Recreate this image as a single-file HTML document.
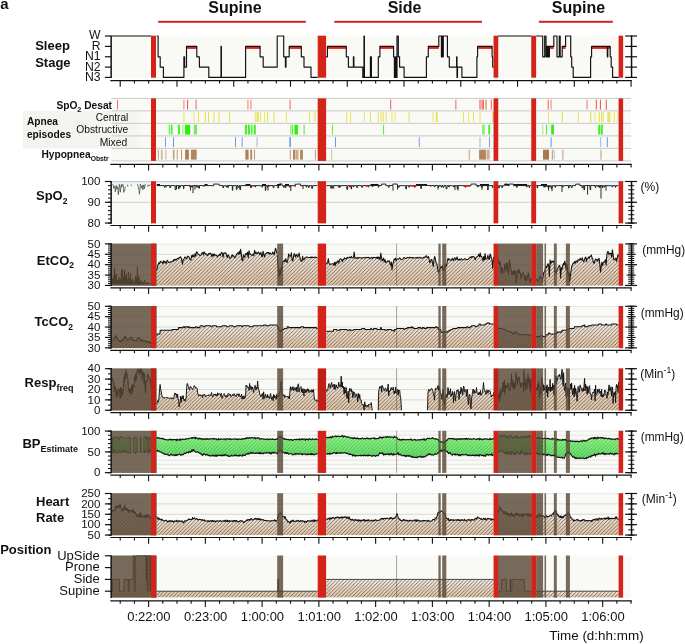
<!DOCTYPE html>
<html lang="en"><head><meta charset="utf-8"><title>Polysomnography overview</title>
<style>
html,body{margin:0;padding:0;background:#fff;}
body{width:685px;height:644px;overflow:hidden;}
svg{display:block;font-family:"Liberation Sans",sans-serif;fill:#111;}
svg rect,svg polygon,svg polyline,svg line,svg path{shape-rendering:auto;}
</style></head><body>
<svg width="685" height="644" viewBox="0 0 685 644">
<defs>
<pattern id="hatch" width="3.65" height="3.65" patternUnits="userSpaceOnUse">
<path d="M-1,1 L1,-1 M-0.5,4.15 L4.15,-0.5 M2.65,4.65 L4.65,2.65" stroke="#3e342b" stroke-width="0.8" stroke-opacity="0.78" fill="none"/>
</pattern>
<pattern id="hatchg" width="3.65" height="3.65" patternUnits="userSpaceOnUse">
<path d="M-1,1 L1,-1 M-0.5,4.15 L4.15,-0.5 M2.65,4.65 L4.65,2.65" stroke="#1d5c22" stroke-width="0.8" stroke-opacity="0.42" fill="none"/>
</pattern>
<linearGradient id="tan" x1="0" y1="0" x2="0" y2="1">
<stop offset="0" stop-color="#f3ebe2"/><stop offset="1" stop-color="#dfc4a7"/>
</linearGradient>
<linearGradient id="grn" x1="0" y1="0" x2="0" y2="1">
<stop offset="0" stop-color="#8ff887"/><stop offset="1" stop-color="#62da66"/>
</linearGradient>
<linearGradient id="blu" x1="0" y1="0" x2="0" y2="1">
<stop offset="0" stop-color="#d3e3f3"/><stop offset="1" stop-color="#e6eef5" stop-opacity="0"/>
</linearGradient>
<linearGradient id="fade" x1="0" y1="0" x2="1" y2="0">
<stop offset="0" stop-color="#f3f3ef"/><stop offset="0.75" stop-color="#f3f3ef" stop-opacity="0.8"/><stop offset="1" stop-color="#f3f3ef" stop-opacity="0"/>
</linearGradient>
</defs>
<rect width="685" height="644" fill="#fff"/>

<text x="0.3" y="8.6" font-size="15" font-weight="bold" text-anchor="start" >a</text>
<text x="234.9" y="12.6" font-size="16" font-weight="bold" text-anchor="middle" >Supine</text>
<rect x="158.2" y="20.8" width="147.6" height="2" fill="#d42318" />
<text x="404.6" y="13.2" font-size="16" font-weight="bold" text-anchor="middle" >Side</text>
<rect x="334.3" y="20.8" width="147.7" height="2" fill="#d42318" />
<text x="578.5" y="12.5" font-size="16" font-weight="bold" text-anchor="middle" >Supine</text>
<rect x="538.9" y="20.8" width="73.9" height="2" fill="#d42318" />
<rect x="111.5" y="35.7" width="512.8" height="42.6" fill="#f9f9f6" />
<text x="35.2" y="49.5" font-size="13" font-weight="bold" text-anchor="start" >Sleep</text>
<text x="35.2" y="66.7" font-size="13" font-weight="bold" text-anchor="start" >Stage</text>
<text x="100.6" y="39.45" font-size="12.2" font-weight="normal" text-anchor="end" >W</text>
<text x="100.6" y="49.85" font-size="12.2" font-weight="normal" text-anchor="end" >R</text>
<text x="100.6" y="60.2" font-size="12.2" font-weight="normal" text-anchor="end" >N1</text>
<text x="100.6" y="70.55" font-size="12.2" font-weight="normal" text-anchor="end" >N2</text>
<text x="100.6" y="80.85" font-size="12.2" font-weight="normal" text-anchor="end" >N3</text>
<line x1="111.15" y1="35.4" x2="111.15" y2="78" stroke="#111" stroke-width="1.5" />
<line x1="104.9" y1="36" x2="111.15" y2="36" stroke="#111" stroke-width="1.2" />
<line x1="104.9" y1="46.4" x2="111.15" y2="46.4" stroke="#111" stroke-width="1.2" />
<line x1="104.9" y1="56.75" x2="111.15" y2="56.75" stroke="#111" stroke-width="1.2" />
<line x1="104.9" y1="67.1" x2="111.15" y2="67.1" stroke="#111" stroke-width="1.2" />
<line x1="104.9" y1="77.4" x2="111.15" y2="77.4" stroke="#111" stroke-width="1.2" />
<line x1="631.55" y1="35.4" x2="631.55" y2="78" stroke="#111" stroke-width="1.5" />
<line x1="625.1" y1="36" x2="637" y2="36" stroke="#111" stroke-width="1.2" />
<line x1="625.1" y1="46.4" x2="637" y2="46.4" stroke="#111" stroke-width="1.2" />
<line x1="625.1" y1="56.75" x2="637" y2="56.75" stroke="#111" stroke-width="1.2" />
<line x1="625.1" y1="67.1" x2="637" y2="67.1" stroke="#111" stroke-width="1.2" />
<line x1="625.1" y1="77.4" x2="637" y2="77.4" stroke="#111" stroke-width="1.2" />
<line x1="110.3" y1="80.6" x2="631.8" y2="80.6" stroke="#111" stroke-width="1.2" />
<line x1="120.22" y1="80.6" x2="120.22" y2="86.8" stroke="#111" stroke-width="1.1" />
<line x1="134.41" y1="80.6" x2="134.41" y2="83.6" stroke="#111" stroke-width="1.1" />
<line x1="148.6" y1="80.6" x2="148.6" y2="83.6" stroke="#111" stroke-width="1.1" />
<line x1="162.79" y1="80.6" x2="162.79" y2="83.6" stroke="#111" stroke-width="1.1" />
<line x1="176.98" y1="80.6" x2="176.98" y2="86.8" stroke="#111" stroke-width="1.1" />
<line x1="191.17" y1="80.6" x2="191.17" y2="83.6" stroke="#111" stroke-width="1.1" />
<line x1="205.36" y1="80.6" x2="205.36" y2="83.6" stroke="#111" stroke-width="1.1" />
<line x1="219.55" y1="80.6" x2="219.55" y2="83.6" stroke="#111" stroke-width="1.1" />
<line x1="233.74" y1="80.6" x2="233.74" y2="86.8" stroke="#111" stroke-width="1.1" />
<line x1="247.93" y1="80.6" x2="247.93" y2="83.6" stroke="#111" stroke-width="1.1" />
<line x1="262.12" y1="80.6" x2="262.12" y2="83.6" stroke="#111" stroke-width="1.1" />
<line x1="276.31" y1="80.6" x2="276.31" y2="83.6" stroke="#111" stroke-width="1.1" />
<line x1="290.5" y1="80.6" x2="290.5" y2="86.8" stroke="#111" stroke-width="1.1" />
<line x1="304.69" y1="80.6" x2="304.69" y2="83.6" stroke="#111" stroke-width="1.1" />
<line x1="318.88" y1="80.6" x2="318.88" y2="83.6" stroke="#111" stroke-width="1.1" />
<line x1="333.07" y1="80.6" x2="333.07" y2="83.6" stroke="#111" stroke-width="1.1" />
<line x1="347.26" y1="80.6" x2="347.26" y2="86.8" stroke="#111" stroke-width="1.1" />
<line x1="361.45" y1="80.6" x2="361.45" y2="83.6" stroke="#111" stroke-width="1.1" />
<line x1="375.64" y1="80.6" x2="375.64" y2="83.6" stroke="#111" stroke-width="1.1" />
<line x1="389.83" y1="80.6" x2="389.83" y2="83.6" stroke="#111" stroke-width="1.1" />
<line x1="404.02" y1="80.6" x2="404.02" y2="86.8" stroke="#111" stroke-width="1.1" />
<line x1="418.21" y1="80.6" x2="418.21" y2="83.6" stroke="#111" stroke-width="1.1" />
<line x1="432.4" y1="80.6" x2="432.4" y2="83.6" stroke="#111" stroke-width="1.1" />
<line x1="446.59" y1="80.6" x2="446.59" y2="83.6" stroke="#111" stroke-width="1.1" />
<line x1="460.78" y1="80.6" x2="460.78" y2="86.8" stroke="#111" stroke-width="1.1" />
<line x1="474.97" y1="80.6" x2="474.97" y2="83.6" stroke="#111" stroke-width="1.1" />
<line x1="489.16" y1="80.6" x2="489.16" y2="83.6" stroke="#111" stroke-width="1.1" />
<line x1="503.35" y1="80.6" x2="503.35" y2="83.6" stroke="#111" stroke-width="1.1" />
<line x1="517.54" y1="80.6" x2="517.54" y2="86.8" stroke="#111" stroke-width="1.1" />
<line x1="531.73" y1="80.6" x2="531.73" y2="83.6" stroke="#111" stroke-width="1.1" />
<line x1="545.92" y1="80.6" x2="545.92" y2="83.6" stroke="#111" stroke-width="1.1" />
<line x1="560.11" y1="80.6" x2="560.11" y2="83.6" stroke="#111" stroke-width="1.1" />
<line x1="574.3" y1="80.6" x2="574.3" y2="86.8" stroke="#111" stroke-width="1.1" />
<line x1="588.49" y1="80.6" x2="588.49" y2="83.6" stroke="#111" stroke-width="1.1" />
<line x1="602.68" y1="80.6" x2="602.68" y2="83.6" stroke="#111" stroke-width="1.1" />
<line x1="616.87" y1="80.6" x2="616.87" y2="83.6" stroke="#111" stroke-width="1.1" />
<line x1="631.06" y1="80.6" x2="631.06" y2="86.8" stroke="#111" stroke-width="1.1" />
<rect x="186.5" y="46.4" width="10.3" height="2.5" fill="#ee1c12" />
<rect x="245.6" y="46.4" width="14.5" height="2.5" fill="#ee1c12" />
<rect x="289.2" y="46.4" width="12.1" height="2.5" fill="#ee1c12" />
<rect x="327.4" y="46.4" width="18.9" height="2.5" fill="#ee1c12" />
<rect x="379.9" y="46.4" width="13.7" height="2.5" fill="#ee1c12" />
<rect x="428.3" y="46.4" width="10.5" height="2.5" fill="#ee1c12" />
<rect x="477.6" y="46.4" width="14.5" height="2.5" fill="#ee1c12" />
<rect x="549" y="46.4" width="4.8" height="2.5" fill="#ee1c12" />
<rect x="562.6" y="46.4" width="3" height="2.5" fill="#ee1c12" />
<rect x="591.6" y="46.4" width="18.6" height="2.5" fill="#ee1c12" />
<polyline points="111.9,36 151,36 151,36" fill="none" stroke="#111" stroke-width="1.15" stroke-linejoin="round" />
<polyline points="156.8,36 158.1,36 158.1,56.8 160.2,56.8 160.2,67.1 163.4,67.1 163.4,77.4 183.9,77.4 183.9,56.8 184.6,56.8 184.6,67.1 185.4,67.1 185.4,67.1 186.5,67.1 186.5,46.4 196.8,46.4 196.8,56.8 199.4,56.8 199.4,67.1 208.8,67.1 208.8,77.4 221,77.4 221,46.4 221.4,46.4 221.4,77.4 245.6,77.4 245.6,46.4 260.1,46.4 260.1,56.8 263.2,56.8 263.2,67.1 277.2,67.1 277.2,36 283.7,36 283.7,56.8 285.4,56.8 285.4,67.1 286,67.1 286,56.8 289.2,56.8 289.2,46.4 301.3,46.4 301.3,56.8 304,56.8 304,67.1 311,67.1 311,77.4 317.6,77.4 317.6,77.4" fill="none" stroke="#111" stroke-width="1.15" stroke-linejoin="round" />
<polyline points="325.8,56.8 327.4,56.8 327.4,46.4 346.3,46.4 346.3,56.8 348.4,56.8 348.4,67.1 353.4,67.1 353.4,56.8 353.9,56.8 353.9,67.1 362.8,67.1 362.8,77.4 364,77.4 364,36 364.4,36 364.4,77.4 370.4,77.4 370.4,56.8 371.4,56.8 371.4,77.4 378.3,77.4 378.3,56.8 379.9,56.8 379.9,46.4 393.6,46.4 393.6,56.8 394.4,56.8 394.4,77.4 395.6,77.4 395.6,56.8 396.4,56.8 396.4,77.4 397,77.4 397,36 398.3,36 398.3,56.8 399.6,56.8 399.6,67.1 404.1,67.1 404.1,77.4 426.4,77.4 426.4,56.8 428.3,56.8 428.3,46.4 438.8,46.4 438.8,36 441.4,36 441.4,56.8 442,56.8 442,36 442.8,36 442.8,56.8 443.3,56.8 443.3,36 447.4,36 447.4,56.8 449.3,56.8 449.3,67.1 456.6,67.1 456.6,56.8 457,56.8 457,77.4 457.5,77.4 457.5,67.1 461.9,67.1 461.9,77.4 476.9,77.4 476.9,56.8 477.6,56.8 477.6,46.4 492.1,46.4 492.1,56.8 492.7,56.8 492.7,67.1 493.7,67.1 493.7,67.1" fill="none" stroke="#111" stroke-width="1.15" stroke-linejoin="round" />
<polyline points="498,36 531.6,36 531.6,36" fill="none" stroke="#111" stroke-width="1.15" stroke-linejoin="round" />
<polyline points="536.1,36 542.7,36 542.7,56.8 544.7,56.8 544.7,36 546,36 546,56.8 546.5,56.8 546.5,46.4 547,46.4 547,56.8 547.5,56.8 547.5,46.4 548,46.4 548,56.8 548.5,56.8 548.5,46.4 549,46.4 549,56.8 549.4,56.8 549.4,46.4 553.8,46.4 553.8,36 557,36 557,56.8 559.3,56.8 559.3,36 560.2,36 560.2,56.8 562.2,56.8 562.2,46.4 565.6,46.4 565.6,36 570.7,36 570.7,56.8 571.7,56.8 571.7,67.1 573.2,67.1 573.2,77.4 590.6,77.4 590.6,56.8 591.6,56.8 591.6,46.4 607.3,46.4 607.3,56.8 607.8,56.8 607.8,46.4 610.2,46.4 610.2,56.8 611.2,56.8 611.2,67.1 612.6,67.1 612.6,77.4 618.7,77.4 618.7,77.4" fill="none" stroke="#111" stroke-width="1.15" stroke-linejoin="round" />
<rect x="151" y="35.7" width="5" height="42" fill="#d42318" />
<rect x="317.7" y="35.7" width="8.4" height="42" fill="#d42318" />
<rect x="493.55" y="35.7" width="4.7" height="42" fill="#d42318" />
<rect x="531.25" y="35.7" width="4.85" height="42" fill="#d42318" />
<rect x="618.6" y="35.7" width="4.5" height="42" fill="#d42318" />
<rect x="23" y="111" width="88.5" height="37.4" fill="#f3f3ef" />
<rect x="111.5" y="98.4" width="519.5" height="62.5" fill="#f9f9f6" />
<rect x="111.5" y="111" width="31.5" height="37.4" fill="url(#fade)" />
<line x1="111.5" y1="98.4" x2="631" y2="98.4" stroke="#c4c4c2" stroke-width="0.9" />
<line x1="111.5" y1="110.9" x2="631" y2="110.9" stroke="#c4c4c2" stroke-width="0.9" />
<line x1="111.5" y1="123.4" x2="631" y2="123.4" stroke="#c4c4c2" stroke-width="0.9" />
<line x1="111.5" y1="135.9" x2="631" y2="135.9" stroke="#c4c4c2" stroke-width="0.9" />
<line x1="111.5" y1="148.4" x2="631" y2="148.4" stroke="#c4c4c2" stroke-width="0.9" />
<line x1="111.5" y1="160.9" x2="631" y2="160.9" stroke="#c4c4c2" stroke-width="0.9" />
<rect x="117" y="99.7" width="0.8" height="9.9" fill="#ee3a34" fill-opacity="0.9"/>
<rect x="183.3" y="99.7" width="1.2" height="9.9" fill="#ee3a34" fill-opacity="0.5"/>
<rect x="187.1" y="99.7" width="1" height="9.9" fill="#ee3a34" fill-opacity="0.9"/>
<rect x="195.55" y="99.7" width="1.1" height="9.9" fill="#ee3a34" fill-opacity="0.7"/>
<rect x="247.35" y="99.7" width="1.1" height="9.9" fill="#ee3a34" fill-opacity="0.6"/>
<rect x="250.35" y="99.7" width="1.1" height="9.9" fill="#ee3a34" fill-opacity="0.6"/>
<rect x="289.55" y="99.7" width="1.1" height="9.9" fill="#ee3a34" fill-opacity="0.7"/>
<rect x="390.2" y="99.7" width="1" height="9.9" fill="#ee3a34" fill-opacity="0.8"/>
<rect x="455.05" y="99.7" width="1.5" height="9.9" fill="#ee3a34" fill-opacity="0.5"/>
<rect x="479.5" y="99.7" width="1" height="9.9" fill="#ee3a34" fill-opacity="0.9"/>
<rect x="481.6" y="99.7" width="1" height="9.9" fill="#ee3a34" fill-opacity="0.9"/>
<rect x="482.9" y="99.7" width="1" height="9.9" fill="#ee3a34" fill-opacity="0.8"/>
<rect x="485.5" y="99.7" width="1" height="9.9" fill="#ee3a34" fill-opacity="0.8"/>
<rect x="490.85" y="99.7" width="0.9" height="9.9" fill="#ee3a34" fill-opacity="0.9"/>
<rect x="547.7" y="99.7" width="1" height="9.9" fill="#ee3a34" fill-opacity="0.8"/>
<rect x="550.5" y="99.7" width="1.2" height="9.9" fill="#ee3a34" fill-opacity="0.5"/>
<rect x="586.45" y="99.7" width="1.3" height="9.9" fill="#ee3a34" fill-opacity="0.5"/>
<rect x="595.8" y="99.7" width="1" height="9.9" fill="#ee3a34" fill-opacity="0.9"/>
<rect x="599.9" y="99.7" width="1" height="9.9" fill="#ee3a34" fill-opacity="0.9"/>
<rect x="605.8" y="99.7" width="1" height="9.9" fill="#ee3a34" fill-opacity="0.9"/>
<rect x="183.1" y="112.2" width="1.6" height="9.9" fill="#e0de28" fill-opacity="0.5"/>
<rect x="193.3" y="112.2" width="1.4" height="9.9" fill="#e0de28" fill-opacity="0.5"/>
<rect x="198" y="112.2" width="1" height="9.9" fill="#e0de28" fill-opacity="0.9"/>
<rect x="204.9" y="112.2" width="1" height="9.9" fill="#e0de28" fill-opacity="0.9"/>
<rect x="208" y="112.2" width="1" height="9.9" fill="#e0de28" fill-opacity="0.9"/>
<rect x="213.2" y="112.2" width="1.6" height="9.9" fill="#e0de28" fill-opacity="0.5"/>
<rect x="218.2" y="112.2" width="1.6" height="9.9" fill="#e0de28" fill-opacity="0.5"/>
<rect x="229" y="112.2" width="1" height="9.9" fill="#e0de28" fill-opacity="0.9"/>
<rect x="254.8" y="112.2" width="1.2" height="9.9" fill="#e0de28" fill-opacity="0.6"/>
<rect x="256.7" y="112.2" width="2" height="9.9" fill="#e0de28" fill-opacity="0.9"/>
<rect x="260.1" y="112.2" width="1" height="9.9" fill="#e0de28" fill-opacity="0.7"/>
<rect x="264.1" y="112.2" width="1" height="9.9" fill="#e0de28" fill-opacity="0.7"/>
<rect x="267.1" y="112.2" width="1" height="9.9" fill="#e0de28" fill-opacity="0.9"/>
<rect x="273" y="112.2" width="1.8" height="9.9" fill="#e0de28" fill-opacity="0.5"/>
<rect x="285.95" y="112.2" width="0.9" height="9.9" fill="#e0de28" fill-opacity="0.9"/>
<rect x="309.1" y="112.2" width="1" height="9.9" fill="#e0de28" fill-opacity="0.8"/>
<rect x="314" y="112.2" width="1.8" height="9.9" fill="#e0de28" fill-opacity="0.5"/>
<rect x="346.3" y="112.2" width="1" height="9.9" fill="#e0de28" fill-opacity="0.8"/>
<rect x="350" y="112.2" width="1" height="9.9" fill="#e0de28" fill-opacity="0.8"/>
<rect x="363.9" y="112.2" width="1" height="9.9" fill="#e0de28" fill-opacity="0.7"/>
<rect x="370" y="112.2" width="1" height="9.9" fill="#e0de28" fill-opacity="0.8"/>
<rect x="377.8" y="112.2" width="1" height="9.9" fill="#e0de28" fill-opacity="0.8"/>
<rect x="380.5" y="112.2" width="1" height="9.9" fill="#e0de28" fill-opacity="0.8"/>
<rect x="382.8" y="112.2" width="1" height="9.9" fill="#e0de28" fill-opacity="0.8"/>
<rect x="385.7" y="112.2" width="1" height="9.9" fill="#e0de28" fill-opacity="0.8"/>
<rect x="391.5" y="112.2" width="1" height="9.9" fill="#e0de28" fill-opacity="0.8"/>
<rect x="394.7" y="112.2" width="1" height="9.9" fill="#e0de28" fill-opacity="0.7"/>
<rect x="408.5" y="112.2" width="1.2" height="9.9" fill="#e0de28" fill-opacity="0.7"/>
<rect x="432.5" y="112.2" width="1" height="9.9" fill="#e0de28" fill-opacity="0.7"/>
<rect x="435.85" y="112.2" width="1.7" height="9.9" fill="#e0de28" fill-opacity="0.9"/>
<rect x="463" y="112.2" width="1" height="9.9" fill="#e0de28" fill-opacity="0.8"/>
<rect x="468.2" y="112.2" width="1" height="9.9" fill="#e0de28" fill-opacity="0.7"/>
<rect x="473" y="112.2" width="1" height="9.9" fill="#e0de28" fill-opacity="0.8"/>
<rect x="479.5" y="112.2" width="1" height="9.9" fill="#e0de28" fill-opacity="0.8"/>
<rect x="548" y="112.2" width="1" height="9.9" fill="#e0de28" fill-opacity="0.8"/>
<rect x="561.75" y="112.2" width="1.1" height="9.9" fill="#e0de28" fill-opacity="0.9"/>
<rect x="577.8" y="112.2" width="1" height="9.9" fill="#e0de28" fill-opacity="0.8"/>
<rect x="590.05" y="112.2" width="1.1" height="9.9" fill="#e0de28" fill-opacity="0.9"/>
<rect x="594.4" y="112.2" width="1.2" height="9.9" fill="#e0de28" fill-opacity="0.5"/>
<rect x="598.8" y="112.2" width="1" height="9.9" fill="#e0de28" fill-opacity="0.9"/>
<rect x="601.1" y="112.2" width="1" height="9.9" fill="#e0de28" fill-opacity="0.9"/>
<rect x="602.7" y="112.2" width="1" height="9.9" fill="#e0de28" fill-opacity="0.8"/>
<rect x="607.3" y="112.2" width="3.1" height="9.9" fill="#e0de28" fill-opacity="0.75"/>
<rect x="613.8" y="112.2" width="1" height="9.9" fill="#e0de28" fill-opacity="0.8"/>
<rect x="617" y="112.2" width="1.4" height="9.9" fill="#e0de28" fill-opacity="0.5"/>
<rect x="492.5" y="112.2" width="1" height="9.9" fill="#e09020" fill-opacity="0.9"/>
<rect x="168.8" y="124.7" width="1" height="9.9" fill="#2eee10" fill-opacity="0.9"/>
<rect x="170.9" y="124.7" width="1.6" height="9.9" fill="#2eee10" fill-opacity="0.9"/>
<rect x="177.9" y="124.7" width="2" height="9.9" fill="#2eee10" fill-opacity="0.9"/>
<rect x="182.2" y="124.7" width="1.2" height="9.9" fill="#2eee10" fill-opacity="0.5"/>
<rect x="185" y="124.7" width="5.2" height="9.9" fill="#2eee10" />
<rect x="193.85" y="124.7" width="0.9" height="9.9" fill="#2eee10" fill-opacity="0.9"/>
<rect x="194.95" y="124.7" width="0.9" height="9.9" fill="#2eee10" fill-opacity="0.7"/>
<rect x="195.95" y="124.7" width="0.9" height="9.9" fill="#2eee10" fill-opacity="0.9"/>
<rect x="244.9" y="124.7" width="2" height="9.9" fill="#2eee10" fill-opacity="0.9"/>
<rect x="247.9" y="124.7" width="2" height="9.9" fill="#2eee10" fill-opacity="0.9"/>
<rect x="251.1" y="124.7" width="1.4" height="9.9" fill="#2eee10" fill-opacity="0.9"/>
<rect x="253.8" y="124.7" width="2" height="9.9" fill="#2eee10" fill-opacity="0.9"/>
<rect x="290.1" y="124.7" width="1" height="9.9" fill="#2eee10" fill-opacity="0.5"/>
<rect x="291.7" y="124.7" width="1.2" height="9.9" fill="#2eee10" fill-opacity="0.9"/>
<rect x="294.4" y="124.7" width="3.5" height="9.9" fill="#2eee10" />
<rect x="303.55" y="124.7" width="1.1" height="9.9" fill="#2eee10" fill-opacity="0.8"/>
<rect x="331.95" y="124.7" width="0.9" height="9.9" fill="#2eee10" fill-opacity="0.9"/>
<rect x="383.15" y="124.7" width="0.9" height="9.9" fill="#2eee10" fill-opacity="0.9"/>
<rect x="482" y="124.7" width="2.8" height="9.9" fill="#2eee10" fill-opacity="0.55"/>
<rect x="488.3" y="124.7" width="1.8" height="9.9" fill="#2eee10" fill-opacity="0.9"/>
<rect x="542.2" y="124.7" width="1" height="9.9" fill="#2eee10" fill-opacity="0.5"/>
<rect x="545.9" y="124.7" width="1" height="9.9" fill="#2eee10" fill-opacity="0.9"/>
<rect x="551.2" y="124.7" width="2.7" height="9.9" fill="#2eee10" />
<rect x="598.2" y="124.7" width="1.8" height="9.9" fill="#2eee10" fill-opacity="0.9"/>
<rect x="600.6" y="124.7" width="2.3" height="9.9" fill="#2eee10" fill-opacity="0.85"/>
<rect x="165.05" y="137.2" width="0.9" height="9.9" fill="#4f8fee" fill-opacity="0.9"/>
<rect x="173" y="137.2" width="1" height="9.9" fill="#4f8fee" fill-opacity="0.9"/>
<rect x="235" y="137.2" width="1" height="9.9" fill="#4f8fee" fill-opacity="0.9"/>
<rect x="241.7" y="137.2" width="1" height="9.9" fill="#4f8fee" fill-opacity="0.8"/>
<rect x="256.5" y="137.2" width="1.2" height="9.9" fill="#4f8fee" fill-opacity="0.5"/>
<rect x="289.35" y="137.2" width="1.5" height="9.9" fill="#4f8fee" fill-opacity="0.9"/>
<rect x="335" y="137.2" width="1" height="9.9" fill="#4f8fee" fill-opacity="0.9"/>
<rect x="418.8" y="137.2" width="1" height="9.9" fill="#4f8fee" fill-opacity="0.8"/>
<rect x="479.4" y="137.2" width="1.2" height="9.9" fill="#4f8fee" fill-opacity="0.5"/>
<rect x="489.05" y="137.2" width="0.9" height="9.9" fill="#4f8fee" fill-opacity="0.9"/>
<rect x="550.6" y="137.2" width="1" height="9.9" fill="#4f8fee" fill-opacity="0.9"/>
<rect x="600" y="137.2" width="1.2" height="9.9" fill="#4f8fee" fill-opacity="0.5"/>
<rect x="606.8" y="137.2" width="1" height="9.9" fill="#4f8fee" fill-opacity="0.9"/>
<rect x="157.85" y="149.7" width="0.9" height="9.9" fill="#a9784c" fill-opacity="0.8"/>
<rect x="160.9" y="149.7" width="1.8" height="9.9" fill="#a9784c" fill-opacity="0.5"/>
<rect x="165.1" y="149.7" width="1.4" height="9.9" fill="#a9784c" fill-opacity="0.4"/>
<rect x="172.9" y="149.7" width="1.6" height="9.9" fill="#a9784c" fill-opacity="0.7"/>
<rect x="176.7" y="149.7" width="1" height="9.9" fill="#a9784c" fill-opacity="0.7"/>
<rect x="181" y="149.7" width="1" height="9.9" fill="#a9784c" fill-opacity="0.8"/>
<rect x="185.1" y="149.7" width="3.8" height="9.9" fill="#a9784c" fill-opacity="0.95"/>
<rect x="190.9" y="149.7" width="5.8" height="9.9" fill="#a9784c" fill-opacity="0.9"/>
<rect x="245.4" y="149.7" width="3.2" height="9.9" fill="#a9784c" fill-opacity="0.95"/>
<rect x="250.3" y="149.7" width="1.8" height="9.9" fill="#a9784c" fill-opacity="0.9"/>
<rect x="254" y="149.7" width="1" height="9.9" fill="#a9784c" fill-opacity="0.8"/>
<rect x="289.85" y="149.7" width="0.9" height="9.9" fill="#a9784c" fill-opacity="0.8"/>
<rect x="293.1" y="149.7" width="2.2" height="9.9" fill="#a9784c" fill-opacity="0.95"/>
<rect x="295.8" y="149.7" width="2.7" height="9.9" fill="#a9784c" fill-opacity="0.6"/>
<rect x="300.1" y="149.7" width="2.8" height="9.9" fill="#a9784c" fill-opacity="0.9"/>
<rect x="314.95" y="149.7" width="0.9" height="9.9" fill="#a9784c" fill-opacity="0.8"/>
<rect x="331.1" y="149.7" width="1" height="9.9" fill="#a9784c" fill-opacity="0.45"/>
<rect x="468.75" y="149.7" width="0.9" height="9.9" fill="#a9784c" fill-opacity="0.8"/>
<rect x="479.1" y="149.7" width="6.8" height="9.9" fill="#a9784c" fill-opacity="0.9"/>
<rect x="486.5" y="149.7" width="3.3" height="9.9" fill="#a9784c" fill-opacity="0.55"/>
<rect x="543" y="149.7" width="6" height="9.9" fill="#a9784c" />
<rect x="551.8" y="149.7" width="1" height="9.9" fill="#a9784c" fill-opacity="0.8"/>
<rect x="553.7" y="149.7" width="1" height="9.9" fill="#a9784c" fill-opacity="0.5"/>
<rect x="562" y="149.7" width="1.6" height="9.9" fill="#a9784c" fill-opacity="0.45"/>
<rect x="600.2" y="149.7" width="1.6" height="9.9" fill="#a9784c" fill-opacity="0.45"/>
<rect x="151" y="98.4" width="5" height="62.5" fill="#d42318" />
<rect x="317.7" y="98.4" width="8.4" height="62.5" fill="#d42318" />
<rect x="493.55" y="98.4" width="4.7" height="62.5" fill="#d42318" />
<rect x="531.25" y="98.4" width="4.85" height="62.5" fill="#d42318" />
<rect x="618.6" y="98.4" width="4.5" height="62.5" fill="#d42318" />
<line x1="110.3" y1="164.4" x2="631.8" y2="164.4" stroke="#111" stroke-width="1.2" />
<line x1="120.22" y1="164.4" x2="120.22" y2="167.4" stroke="#111" stroke-width="1.1" />
<line x1="134.41" y1="164.4" x2="134.41" y2="167.4" stroke="#111" stroke-width="1.1" />
<line x1="148.6" y1="164.4" x2="148.6" y2="170.6" stroke="#111" stroke-width="1.1" />
<line x1="162.79" y1="164.4" x2="162.79" y2="167.4" stroke="#111" stroke-width="1.1" />
<line x1="176.98" y1="164.4" x2="176.98" y2="167.4" stroke="#111" stroke-width="1.1" />
<line x1="191.17" y1="164.4" x2="191.17" y2="167.4" stroke="#111" stroke-width="1.1" />
<line x1="205.36" y1="164.4" x2="205.36" y2="170.6" stroke="#111" stroke-width="1.1" />
<line x1="219.55" y1="164.4" x2="219.55" y2="167.4" stroke="#111" stroke-width="1.1" />
<line x1="233.74" y1="164.4" x2="233.74" y2="167.4" stroke="#111" stroke-width="1.1" />
<line x1="247.93" y1="164.4" x2="247.93" y2="167.4" stroke="#111" stroke-width="1.1" />
<line x1="262.12" y1="164.4" x2="262.12" y2="170.6" stroke="#111" stroke-width="1.1" />
<line x1="276.31" y1="164.4" x2="276.31" y2="167.4" stroke="#111" stroke-width="1.1" />
<line x1="290.5" y1="164.4" x2="290.5" y2="167.4" stroke="#111" stroke-width="1.1" />
<line x1="304.69" y1="164.4" x2="304.69" y2="167.4" stroke="#111" stroke-width="1.1" />
<line x1="318.88" y1="164.4" x2="318.88" y2="170.6" stroke="#111" stroke-width="1.1" />
<line x1="333.07" y1="164.4" x2="333.07" y2="167.4" stroke="#111" stroke-width="1.1" />
<line x1="347.26" y1="164.4" x2="347.26" y2="167.4" stroke="#111" stroke-width="1.1" />
<line x1="361.45" y1="164.4" x2="361.45" y2="167.4" stroke="#111" stroke-width="1.1" />
<line x1="375.64" y1="164.4" x2="375.64" y2="170.6" stroke="#111" stroke-width="1.1" />
<line x1="389.83" y1="164.4" x2="389.83" y2="167.4" stroke="#111" stroke-width="1.1" />
<line x1="404.02" y1="164.4" x2="404.02" y2="167.4" stroke="#111" stroke-width="1.1" />
<line x1="418.21" y1="164.4" x2="418.21" y2="167.4" stroke="#111" stroke-width="1.1" />
<line x1="432.4" y1="164.4" x2="432.4" y2="170.6" stroke="#111" stroke-width="1.1" />
<line x1="446.59" y1="164.4" x2="446.59" y2="167.4" stroke="#111" stroke-width="1.1" />
<line x1="460.78" y1="164.4" x2="460.78" y2="167.4" stroke="#111" stroke-width="1.1" />
<line x1="474.97" y1="164.4" x2="474.97" y2="167.4" stroke="#111" stroke-width="1.1" />
<line x1="489.16" y1="164.4" x2="489.16" y2="170.6" stroke="#111" stroke-width="1.1" />
<line x1="503.35" y1="164.4" x2="503.35" y2="167.4" stroke="#111" stroke-width="1.1" />
<line x1="517.54" y1="164.4" x2="517.54" y2="167.4" stroke="#111" stroke-width="1.1" />
<line x1="531.73" y1="164.4" x2="531.73" y2="167.4" stroke="#111" stroke-width="1.1" />
<line x1="545.92" y1="164.4" x2="545.92" y2="170.6" stroke="#111" stroke-width="1.1" />
<line x1="560.11" y1="164.4" x2="560.11" y2="167.4" stroke="#111" stroke-width="1.1" />
<line x1="574.3" y1="164.4" x2="574.3" y2="167.4" stroke="#111" stroke-width="1.1" />
<line x1="588.49" y1="164.4" x2="588.49" y2="167.4" stroke="#111" stroke-width="1.1" />
<line x1="602.68" y1="164.4" x2="602.68" y2="170.6" stroke="#111" stroke-width="1.1" />
<line x1="616.87" y1="164.4" x2="616.87" y2="167.4" stroke="#111" stroke-width="1.1" />
<line x1="631.06" y1="164.4" x2="631.06" y2="167.4" stroke="#111" stroke-width="1.1" />
<text x="112" y="108.9" font-size="10.2" font-weight="bold" text-anchor="end" >SpO<tspan font-size="7.3" dy="2.6">2</tspan><tspan dy="-2.6"> Desat</tspan></text>
<text x="26.9" y="124.5" font-size="10.2" font-weight="bold" text-anchor="start" >Apnea</text>
<text x="26.9" y="137.7" font-size="10.2" font-weight="bold" text-anchor="start" >episodes</text>
<text x="128.3" y="120.6" font-size="10.1" font-weight="normal" text-anchor="end" >Central</text>
<text x="128.3" y="133" font-size="10.3" font-weight="normal" text-anchor="end" >Obstructive</text>
<text x="127.2" y="145.5" font-size="10.3" font-weight="normal" text-anchor="end" >Mixed</text>
<text x="41.4" y="158.35" font-size="10.2" font-weight="bold" text-anchor="start" >Hypopnea<tspan font-size="6.8" dy="2.4">Obstr</tspan></text>
<rect x="111.5" y="181.2" width="512.8" height="42.55" fill="#f9f9f6" />
<rect x="111.5" y="181.5" width="512.8" height="3.6" fill="url(#blu)" />
<line x1="111.5" y1="181.5" x2="624.3" y2="181.5" stroke="#bcc6d2" stroke-width="0.8" />
<line x1="111.5" y1="202.28" x2="624.3" y2="202.28" stroke="#c9c9c5" stroke-width="0.9" />
<polyline points="112.3,184.3 112.8,184.4 113.3,185.3 113.8,188.5 114.3,186.4 114.8,185.8 115.3,191.8 115.8,188.5 116.3,185.4 116.8,189.1 117.3,187 117.8,187 118.3,194.8 118.8,189.2 119.3,184.3 119.8,186.7 120.3,192.3 120.8,188.4 121.3,184.5 121.8,187.3 122.3,185.4 122.8,184.2 123.3,185.9 123.8,192.4 124.3,189.9 124.8,190.2 125.3,186.4" fill="none" stroke="#333" stroke-width="0.65" stroke-linejoin="round" />
<polyline points="127.2,184.6 127.7,186.3 128.2,185.3" fill="none" stroke="#333" stroke-width="0.65" stroke-linejoin="round" />
<polyline points="131,184.3 131.5,186.1" fill="none" stroke="#333" stroke-width="0.65" stroke-linejoin="round" />
<polyline points="137.4,184 137.9,185 138.4,188.7 138.9,188.5 139.4,194.3 139.9,189.6 140.4,184.1 140.9,185.3 141.4,188.3 141.9,186.3 142.4,185.2 142.9,189.8 143.4,187.5 143.9,184.8 144.4,188.6 144.9,186.3 145.4,184.1" fill="none" stroke="#333" stroke-width="0.65" stroke-linejoin="round" />
<polyline points="147,185 147.5,185.2 148,186.4 148.5,185.6 149,184.9 149.5,185.7 150,185.3 150.5,184.3" fill="none" stroke="#333" stroke-width="0.65" stroke-linejoin="round" />
<line x1="176.5" y1="185.6" x2="176.5" y2="189.1" stroke="#111" stroke-width="0.9" />
<line x1="190.5" y1="185.6" x2="190.5" y2="190.6" stroke="#111" stroke-width="0.9" />
<line x1="193" y1="185.6" x2="193" y2="193.1" stroke="#111" stroke-width="0.9" />
<line x1="195" y1="185.6" x2="195" y2="189.6" stroke="#111" stroke-width="0.9" />
<line x1="268" y1="185.6" x2="268" y2="190.6" stroke="#111" stroke-width="0.9" />
<line x1="290.8" y1="185.6" x2="290.8" y2="191.1" stroke="#111" stroke-width="0.9" />
<line x1="303" y1="185.6" x2="303" y2="189.1" stroke="#111" stroke-width="0.9" />
<line x1="393" y1="185.6" x2="393" y2="190.6" stroke="#111" stroke-width="0.9" />
<line x1="397.5" y1="185.6" x2="397.5" y2="189.6" stroke="#111" stroke-width="0.9" />
<line x1="438" y1="185.6" x2="438" y2="189.6" stroke="#111" stroke-width="0.9" />
<line x1="455" y1="185.6" x2="455" y2="190.1" stroke="#111" stroke-width="0.9" />
<line x1="458" y1="185.6" x2="458" y2="190.6" stroke="#111" stroke-width="0.9" />
<line x1="482" y1="185.6" x2="482" y2="189.6" stroke="#111" stroke-width="0.9" />
<line x1="548.5" y1="185.6" x2="548.5" y2="190.6" stroke="#111" stroke-width="0.9" />
<line x1="552" y1="185.6" x2="552" y2="191.1" stroke="#111" stroke-width="0.9" />
<line x1="562" y1="185.6" x2="562" y2="192.1" stroke="#111" stroke-width="0.9" />
<line x1="587.6" y1="185.6" x2="587.6" y2="194.6" stroke="#111" stroke-width="0.9" />
<line x1="601" y1="185.6" x2="601" y2="198.6" stroke="#111" stroke-width="0.9" />
<line x1="606" y1="185.6" x2="606" y2="190.6" stroke="#111" stroke-width="0.9" />
<polyline points="156.8,185.6 164.3,185.5 164.3,187.2 165.1,187.4 165.1,185.6 166,185.6 166,186.7 166.5,186.7 166.5,185.5 169.8,185.5 169.8,187.6 170.6,187.5 170.6,185.6 175.2,185.6 175.2,189.8 176.2,189.4 176.2,185.7 178.6,185.6 178.6,188.9 179.1,188.7 179.1,185.5 179.7,185.7 179.7,187.1 180.5,187.1 180.5,185.6 183.5,185.7 183.5,188.7 183.9,188.5 183.9,185.5 189.7,185.4 189.7,186.7 190.6,187 190.6,185.8 191.4,185.6 191.4,187 192.4,187 192.4,185.7 196.7,185.6 196.7,187.4 197.3,187.4 197.3,185.6 198.7,185.7 198.7,188.2 199.5,188.2 199.5,185.5 213.8,185.7 213.8,184 219.1,184.2 219.1,185.4 222.9,185.6 222.9,187.9 223.5,187.7 223.5,185.8 226.1,185.8 226.1,186.9 226.8,187 226.8,185.6 227.8,185.3 227.8,187.7 228.3,187.6 228.3,185.6 232.3,185.5 232.3,190.2 232.8,190.2 232.8,185.7 236.3,185.6 236.3,189.3 237,189.4 237,185.5 238.1,185.6 238.1,187.4 239.1,187.8 239.1,185.7 239.9,185.7 239.9,189.8 240.6,189.7 240.6,185.6 250.5,185.6 250.5,187.6 251.4,187.7 251.4,185.8 255,185.7 255,186.9 255.5,186.9 255.5,185.5 262,185.8 262,187.2 262.4,187.2 262.4,185.6 265.3,185.5 265.3,190.3 265.9,190.4 265.9,185.6 267.5,185.6 267.5,187.1 267.9,187.1 267.9,185.4 273,185.6 273,187.5 273.9,187.7 273.9,185.5 277.9,185.7 277.9,188.1 278.6,187.9 278.6,185.5 279.2,185.6 279.2,184 282,183.9 282,185.7 283.6,185.8 283.6,187.3 284.4,187.3 284.4,185.5 285.4,185.6 285.4,187.5 285.8,187.5 285.8,185.8 289.2,185.5 289.2,187 290,187.1 290,185.6 295,185.7 295,184.3 300.5,184 300.5,185.5 306.2,185.4 306.2,187 306.6,187.2 306.6,185.7 308.3,185.5 308.3,187.4 309.2,187.5 309.2,185.6 311.7,185.6 311.7,188.3 312.6,188.3 312.6,185.6 317.4,185.6" fill="none" stroke="#111" stroke-width="0.9" stroke-linejoin="round" />
<polyline points="326.4,185.7 330.7,185.6 330.7,188.2 331.6,188.2 331.6,185.5 332.7,185.5 332.7,188.3 333.7,188.2 333.7,185.6 338.7,185.6 338.7,187.4 339.4,187.6 339.4,185.4 340,185.5 340,186.9 340.8,186.7 340.8,185.6 346.8,185.6 346.8,189.3 347.7,189.2 347.7,185.6 349.7,185.5 349.7,187 350.5,187 350.5,185.6 351.2,185.5 351.2,189 351.6,189 351.6,185.6 353.5,185.5 353.5,186.9 353.9,186.6 353.9,185.7 356.7,185.6 356.7,187.5 357.6,187.5 357.6,185.5 361.6,185.6 361.6,187.2 362.6,187.2 362.6,185.6 368.1,185.4 368.1,187 368.7,187.1 368.7,185.7 372.4,185.6 372.4,186.6 372.8,186.9 372.8,185.6 378.3,185.3 378.3,187.3 379,187 379,185.4 381.5,185.5 381.5,184.2 385.8,184 385.8,185.6 388.7,185.8 388.7,187.5 389.1,187.3 389.1,185.6 392.9,185.4 392.9,184 397.4,184.1 397.4,185.6 398.3,185.6 398.3,187.3 399.3,187.1 399.3,185.6 405.7,185.7 405.7,188.8 406.5,188.9 406.5,185.6 408.8,185.6 408.8,187.2 409.6,187 409.6,185.4 414.3,185.7 414.3,187.2 415.2,187.2 415.2,185.4 420.8,185.6 420.8,188.5 421.4,188.5 421.4,185.3 434.3,185.6 434.3,186.9 435,186.8 435,185.5 438.2,185.6 438.2,187.4 439,187 439,185.6 441.1,185.7 441.1,187.1 441.8,187.2 441.8,185.7 442.9,185.6 442.9,187.2 444,187.2 444,185.5 446,185.6 446,188.7 447,188.8 447,185.6 448.7,185.6 448.7,186.8 449.4,187 449.4,185.6 453.7,185.8 453.7,187 454.4,187.1 454.4,185.6 457.2,185.7 457.2,188.9 457.9,188.5 457.9,185.5 465.1,185.6 465.1,187.3 465.6,187.2 465.6,185.7 471,185.7 471,184.1 476.1,184 476.1,185.7 477.8,185.6 477.8,187.1 478.2,186.9 478.2,185.5 481.4,185.6 481.4,187.1 482.2,187.3 482.2,185.6 487.7,185.5 487.7,189.8 488.2,189.8 488.2,185.7 492.4,185.5 492.4,187.4 492.8,187.6 492.8,185.9 493.5,185.8" fill="none" stroke="#111" stroke-width="0.9" stroke-linejoin="round" />
<polyline points="498.2,185.7 498.7,185.8 498.7,188 499.3,188 499.3,185.7 501.8,185.7 501.8,187.7 502.4,187.6 502.4,185.8 504.4,185.8 504.4,184.1 507.9,184.1 507.9,185.4 509.1,185.7 509.1,184 513.4,184.1 513.4,185.7 516.3,185.6 516.3,187.1 517.2,187.3 517.2,185.5 526.3,185.6 526.3,186.9 527.2,186.9 527.2,185.3 529.1,185.7 529.1,187.5 529.5,187.6 529.5,185.8 531.4,185.6" fill="none" stroke="#111" stroke-width="0.9" stroke-linejoin="round" />
<polyline points="536.3,185.5 537.1,185.5 537.1,188 537.6,187.8 537.6,185.5 543.8,185.6 543.8,187.1 544.5,187.1 544.5,185.5 545.6,185.3 545.6,186.8 546.1,186.9 546.1,185.6 547.4,185.6 547.4,186.8 548,186.9 548,185.7 548.7,185.7 548.7,187.1 549.6,187 549.6,185.7 551.1,185.5 551.1,188.3 552.1,188.4 552.1,185.8 555,185.6 555,187.4 555.5,187.2 555.5,185.7 562.3,185.5 562.3,186.8 563.1,187.2 563.1,185.7 568.6,185.5 568.6,188.1 569,188.1 569,185.7 571.1,185.5 571.1,187.4 572.1,187.6 572.1,185.6 575.6,185.6 575.6,184.2 579.9,184.1 579.9,185.7 582,185.5 582,187.8 582.9,187.9 582.9,185.7 583.9,185.6 583.9,189.6 584.6,189.8 584.6,185.5 590,185.6 590,189.7 590.7,189.7 590.7,185.5 595.1,185.6 595.1,187.4 595.8,187.5 595.8,185.6 598.3,185.5 598.3,186.9 598.9,187 598.9,185.5 599.6,185.6 599.6,187.6 600.3,187.4 600.3,185.6 602.4,185.5 602.4,187.6 603,187.7 603,185.8 604.2,185.6 604.2,186.9 605,186.9 605,185.6 612.1,185.8 612.1,186.6 612.6,186.9 612.6,185.6 615.3,185.8 615.3,187.3 615.8,187.2 615.8,185.6 618.5,185.7" fill="none" stroke="#111" stroke-width="0.9" stroke-linejoin="round" />
<rect x="156.8" y="184" width="3.2" height="1.6" fill="#111" />
<rect x="204.5" y="184" width="3" height="1.6" fill="#111" />
<rect x="245.5" y="184" width="5" height="1.6" fill="#111" />
<rect x="262" y="184" width="4" height="1.6" fill="#111" />
<rect x="277" y="184" width="4" height="1.6" fill="#111" />
<rect x="285" y="184" width="4" height="1.6" fill="#111" />
<rect x="370.5" y="184" width="8" height="1.6" fill="#111" />
<rect x="416" y="184" width="11" height="1.6" fill="#111" />
<rect x="480" y="184" width="9" height="1.6" fill="#111" />
<rect x="505" y="184" width="4" height="1.6" fill="#111" />
<rect x="514" y="184" width="13" height="1.6" fill="#111" />
<rect x="541" y="184" width="6" height="1.6" fill="#111" />
<rect x="189" y="185" width="1.6" height="1.7" fill="#cc1a12" />
<rect x="202.8" y="185" width="1.8" height="1.7" fill="#cc1a12" />
<rect x="251" y="185" width="2.2" height="1.7" fill="#cc1a12" />
<rect x="268.6" y="185" width="1.6" height="1.7" fill="#cc1a12" />
<rect x="294.5" y="185" width="1.5" height="1.7" fill="#cc1a12" />
<rect x="301.8" y="185" width="1.4" height="1.7" fill="#cc1a12" />
<rect x="349" y="185" width="3.5" height="1.7" fill="#cc1a12" />
<rect x="365.5" y="185" width="3.5" height="1.7" fill="#cc1a12" />
<rect x="411" y="185" width="5.5" height="1.7" fill="#cc1a12" />
<rect x="430" y="185" width="1.5" height="1.7" fill="#cc1a12" />
<rect x="463.5" y="185" width="6.5" height="1.7" fill="#cc1a12" />
<rect x="549.5" y="185" width="1.5" height="1.7" fill="#cc1a12" />
<rect x="597" y="185" width="1.5" height="1.7" fill="#cc1a12" />
<rect x="151" y="181.2" width="5" height="42.15" fill="#d42318" />
<rect x="317.7" y="181.2" width="8.4" height="42.15" fill="#d42318" />
<rect x="493.55" y="181.2" width="4.7" height="42.15" fill="#d42318" />
<rect x="531.25" y="181.2" width="4.85" height="42.15" fill="#d42318" />
<rect x="618.6" y="181.2" width="4.5" height="42.15" fill="#d42318" />
<line x1="111.15" y1="180.9" x2="111.15" y2="223.65" stroke="#111" stroke-width="1.5" />
<line x1="108" y1="223.05" x2="111.15" y2="223.05" stroke="#111" stroke-width="1.05" />
<line x1="108" y1="218.89" x2="111.15" y2="218.89" stroke="#111" stroke-width="1.05" />
<line x1="108" y1="214.74" x2="111.15" y2="214.74" stroke="#111" stroke-width="1.05" />
<line x1="108" y1="210.59" x2="111.15" y2="210.59" stroke="#111" stroke-width="1.05" />
<line x1="108" y1="206.43" x2="111.15" y2="206.43" stroke="#111" stroke-width="1.05" />
<line x1="108" y1="202.28" x2="111.15" y2="202.28" stroke="#111" stroke-width="1.05" />
<line x1="108" y1="198.12" x2="111.15" y2="198.12" stroke="#111" stroke-width="1.05" />
<line x1="108" y1="193.97" x2="111.15" y2="193.97" stroke="#111" stroke-width="1.05" />
<line x1="108" y1="189.81" x2="111.15" y2="189.81" stroke="#111" stroke-width="1.05" />
<line x1="108" y1="185.66" x2="111.15" y2="185.66" stroke="#111" stroke-width="1.05" />
<line x1="108" y1="181.5" x2="111.15" y2="181.5" stroke="#111" stroke-width="1.05" />
<line x1="104.9" y1="181.5" x2="111.15" y2="181.5" stroke="#111" stroke-width="1.2" />
<line x1="104.9" y1="202.28" x2="111.15" y2="202.28" stroke="#111" stroke-width="1.2" />
<line x1="104.9" y1="223.05" x2="111.15" y2="223.05" stroke="#111" stroke-width="1.2" />
<line x1="631.55" y1="180.9" x2="631.55" y2="223.65" stroke="#111" stroke-width="1.5" />
<line x1="628.2" y1="223.05" x2="634.3" y2="223.05" stroke="#111" stroke-width="1.0" />
<line x1="628.2" y1="218.89" x2="634.3" y2="218.89" stroke="#111" stroke-width="1.0" />
<line x1="628.2" y1="214.74" x2="634.3" y2="214.74" stroke="#111" stroke-width="1.0" />
<line x1="628.2" y1="210.59" x2="634.3" y2="210.59" stroke="#111" stroke-width="1.0" />
<line x1="628.2" y1="206.43" x2="634.3" y2="206.43" stroke="#111" stroke-width="1.0" />
<line x1="628.2" y1="202.28" x2="634.3" y2="202.28" stroke="#111" stroke-width="1.0" />
<line x1="628.2" y1="198.12" x2="634.3" y2="198.12" stroke="#111" stroke-width="1.0" />
<line x1="628.2" y1="193.97" x2="634.3" y2="193.97" stroke="#111" stroke-width="1.0" />
<line x1="628.2" y1="189.81" x2="634.3" y2="189.81" stroke="#111" stroke-width="1.0" />
<line x1="628.2" y1="185.66" x2="634.3" y2="185.66" stroke="#111" stroke-width="1.0" />
<line x1="628.2" y1="181.5" x2="634.3" y2="181.5" stroke="#111" stroke-width="1.0" />
<line x1="625.1" y1="181.5" x2="637" y2="181.5" stroke="#111" stroke-width="1.2" />
<line x1="625.1" y1="202.28" x2="637" y2="202.28" stroke="#111" stroke-width="1.2" />
<line x1="625.1" y1="223.05" x2="637" y2="223.05" stroke="#111" stroke-width="1.2" />
<text x="100.4" y="185.15" font-size="11.5" font-weight="normal" text-anchor="end" >100</text>
<text x="100.4" y="205.93" font-size="11.5" font-weight="normal" text-anchor="end" >90</text>
<text x="100.4" y="226.7" font-size="11.5" font-weight="normal" text-anchor="end" >80</text>
<line x1="110.3" y1="225.5" x2="631.8" y2="225.5" stroke="#111" stroke-width="1.2" />
<line x1="120.22" y1="225.5" x2="120.22" y2="228.5" stroke="#111" stroke-width="1.1" />
<line x1="134.41" y1="225.5" x2="134.41" y2="228.5" stroke="#111" stroke-width="1.1" />
<line x1="148.6" y1="225.5" x2="148.6" y2="231.7" stroke="#111" stroke-width="1.1" />
<line x1="162.79" y1="225.5" x2="162.79" y2="228.5" stroke="#111" stroke-width="1.1" />
<line x1="176.98" y1="225.5" x2="176.98" y2="228.5" stroke="#111" stroke-width="1.1" />
<line x1="191.17" y1="225.5" x2="191.17" y2="228.5" stroke="#111" stroke-width="1.1" />
<line x1="205.36" y1="225.5" x2="205.36" y2="231.7" stroke="#111" stroke-width="1.1" />
<line x1="219.55" y1="225.5" x2="219.55" y2="228.5" stroke="#111" stroke-width="1.1" />
<line x1="233.74" y1="225.5" x2="233.74" y2="228.5" stroke="#111" stroke-width="1.1" />
<line x1="247.93" y1="225.5" x2="247.93" y2="228.5" stroke="#111" stroke-width="1.1" />
<line x1="262.12" y1="225.5" x2="262.12" y2="231.7" stroke="#111" stroke-width="1.1" />
<line x1="276.31" y1="225.5" x2="276.31" y2="228.5" stroke="#111" stroke-width="1.1" />
<line x1="290.5" y1="225.5" x2="290.5" y2="228.5" stroke="#111" stroke-width="1.1" />
<line x1="304.69" y1="225.5" x2="304.69" y2="228.5" stroke="#111" stroke-width="1.1" />
<line x1="318.88" y1="225.5" x2="318.88" y2="231.7" stroke="#111" stroke-width="1.1" />
<line x1="333.07" y1="225.5" x2="333.07" y2="228.5" stroke="#111" stroke-width="1.1" />
<line x1="347.26" y1="225.5" x2="347.26" y2="228.5" stroke="#111" stroke-width="1.1" />
<line x1="361.45" y1="225.5" x2="361.45" y2="228.5" stroke="#111" stroke-width="1.1" />
<line x1="375.64" y1="225.5" x2="375.64" y2="231.7" stroke="#111" stroke-width="1.1" />
<line x1="389.83" y1="225.5" x2="389.83" y2="228.5" stroke="#111" stroke-width="1.1" />
<line x1="404.02" y1="225.5" x2="404.02" y2="228.5" stroke="#111" stroke-width="1.1" />
<line x1="418.21" y1="225.5" x2="418.21" y2="228.5" stroke="#111" stroke-width="1.1" />
<line x1="432.4" y1="225.5" x2="432.4" y2="231.7" stroke="#111" stroke-width="1.1" />
<line x1="446.59" y1="225.5" x2="446.59" y2="228.5" stroke="#111" stroke-width="1.1" />
<line x1="460.78" y1="225.5" x2="460.78" y2="228.5" stroke="#111" stroke-width="1.1" />
<line x1="474.97" y1="225.5" x2="474.97" y2="228.5" stroke="#111" stroke-width="1.1" />
<line x1="489.16" y1="225.5" x2="489.16" y2="231.7" stroke="#111" stroke-width="1.1" />
<line x1="503.35" y1="225.5" x2="503.35" y2="228.5" stroke="#111" stroke-width="1.1" />
<line x1="517.54" y1="225.5" x2="517.54" y2="228.5" stroke="#111" stroke-width="1.1" />
<line x1="531.73" y1="225.5" x2="531.73" y2="228.5" stroke="#111" stroke-width="1.1" />
<line x1="545.92" y1="225.5" x2="545.92" y2="231.7" stroke="#111" stroke-width="1.1" />
<line x1="560.11" y1="225.5" x2="560.11" y2="228.5" stroke="#111" stroke-width="1.1" />
<line x1="574.3" y1="225.5" x2="574.3" y2="228.5" stroke="#111" stroke-width="1.1" />
<line x1="588.49" y1="225.5" x2="588.49" y2="228.5" stroke="#111" stroke-width="1.1" />
<line x1="602.68" y1="225.5" x2="602.68" y2="231.7" stroke="#111" stroke-width="1.1" />
<line x1="616.87" y1="225.5" x2="616.87" y2="228.5" stroke="#111" stroke-width="1.1" />
<line x1="631.06" y1="225.5" x2="631.06" y2="228.5" stroke="#111" stroke-width="1.1" />
<text x="36" y="200.2" font-size="13" font-weight="bold" text-anchor="start" >SpO<tspan font-size="8.5" dy="3.4">2</tspan></text>
<text x="640.6" y="191.3" font-size="12" font-weight="normal" text-anchor="start" >(%)</text>
<rect x="111.5" y="243.6" width="512.8" height="42.55" fill="#f9f9f6" />
<line x1="111.5" y1="244.1" x2="624.3" y2="244.1" stroke="#e2e2de" stroke-width="0.8" />
<line x1="111.5" y1="254.29" x2="624.3" y2="254.29" stroke="#cfcfcb" stroke-width="0.8" />
<line x1="111.5" y1="264.68" x2="624.3" y2="264.68" stroke="#cfcfcb" stroke-width="0.8" />
<line x1="111.5" y1="275.06" x2="624.3" y2="275.06" stroke="#cfcfcb" stroke-width="0.8" />
<defs><polygon id="s1" points="112,285.4 112,283.5 112.6,279 113.1,284.4 113.6,276 114.1,284.1 114.6,268.1 115,284 115.5,275 116,284.7 116.4,274 117,284.4 117.6,280 118.3,284 119,277 119.7,284.4 120.4,279 121,284.4 121.5,270 122,284.3 122.6,269.2 123.1,284.7 123.6,277 124.1,284.7 124.6,270.3 125,284.1 125.4,276 125.8,284.1 126.2,273.6 126.8,284.3 127.3,279 127.8,284.6 128.4,271.9 128.9,284.4 129.4,278 129.9,284.5 130.5,273.2 131,284.4 131.5,280 132,284.1 132.5,278.4 133.3,284.6 134.2,281 134.9,284 135.7,276.2 136.1,284.5 136.6,278 137,284.1 137.4,266.7 137.8,284.3 138.2,276 138.6,284.7 139,277 139.6,284.4 140.1,281.5 140.6,284 141.2,280.2 142,284.3 142.8,282 143.7,284.5 144.5,279.8 145.3,284 146.2,282.5 147,284.2 147.8,282.4 148.7,284 149.5,283.2 150.2,284.4 150.2,285.4"/></defs>
<use href="#s1" fill="url(#tan)"/>
<use href="#s1" fill="url(#hatch)"/>
<polyline points="112,283.5 112.6,279 113.1,284.4 113.6,276 114.1,284.1 114.6,268.1 115,284 115.5,275 116,284.7 116.4,274 117,284.4 117.6,280 118.3,284 119,277 119.7,284.4 120.4,279 121,284.4 121.5,270 122,284.3 122.6,269.2 123.1,284.7 123.6,277 124.1,284.7 124.6,270.3 125,284.1 125.4,276 125.8,284.1 126.2,273.6 126.8,284.3 127.3,279 127.8,284.6 128.4,271.9 128.9,284.4 129.4,278 129.9,284.5 130.5,273.2 131,284.4 131.5,280 132,284.1 132.5,278.4 133.3,284.6 134.2,281 134.9,284 135.7,276.2 136.1,284.5 136.6,278 137,284.1 137.4,266.7 137.8,284.3 138.2,276 138.6,284.7 139,277 139.6,284.4 140.1,281.5 140.6,284 141.2,280.2 142,284.3 142.8,282 143.7,284.5 144.5,279.8 145.3,284 146.2,282.5 147,284.2 147.8,282.4 148.7,284 149.5,283.2 150.2,284.4" fill="none" stroke="#111" stroke-width="0.85" stroke-linejoin="round" />
<defs><polygon id="s2" points="156.6,285.4 156.6,271 157.3,267.5 158,264.9 158.7,262.9 159.4,263.5 160.1,261.7 160.8,261.2 161.5,262.3 162.2,262.3 162.9,263.8 163.6,260.7 164.3,262.3 165,261.4 165.7,263.3 166.4,263.1 167.1,260.3 167.8,261.1 168.5,262.3 169.2,262.5 169.9,262.4 170.6,261.7 171.3,261.7 172,261.6 172.7,260.9 173.4,261.2 174.1,259.2 174.8,260.4 175.5,259.3 176.2,260 176.9,259 177.6,258.4 178.3,258.7 179,257.8 179.7,257.5 180.4,256.7 181.1,257.7 181.8,260.5 182.5,264.2 183.2,259.5 183.9,259.3 184.6,257.3 185.3,257 186,258.1 186.7,258.9 187.4,256.3 188.1,256.3 188.8,256.4 189.5,258.7 190.2,259.3 190.9,260.2 191.6,255.6 192.3,257 193,254.6 193.7,256.6 194.4,256.6 195.1,253.5 195.8,256 196.5,251.9 197.2,252.1 197.9,253.9 198.6,254.5 199.3,254.8 200,255.6 200.7,255.3 201.4,254.3 202.1,252.8 202.8,252.4 203.5,255 204.2,251.9 204.9,253.2 205.6,253.4 206.3,254.5 207,255 207.7,255.5 208.4,253.7 209.1,253.4 209.8,254.1 210.5,253.1 211.2,254.2 211.9,256.8 212.6,254.1 213.3,255.9 214,253.8 214.7,255.5 215.4,254.9 216.1,255.1 216.8,255.8 217.5,257 218.2,255.4 218.9,255.3 219.6,254.2 220.3,255.8 221,253.3 221.7,252.4 222.4,253.5 223.1,257.1 223.8,253.1 224.5,253.3 225.2,252.6 225.9,253.2 226.6,255.5 227.3,257.5 228,254.9 228.7,255.3 229.4,257.8 230.1,258.3 230.8,258.1 231.5,256.1 232.2,254.8 232.9,256.3 233.6,255.7 234.3,257.6 235,257.6 235.7,256.2 236.4,254.7 237.1,253.6 237.8,252.9 238.5,254.1 239.2,251.4 239.9,254.4 240.6,249.2 241.3,253.9 242,260.2 242.7,260.9 243.4,254.7 244.1,256.7 244.8,257.2 245.5,253.8 246.2,253.4 246.9,254.9 247.6,252.2 248.3,257.7 249,250.7 249.7,253 250.4,254.5 251.1,254.6 251.8,255.3 252.5,255.2 253.2,254 253.9,255.8 254.6,250.3 255.3,253.4 256,252.3 256.7,253.6 257.4,253.7 258.1,252 258.8,252.4 259.5,254.5 260.2,253.9 260.9,252.3 261.6,256.3 262.3,256.7 263,251.2 263.7,253.8 264.4,257 265.1,254.4 265.8,253.6 266.5,253 267.2,252.5 267.9,253 268.6,252.5 269.3,254.3 270,252.7 270.7,253.7 271.4,253.9 272.1,254.2 272.8,252 273.5,253 274.2,254.7 274.9,251.1 275.6,248.2 276.3,251.1 277,253.3 277.2,253 277.2,285.4"/></defs>
<use href="#s2" fill="url(#tan)"/>
<use href="#s2" fill="url(#hatch)"/>
<polyline points="156.6,271 157.3,267.5 158,264.9 158.7,262.9 159.4,263.5 160.1,261.7 160.8,261.2 161.5,262.3 162.2,262.3 162.9,263.8 163.6,260.7 164.3,262.3 165,261.4 165.7,263.3 166.4,263.1 167.1,260.3 167.8,261.1 168.5,262.3 169.2,262.5 169.9,262.4 170.6,261.7 171.3,261.7 172,261.6 172.7,260.9 173.4,261.2 174.1,259.2 174.8,260.4 175.5,259.3 176.2,260 176.9,259 177.6,258.4 178.3,258.7 179,257.8 179.7,257.5 180.4,256.7 181.1,257.7 181.8,260.5 182.5,264.2 183.2,259.5 183.9,259.3 184.6,257.3 185.3,257 186,258.1 186.7,258.9 187.4,256.3 188.1,256.3 188.8,256.4 189.5,258.7 190.2,259.3 190.9,260.2 191.6,255.6 192.3,257 193,254.6 193.7,256.6 194.4,256.6 195.1,253.5 195.8,256 196.5,251.9 197.2,252.1 197.9,253.9 198.6,254.5 199.3,254.8 200,255.6 200.7,255.3 201.4,254.3 202.1,252.8 202.8,252.4 203.5,255 204.2,251.9 204.9,253.2 205.6,253.4 206.3,254.5 207,255 207.7,255.5 208.4,253.7 209.1,253.4 209.8,254.1 210.5,253.1 211.2,254.2 211.9,256.8 212.6,254.1 213.3,255.9 214,253.8 214.7,255.5 215.4,254.9 216.1,255.1 216.8,255.8 217.5,257 218.2,255.4 218.9,255.3 219.6,254.2 220.3,255.8 221,253.3 221.7,252.4 222.4,253.5 223.1,257.1 223.8,253.1 224.5,253.3 225.2,252.6 225.9,253.2 226.6,255.5 227.3,257.5 228,254.9 228.7,255.3 229.4,257.8 230.1,258.3 230.8,258.1 231.5,256.1 232.2,254.8 232.9,256.3 233.6,255.7 234.3,257.6 235,257.6 235.7,256.2 236.4,254.7 237.1,253.6 237.8,252.9 238.5,254.1 239.2,251.4 239.9,254.4 240.6,249.2 241.3,253.9 242,260.2 242.7,260.9 243.4,254.7 244.1,256.7 244.8,257.2 245.5,253.8 246.2,253.4 246.9,254.9 247.6,252.2 248.3,257.7 249,250.7 249.7,253 250.4,254.5 251.1,254.6 251.8,255.3 252.5,255.2 253.2,254 253.9,255.8 254.6,250.3 255.3,253.4 256,252.3 256.7,253.6 257.4,253.7 258.1,252 258.8,252.4 259.5,254.5 260.2,253.9 260.9,252.3 261.6,256.3 262.3,256.7 263,251.2 263.7,253.8 264.4,257 265.1,254.4 265.8,253.6 266.5,253 267.2,252.5 267.9,253 268.6,252.5 269.3,254.3 270,252.7 270.7,253.7 271.4,253.9 272.1,254.2 272.8,252 273.5,253 274.2,254.7 274.9,251.1 275.6,248.2 276.3,251.1 277,253.3 277.2,253" fill="none" stroke="#111" stroke-width="1.05" stroke-linejoin="round" />
<defs><polygon id="s3" points="277.2,285.4 277.2,254.9 277.6,257.9 278,264.2 278.4,269.6 278.8,271.3 279.2,276.7 279.6,274.8 280,268.2 280.4,272.8 280.8,274.3 281.2,270.7 281.6,267.2 282,268.8 282.4,263.3 282.8,261.8 283,261.1 283,285.4"/></defs>
<use href="#s3" fill="url(#tan)"/>
<use href="#s3" fill="url(#hatch)"/>
<polyline points="277.2,254.9 277.6,257.9 278,264.2 278.4,269.6 278.8,271.3 279.2,276.7 279.6,274.8 280,268.2 280.4,272.8 280.8,274.3 281.2,270.7 281.6,267.2 282,268.8 282.4,263.3 282.8,261.8 283,261.1" fill="none" stroke="#111" stroke-width="1.05" stroke-linejoin="round" />
<defs><polygon id="s4" points="283,285.4 283,261.8 283.7,261.7 284.4,260.1 285.1,261.4 285.8,258.5 286.5,261.9 287.2,262.4 287.9,259.5 288.6,253.9 289.3,256 290,256.1 290.7,255.9 291.4,252.8 292.1,260.1 292.8,260.9 293.5,256.9 294.2,253.5 294.9,254.9 295.6,257.1 296.3,254.4 297,255 297.7,256.9 298.4,255.4 299.1,253 299.8,256.6 300.5,260.3 301.2,260.2 301.9,261.6 302.6,256.3 303.3,259.7 304,259.7 304.7,258 305.4,257.9 306.1,257.1 306.8,257 307.5,257.1 308.2,257.5 308.9,257.5 309.6,257.4 310.3,257.6 311,256.9 311.7,257.8 312.4,257.1 313.1,257.4 313.8,257.5 314.5,257.2 315.2,257.1 315.9,257.2 316.6,257.6 317.3,257.8 317.6,257.8 317.6,285.4"/></defs>
<use href="#s4" fill="url(#tan)"/>
<use href="#s4" fill="url(#hatch)"/>
<polyline points="283,261.8 283.7,261.7 284.4,260.1 285.1,261.4 285.8,258.5 286.5,261.9 287.2,262.4 287.9,259.5 288.6,253.9 289.3,256 290,256.1 290.7,255.9 291.4,252.8 292.1,260.1 292.8,260.9 293.5,256.9 294.2,253.5 294.9,254.9 295.6,257.1 296.3,254.4 297,255 297.7,256.9 298.4,255.4 299.1,253 299.8,256.6 300.5,260.3 301.2,260.2 301.9,261.6 302.6,256.3 303.3,259.7 304,259.7 304.7,258 305.4,257.9 306.1,257.1 306.8,257 307.5,257.1 308.2,257.5 308.9,257.5 309.6,257.4 310.3,257.6 311,256.9 311.7,257.8 312.4,257.1 313.1,257.4 313.8,257.5 314.5,257.2 315.2,257.1 315.9,257.2 316.6,257.6 317.3,257.8 317.6,257.8" fill="none" stroke="#111" stroke-width="1.05" stroke-linejoin="round" />
<defs><polygon id="s5" points="326.2,285.4 326.2,264.1 326.9,263.1 327.6,262.6 328.3,258.5 329,262.9 329.7,264.4 330.4,264.3 331.1,264 331.8,263.9 332.5,263.7 333.2,263.8 333.9,265.3 334.6,262.2 335.3,265.5 336,262.1 336.7,263.2 337.4,261.3 338.1,260.7 338.8,263.1 339.5,260.1 340.2,258.8 340.9,259.1 341.6,259.3 342.3,261.7 343,259.4 343.7,259.9 344.4,257.7 345.1,258.7 345.8,258.6 346.5,259 347.2,257.2 347.9,258 348.6,257.8 349.3,257 350,257.6 350.7,257.5 351.4,256.4 352.1,257.9 352.8,257.9 353.5,257.4 354.2,252 354.9,258.3 355.6,257.8 356.3,258.1 357,258.4 357.7,257.4 358.4,258.1 359.1,257.6 359.8,257.7 360.5,257.7 361.2,257.7 361.9,258.3 362.6,257.8 363.3,257.7 364,257.7 364.7,257.9 365.4,257.3 366.1,257.5 366.8,257.7 367.5,257.4 368.2,257.6 368.9,257.3 369.6,258.6 370.3,258.3 371,257.7 371.7,257.4 372.4,258.7 373.1,257.6 373.8,257.3 374.5,257.5 375.2,257.5 375.9,258.1 376.6,257.2 377.3,258.5 378,256.7 378.7,258.7 379.4,257.4 380.1,259.9 380.8,253 381.5,257.6 382.2,261 382.9,259.9 383.6,258.1 384.3,261.8 385,259.6 385.7,262.7 386.4,262.1 387.1,261.6 387.8,260.9 388.5,261.4 389.2,260.7 389.9,263.2 390.6,265.1 391.3,261.9 392,269.9 392.7,264.4 393.4,262 394.1,259 394.8,260 395.5,258.1 396.2,260.5 396.9,259.4 397.6,259 398.3,259.3 399,258.7 399.7,257.8 400.4,258.9 401.1,259.2 401.8,259.6 402.5,259.3 403.2,258.6 403.9,257.6 404.6,257.7 405.3,258.5 406,258.5 406.7,257.7 407.4,257.5 408.1,257.7 408.8,257.7 409.5,257.3 410.2,257.9 410.9,257.4 411.6,257.4 412.3,258.1 413,257.5 413.7,257.7 414.4,258 415.1,258 415.8,257.6 416.5,257.7 417.2,257.4 417.9,258.3 418.6,257.9 419.3,257.2 420,257.6 420.7,257.9 421.4,257.8 422.1,258.3 422.8,258.1 423.5,257.3 424.2,257.5 424.9,257 425.6,256.7 426.3,255.6 427,257.6 427.7,257.4 428.4,256.5 429.1,259 429.8,262.8 430.5,261.3 431.2,259.4 431.9,259.5 432.6,263.5 433.3,266.5 434,259.4 434.7,256.4 435.4,259 436.1,263 436.8,263.7 437.5,267.3 438.2,272.1 438.9,271 439.6,269.9 440.3,268.2 441,266.6 441.7,267.9 442.4,266 443.1,270.3 443.8,270.2 444.5,268.4 445.2,264.7 445.9,265.2 446.6,266.3 447.3,260.6 448,258.3 448.7,260.1 449.4,259 450.1,259.8 450.8,260.5 451.5,260.1 452.2,258.2 452.9,260 453.6,260.5 454.3,258.2 455,257.8 455.7,259.9 456.4,258.6 457.1,256.9 457.8,260 458.5,259.4 459.2,259 459.9,260.2 460.6,259.2 461.3,258.8 462,259.8 462.7,260 463.4,259.4 464.1,259.3 464.8,258.8 465.5,258.9 466.2,259.8 466.9,259.4 467.6,259.4 468.3,259.2 469,258.2 469.7,257.6 470.4,257 471.1,257.8 471.8,256.6 472.5,256.9 473.2,256.4 473.9,256.8 474.6,258.2 475.3,259.8 476,257.6 476.7,257 477.4,256.6 478.1,255.7 478.8,254.3 479.5,256.6 480.2,253 480.9,256.6 481.6,256.4 482.3,258.1 483,261.1 483.7,256.6 484.4,260 485.1,253.5 485.8,259.3 486.5,258.9 487.2,258.7 487.9,255.3 488.6,258.1 489.3,259.5 490,254.1 490.7,255.3 491.4,258 492.1,260.4 492.8,268.4 493.5,258.5 493.7,256.9 493.7,285.4"/></defs>
<use href="#s5" fill="url(#tan)"/>
<use href="#s5" fill="url(#hatch)"/>
<polyline points="326.2,264.1 326.9,263.1 327.6,262.6 328.3,258.5 329,262.9 329.7,264.4 330.4,264.3 331.1,264 331.8,263.9 332.5,263.7 333.2,263.8 333.9,265.3 334.6,262.2 335.3,265.5 336,262.1 336.7,263.2 337.4,261.3 338.1,260.7 338.8,263.1 339.5,260.1 340.2,258.8 340.9,259.1 341.6,259.3 342.3,261.7 343,259.4 343.7,259.9 344.4,257.7 345.1,258.7 345.8,258.6 346.5,259 347.2,257.2 347.9,258 348.6,257.8 349.3,257 350,257.6 350.7,257.5 351.4,256.4 352.1,257.9 352.8,257.9 353.5,257.4 354.2,252 354.9,258.3 355.6,257.8 356.3,258.1 357,258.4 357.7,257.4 358.4,258.1 359.1,257.6 359.8,257.7 360.5,257.7 361.2,257.7 361.9,258.3 362.6,257.8 363.3,257.7 364,257.7 364.7,257.9 365.4,257.3 366.1,257.5 366.8,257.7 367.5,257.4 368.2,257.6 368.9,257.3 369.6,258.6 370.3,258.3 371,257.7 371.7,257.4 372.4,258.7 373.1,257.6 373.8,257.3 374.5,257.5 375.2,257.5 375.9,258.1 376.6,257.2 377.3,258.5 378,256.7 378.7,258.7 379.4,257.4 380.1,259.9 380.8,253 381.5,257.6 382.2,261 382.9,259.9 383.6,258.1 384.3,261.8 385,259.6 385.7,262.7 386.4,262.1 387.1,261.6 387.8,260.9 388.5,261.4 389.2,260.7 389.9,263.2 390.6,265.1 391.3,261.9 392,269.9 392.7,264.4 393.4,262 394.1,259 394.8,260 395.5,258.1 396.2,260.5 396.9,259.4 397.6,259 398.3,259.3 399,258.7 399.7,257.8 400.4,258.9 401.1,259.2 401.8,259.6 402.5,259.3 403.2,258.6 403.9,257.6 404.6,257.7 405.3,258.5 406,258.5 406.7,257.7 407.4,257.5 408.1,257.7 408.8,257.7 409.5,257.3 410.2,257.9 410.9,257.4 411.6,257.4 412.3,258.1 413,257.5 413.7,257.7 414.4,258 415.1,258 415.8,257.6 416.5,257.7 417.2,257.4 417.9,258.3 418.6,257.9 419.3,257.2 420,257.6 420.7,257.9 421.4,257.8 422.1,258.3 422.8,258.1 423.5,257.3 424.2,257.5 424.9,257 425.6,256.7 426.3,255.6 427,257.6 427.7,257.4 428.4,256.5 429.1,259 429.8,262.8 430.5,261.3 431.2,259.4 431.9,259.5 432.6,263.5 433.3,266.5 434,259.4 434.7,256.4 435.4,259 436.1,263 436.8,263.7 437.5,267.3 438.2,272.1 438.9,271 439.6,269.9 440.3,268.2 441,266.6 441.7,267.9 442.4,266 443.1,270.3 443.8,270.2 444.5,268.4 445.2,264.7 445.9,265.2 446.6,266.3 447.3,260.6 448,258.3 448.7,260.1 449.4,259 450.1,259.8 450.8,260.5 451.5,260.1 452.2,258.2 452.9,260 453.6,260.5 454.3,258.2 455,257.8 455.7,259.9 456.4,258.6 457.1,256.9 457.8,260 458.5,259.4 459.2,259 459.9,260.2 460.6,259.2 461.3,258.8 462,259.8 462.7,260 463.4,259.4 464.1,259.3 464.8,258.8 465.5,258.9 466.2,259.8 466.9,259.4 467.6,259.4 468.3,259.2 469,258.2 469.7,257.6 470.4,257 471.1,257.8 471.8,256.6 472.5,256.9 473.2,256.4 473.9,256.8 474.6,258.2 475.3,259.8 476,257.6 476.7,257 477.4,256.6 478.1,255.7 478.8,254.3 479.5,256.6 480.2,253 480.9,256.6 481.6,256.4 482.3,258.1 483,261.1 483.7,256.6 484.4,260 485.1,253.5 485.8,259.3 486.5,258.9 487.2,258.7 487.9,255.3 488.6,258.1 489.3,259.5 490,254.1 490.7,255.3 491.4,258 492.1,260.4 492.8,268.4 493.5,258.5 493.7,256.9" fill="none" stroke="#111" stroke-width="1.05" stroke-linejoin="round" />
<defs><polygon id="s6" points="498.2,285.4 498.2,258.3 498.8,263.9 499.4,264.6 500,261.2 500.6,265.5 501.2,273.7 501.8,268.8 502.4,267.5 503,272.8 503.6,272.4 504.2,271.4 504.8,263.8 505.4,266.5 506,270.6 506.6,263.7 507.2,263.1 507.8,269.9 508.4,274 509,264.4 509.6,259.9 510.2,265.5 510.8,267.8 511.4,271.7 512,275 512.6,272.7 513.2,271.2 513.8,274.5 514.4,270.4 515,273.6 515.6,271.4 516.2,283.3 516.8,276.5 517.4,270.8 518,270.6 518.6,273 519.2,269.3 519.8,272.8 520.4,273.2 521,278.9 521.6,274.8 522.2,273.9 522.8,272.4 523.4,273.1 524,276.7 524.6,276.4 525.2,280.6 525.8,275.6 526.4,280.6 527,278.5 527.6,277.9 528.2,272.6 528.8,274.8 529.4,280.4 530,282.3 530.6,279.3 531.2,280.9 531.5,278 531.5,285.4"/></defs>
<use href="#s6" fill="url(#tan)"/>
<use href="#s6" fill="url(#hatch)"/>
<polyline points="498.2,258.3 498.8,263.9 499.4,264.6 500,261.2 500.6,265.5 501.2,273.7 501.8,268.8 502.4,267.5 503,272.8 503.6,272.4 504.2,271.4 504.8,263.8 505.4,266.5 506,270.6 506.6,263.7 507.2,263.1 507.8,269.9 508.4,274 509,264.4 509.6,259.9 510.2,265.5 510.8,267.8 511.4,271.7 512,275 512.6,272.7 513.2,271.2 513.8,274.5 514.4,270.4 515,273.6 515.6,271.4 516.2,283.3 516.8,276.5 517.4,270.8 518,270.6 518.6,273 519.2,269.3 519.8,272.8 520.4,273.2 521,278.9 521.6,274.8 522.2,273.9 522.8,272.4 523.4,273.1 524,276.7 524.6,276.4 525.2,280.6 525.8,275.6 526.4,280.6 527,278.5 527.6,277.9 528.2,272.6 528.8,274.8 529.4,280.4 530,282.3 530.6,279.3 531.2,280.9 531.5,278" fill="none" stroke="#111" stroke-width="1.05" stroke-linejoin="round" />
<defs><polygon id="s7" points="536.1,285.4 536.1,279.5 536.8,279.1 537.5,281.3 538.2,280.5 538.9,279.7 539.6,277.5 540.3,276.1 541,278.3 541.7,278.9 542.4,280.9 543.1,276 543.8,272.3 544.5,271.9 545.2,269.6 545.9,266 546.6,267.8 547.3,265.9 548,263.6 548.7,265.3 549.4,276.5 550.1,259.9 550.8,264 551.5,261.4 552.2,261.1 552.9,262.3 553.6,261 554.3,262.5 555,271.4 555.7,272 556.4,273.3 557.1,269.1 557.8,268.4 558.5,266.6 559.2,265.5 559.9,265.9 560.6,277.9 561.3,267.6 562,269.2 562.7,265.6 563.4,263.4 564.1,265.2 564.8,261 565.5,264 566.2,269.8 566.9,264.5 567.6,270.3 568.3,275 569,273.1 569.7,281.8 570.4,275.6 571.1,270.2 571.8,265.9 572.5,264.7 573.2,262.9 573.9,263.3 574.6,261.6 575.3,263.2 576,260.8 576.7,261.3 577.4,262.2 578.1,259.6 578.8,259.9 579.5,260 580.2,258.2 580.9,260.2 581.6,259.5 582.3,257.8 583,260.5 583.7,261.7 584.4,260 585.1,257.8 585.8,257 586.5,261.5 587.2,258.5 587.9,258.4 588.6,256.9 589.3,258.3 590,256.2 590.7,256.2 591.4,255 592.1,258.1 592.8,259.3 593.5,262.8 594.2,263.3 594.9,260.6 595.6,258.9 596.3,260 597,259.5 597.7,261.3 598.4,259 599.1,258.3 599.8,264.1 600.5,272.3 601.2,266.4 601.9,262.3 602.6,265.4 603.3,262 604,262.3 604.7,262 605.4,259.6 606.1,265.1 606.8,255.2 607.5,251.7 608.2,251.6 608.9,254.6 609.6,253.3 610.3,253.7 611,253.2 611.7,257.3 612.4,249.8 613.1,254.6 613.8,260 614.5,259.1 615.2,259.3 615.9,258.1 616.6,261.4 617.3,257.6 618,254.6 618.7,256.5 618.7,285.4"/></defs>
<use href="#s7" fill="url(#tan)"/>
<use href="#s7" fill="url(#hatch)"/>
<polyline points="536.1,279.5 536.8,279.1 537.5,281.3 538.2,280.5 538.9,279.7 539.6,277.5 540.3,276.1 541,278.3 541.7,278.9 542.4,280.9 543.1,276 543.8,272.3 544.5,271.9 545.2,269.6 545.9,266 546.6,267.8 547.3,265.9 548,263.6 548.7,265.3 549.4,276.5 550.1,259.9 550.8,264 551.5,261.4 552.2,261.1 552.9,262.3 553.6,261 554.3,262.5 555,271.4 555.7,272 556.4,273.3 557.1,269.1 557.8,268.4 558.5,266.6 559.2,265.5 559.9,265.9 560.6,277.9 561.3,267.6 562,269.2 562.7,265.6 563.4,263.4 564.1,265.2 564.8,261 565.5,264 566.2,269.8 566.9,264.5 567.6,270.3 568.3,275 569,273.1 569.7,281.8 570.4,275.6 571.1,270.2 571.8,265.9 572.5,264.7 573.2,262.9 573.9,263.3 574.6,261.6 575.3,263.2 576,260.8 576.7,261.3 577.4,262.2 578.1,259.6 578.8,259.9 579.5,260 580.2,258.2 580.9,260.2 581.6,259.5 582.3,257.8 583,260.5 583.7,261.7 584.4,260 585.1,257.8 585.8,257 586.5,261.5 587.2,258.5 587.9,258.4 588.6,256.9 589.3,258.3 590,256.2 590.7,256.2 591.4,255 592.1,258.1 592.8,259.3 593.5,262.8 594.2,263.3 594.9,260.6 595.6,258.9 596.3,260 597,259.5 597.7,261.3 598.4,259 599.1,258.3 599.8,264.1 600.5,272.3 601.2,266.4 601.9,262.3 602.6,265.4 603.3,262 604,262.3 604.7,262 605.4,259.6 606.1,265.1 606.8,255.2 607.5,251.7 608.2,251.6 608.9,254.6 609.6,253.3 610.3,253.7 611,253.2 611.7,257.3 612.4,249.8 613.1,254.6 613.8,260 614.5,259.1 615.2,259.3 615.9,258.1 616.6,261.4 617.3,257.6 618,254.6 618.7,256.5" fill="none" stroke="#111" stroke-width="1.05" stroke-linejoin="round" />
<rect x="111.5" y="243.6" width="45.25" height="42.15" fill="rgb(88,70,52)" fill-opacity="0.8"/>
<rect x="277.2" y="243.6" width="5.9" height="42.15" fill="rgb(88,70,52)" fill-opacity="0.8"/>
<rect x="396.15" y="243.6" width="0.9" height="42.15" fill="rgb(88,70,52)" fill-opacity="0.5"/>
<rect x="438.4" y="243.6" width="2.3" height="42.15" fill="rgb(88,70,52)" fill-opacity="0.8"/>
<rect x="442.2" y="243.6" width="4.1" height="42.15" fill="rgb(88,70,52)" fill-opacity="0.8"/>
<rect x="498" y="243.6" width="33.6" height="42.15" fill="rgb(88,70,52)" fill-opacity="0.8"/>
<rect x="536.1" y="243.6" width="7" height="42.15" fill="rgb(88,70,52)" fill-opacity="0.8"/>
<rect x="544.5" y="243.6" width="1.55" height="42.15" fill="rgb(88,70,52)" fill-opacity="0.8"/>
<rect x="553.9" y="243.6" width="2.9" height="42.15" fill="rgb(88,70,52)" fill-opacity="0.8"/>
<rect x="565.9" y="243.6" width="4" height="42.15" fill="rgb(88,70,52)" fill-opacity="0.8"/>
<rect x="151" y="243.6" width="5" height="42.15" fill="#d42318" />
<rect x="317.7" y="243.6" width="8.4" height="42.15" fill="#d42318" />
<rect x="493.55" y="243.6" width="4.7" height="42.15" fill="#d42318" />
<rect x="531.25" y="243.6" width="4.85" height="42.15" fill="#d42318" />
<rect x="618.6" y="243.6" width="4.5" height="42.15" fill="#d42318" />
<line x1="111.15" y1="243.3" x2="111.15" y2="286.05" stroke="#111" stroke-width="1.5" />
<line x1="108" y1="285.45" x2="111.15" y2="285.45" stroke="#111" stroke-width="1.05" />
<line x1="108" y1="283.37" x2="111.15" y2="283.37" stroke="#111" stroke-width="1.05" />
<line x1="108" y1="281.3" x2="111.15" y2="281.3" stroke="#111" stroke-width="1.05" />
<line x1="108" y1="279.22" x2="111.15" y2="279.22" stroke="#111" stroke-width="1.05" />
<line x1="108" y1="277.14" x2="111.15" y2="277.14" stroke="#111" stroke-width="1.05" />
<line x1="108" y1="275.06" x2="111.15" y2="275.06" stroke="#111" stroke-width="1.05" />
<line x1="108" y1="272.99" x2="111.15" y2="272.99" stroke="#111" stroke-width="1.05" />
<line x1="108" y1="270.91" x2="111.15" y2="270.91" stroke="#111" stroke-width="1.05" />
<line x1="108" y1="268.83" x2="111.15" y2="268.83" stroke="#111" stroke-width="1.05" />
<line x1="108" y1="266.75" x2="111.15" y2="266.75" stroke="#111" stroke-width="1.05" />
<line x1="108" y1="264.68" x2="111.15" y2="264.68" stroke="#111" stroke-width="1.05" />
<line x1="108" y1="262.6" x2="111.15" y2="262.6" stroke="#111" stroke-width="1.05" />
<line x1="108" y1="260.52" x2="111.15" y2="260.52" stroke="#111" stroke-width="1.05" />
<line x1="108" y1="258.44" x2="111.15" y2="258.44" stroke="#111" stroke-width="1.05" />
<line x1="108" y1="256.37" x2="111.15" y2="256.37" stroke="#111" stroke-width="1.05" />
<line x1="108" y1="254.29" x2="111.15" y2="254.29" stroke="#111" stroke-width="1.05" />
<line x1="108" y1="252.21" x2="111.15" y2="252.21" stroke="#111" stroke-width="1.05" />
<line x1="108" y1="250.13" x2="111.15" y2="250.13" stroke="#111" stroke-width="1.05" />
<line x1="108" y1="248.06" x2="111.15" y2="248.06" stroke="#111" stroke-width="1.05" />
<line x1="108" y1="245.98" x2="111.15" y2="245.98" stroke="#111" stroke-width="1.05" />
<line x1="108" y1="243.9" x2="111.15" y2="243.9" stroke="#111" stroke-width="1.05" />
<line x1="104.9" y1="243.9" x2="111.15" y2="243.9" stroke="#111" stroke-width="1.2" />
<line x1="104.9" y1="254.29" x2="111.15" y2="254.29" stroke="#111" stroke-width="1.2" />
<line x1="104.9" y1="264.68" x2="111.15" y2="264.68" stroke="#111" stroke-width="1.2" />
<line x1="104.9" y1="275.06" x2="111.15" y2="275.06" stroke="#111" stroke-width="1.2" />
<line x1="104.9" y1="285.45" x2="111.15" y2="285.45" stroke="#111" stroke-width="1.2" />
<line x1="631.55" y1="243.3" x2="631.55" y2="286.05" stroke="#111" stroke-width="1.5" />
<line x1="628.2" y1="285.45" x2="634.3" y2="285.45" stroke="#111" stroke-width="1.0" />
<line x1="628.2" y1="283.37" x2="634.3" y2="283.37" stroke="#111" stroke-width="1.0" />
<line x1="628.2" y1="281.3" x2="634.3" y2="281.3" stroke="#111" stroke-width="1.0" />
<line x1="628.2" y1="279.22" x2="634.3" y2="279.22" stroke="#111" stroke-width="1.0" />
<line x1="628.2" y1="277.14" x2="634.3" y2="277.14" stroke="#111" stroke-width="1.0" />
<line x1="628.2" y1="275.06" x2="634.3" y2="275.06" stroke="#111" stroke-width="1.0" />
<line x1="628.2" y1="272.99" x2="634.3" y2="272.99" stroke="#111" stroke-width="1.0" />
<line x1="628.2" y1="270.91" x2="634.3" y2="270.91" stroke="#111" stroke-width="1.0" />
<line x1="628.2" y1="268.83" x2="634.3" y2="268.83" stroke="#111" stroke-width="1.0" />
<line x1="628.2" y1="266.75" x2="634.3" y2="266.75" stroke="#111" stroke-width="1.0" />
<line x1="628.2" y1="264.68" x2="634.3" y2="264.68" stroke="#111" stroke-width="1.0" />
<line x1="628.2" y1="262.6" x2="634.3" y2="262.6" stroke="#111" stroke-width="1.0" />
<line x1="628.2" y1="260.52" x2="634.3" y2="260.52" stroke="#111" stroke-width="1.0" />
<line x1="628.2" y1="258.44" x2="634.3" y2="258.44" stroke="#111" stroke-width="1.0" />
<line x1="628.2" y1="256.37" x2="634.3" y2="256.37" stroke="#111" stroke-width="1.0" />
<line x1="628.2" y1="254.29" x2="634.3" y2="254.29" stroke="#111" stroke-width="1.0" />
<line x1="628.2" y1="252.21" x2="634.3" y2="252.21" stroke="#111" stroke-width="1.0" />
<line x1="628.2" y1="250.13" x2="634.3" y2="250.13" stroke="#111" stroke-width="1.0" />
<line x1="628.2" y1="248.06" x2="634.3" y2="248.06" stroke="#111" stroke-width="1.0" />
<line x1="628.2" y1="245.98" x2="634.3" y2="245.98" stroke="#111" stroke-width="1.0" />
<line x1="628.2" y1="243.9" x2="634.3" y2="243.9" stroke="#111" stroke-width="1.0" />
<line x1="626.6" y1="254.29" x2="635.8" y2="254.29" stroke="#111" stroke-width="1.05" />
<line x1="626.6" y1="275.06" x2="635.8" y2="275.06" stroke="#111" stroke-width="1.05" />
<line x1="625.1" y1="243.9" x2="637" y2="243.9" stroke="#111" stroke-width="1.2" />
<line x1="625.1" y1="264.68" x2="637" y2="264.68" stroke="#111" stroke-width="1.2" />
<line x1="625.1" y1="285.45" x2="637" y2="285.45" stroke="#111" stroke-width="1.2" />
<text x="100.4" y="247.55" font-size="11.5" font-weight="normal" text-anchor="end" >50</text>
<text x="100.4" y="257.94" font-size="11.5" font-weight="normal" text-anchor="end" >45</text>
<text x="100.4" y="268.32" font-size="11.5" font-weight="normal" text-anchor="end" >40</text>
<text x="100.4" y="278.71" font-size="11.5" font-weight="normal" text-anchor="end" >35</text>
<text x="100.4" y="289.1" font-size="11.5" font-weight="normal" text-anchor="end" >30</text>
<line x1="110.3" y1="287.9" x2="631.8" y2="287.9" stroke="#111" stroke-width="1.2" />
<line x1="120.22" y1="287.9" x2="120.22" y2="290.9" stroke="#111" stroke-width="1.1" />
<line x1="134.41" y1="287.9" x2="134.41" y2="290.9" stroke="#111" stroke-width="1.1" />
<line x1="148.6" y1="287.9" x2="148.6" y2="294.1" stroke="#111" stroke-width="1.1" />
<line x1="162.79" y1="287.9" x2="162.79" y2="290.9" stroke="#111" stroke-width="1.1" />
<line x1="176.98" y1="287.9" x2="176.98" y2="290.9" stroke="#111" stroke-width="1.1" />
<line x1="191.17" y1="287.9" x2="191.17" y2="290.9" stroke="#111" stroke-width="1.1" />
<line x1="205.36" y1="287.9" x2="205.36" y2="294.1" stroke="#111" stroke-width="1.1" />
<line x1="219.55" y1="287.9" x2="219.55" y2="290.9" stroke="#111" stroke-width="1.1" />
<line x1="233.74" y1="287.9" x2="233.74" y2="290.9" stroke="#111" stroke-width="1.1" />
<line x1="247.93" y1="287.9" x2="247.93" y2="290.9" stroke="#111" stroke-width="1.1" />
<line x1="262.12" y1="287.9" x2="262.12" y2="294.1" stroke="#111" stroke-width="1.1" />
<line x1="276.31" y1="287.9" x2="276.31" y2="290.9" stroke="#111" stroke-width="1.1" />
<line x1="290.5" y1="287.9" x2="290.5" y2="290.9" stroke="#111" stroke-width="1.1" />
<line x1="304.69" y1="287.9" x2="304.69" y2="290.9" stroke="#111" stroke-width="1.1" />
<line x1="318.88" y1="287.9" x2="318.88" y2="294.1" stroke="#111" stroke-width="1.1" />
<line x1="333.07" y1="287.9" x2="333.07" y2="290.9" stroke="#111" stroke-width="1.1" />
<line x1="347.26" y1="287.9" x2="347.26" y2="290.9" stroke="#111" stroke-width="1.1" />
<line x1="361.45" y1="287.9" x2="361.45" y2="290.9" stroke="#111" stroke-width="1.1" />
<line x1="375.64" y1="287.9" x2="375.64" y2="294.1" stroke="#111" stroke-width="1.1" />
<line x1="389.83" y1="287.9" x2="389.83" y2="290.9" stroke="#111" stroke-width="1.1" />
<line x1="404.02" y1="287.9" x2="404.02" y2="290.9" stroke="#111" stroke-width="1.1" />
<line x1="418.21" y1="287.9" x2="418.21" y2="290.9" stroke="#111" stroke-width="1.1" />
<line x1="432.4" y1="287.9" x2="432.4" y2="294.1" stroke="#111" stroke-width="1.1" />
<line x1="446.59" y1="287.9" x2="446.59" y2="290.9" stroke="#111" stroke-width="1.1" />
<line x1="460.78" y1="287.9" x2="460.78" y2="290.9" stroke="#111" stroke-width="1.1" />
<line x1="474.97" y1="287.9" x2="474.97" y2="290.9" stroke="#111" stroke-width="1.1" />
<line x1="489.16" y1="287.9" x2="489.16" y2="294.1" stroke="#111" stroke-width="1.1" />
<line x1="503.35" y1="287.9" x2="503.35" y2="290.9" stroke="#111" stroke-width="1.1" />
<line x1="517.54" y1="287.9" x2="517.54" y2="290.9" stroke="#111" stroke-width="1.1" />
<line x1="531.73" y1="287.9" x2="531.73" y2="290.9" stroke="#111" stroke-width="1.1" />
<line x1="545.92" y1="287.9" x2="545.92" y2="294.1" stroke="#111" stroke-width="1.1" />
<line x1="560.11" y1="287.9" x2="560.11" y2="290.9" stroke="#111" stroke-width="1.1" />
<line x1="574.3" y1="287.9" x2="574.3" y2="290.9" stroke="#111" stroke-width="1.1" />
<line x1="588.49" y1="287.9" x2="588.49" y2="290.9" stroke="#111" stroke-width="1.1" />
<line x1="602.68" y1="287.9" x2="602.68" y2="294.1" stroke="#111" stroke-width="1.1" />
<line x1="616.87" y1="287.9" x2="616.87" y2="290.9" stroke="#111" stroke-width="1.1" />
<line x1="631.06" y1="287.9" x2="631.06" y2="290.9" stroke="#111" stroke-width="1.1" />
<text x="36.8" y="264.7" font-size="13" font-weight="bold" text-anchor="start" >EtCO<tspan font-size="8.5" dy="3.5">2</tspan></text>
<text x="642.2" y="254.3" font-size="11.9" font-weight="normal" text-anchor="start" >(mmHg)</text>
<rect x="111.5" y="306" width="512.8" height="42.55" fill="#f9f9f6" />
<line x1="111.5" y1="306.5" x2="624.3" y2="306.5" stroke="#e2e2de" stroke-width="0.8" />
<line x1="111.5" y1="316.69" x2="624.3" y2="316.69" stroke="#cfcfcb" stroke-width="0.8" />
<line x1="111.5" y1="327.07" x2="624.3" y2="327.07" stroke="#cfcfcb" stroke-width="0.8" />
<line x1="111.5" y1="337.46" x2="624.3" y2="337.46" stroke="#cfcfcb" stroke-width="0.8" />
<defs><polygon id="s8" points="112,347.9 112,340.9 112.2,340.8 113,340.8 113.2,340.4 113.3,340.4 113.5,340 113.9,340 114.1,338.4 114.8,338.4 115,336.4 115.4,336.4 115.7,335.6 115.7,335.6 116,336.4 116.4,336.4 116.6,338 117.3,338 117.6,340 118.2,340 118.9,340 119.1,340.8 119.2,340.8 119.5,341.6 120.2,341.6 120.5,340.8 120.5,340.8 121.2,340.8 121.5,341.6 121.6,341.6 121.9,340.4 122.5,340.4 122.7,339.6 122.8,339.6 123,340 123.5,340 123.8,338 124.3,338 124.6,337.6 124.6,337.6 124.8,336 125.5,336 125.8,338 126.4,338 126.6,339.2 126.8,339.2 127,340.4 127.4,340.4 127.6,340 128.1,340 128.4,339.2 128.9,339.2 129.6,339.2 129.8,338 130.1,338 130.4,337.2 131.1,337.2 131.9,337.2 132.1,338.8 132.1,338.8 132.4,340.4 133.1,340.4 133.4,340 133.8,340 134.4,340 134.6,340.4 134.9,340.4 135.2,340.8 135.9,340.8 136.6,340.8 136.9,339.6 137,339.6 137.3,338.8 137.6,338.8 137.9,338 138.5,338 138.7,337.2 138.7,337.2 139,338 139.4,338 139.7,338.8 139.9,338.8 140.2,340 140.6,340 140.9,341.2 141,341.2 141.3,340.8 141.5,340.8 141.7,340 142.2,340 142.4,340.8 142.6,340.8 142.9,341.2 143,341.2 143.2,340.4 143.8,340.4 144.1,340.8 144.5,340.8 144.8,340.8 145.3,340.8 145.5,342 146.3,342 146.5,341.2 146.8,341.2 147,342 147.3,342 147.6,341.2 148.2,341.2 148.5,342.4 148.8,342.4 149.1,342 149.8,342 150.1,343.2 150.4,343.2 150.6,342 151.1,342 151.1,347.9"/></defs>
<use href="#s8" fill="url(#tan)"/>
<use href="#s8" fill="url(#hatch)"/>
<polyline points="112,340.9 112.2,340.8 113,340.8 113.2,340.4 113.3,340.4 113.5,340 113.9,340 114.1,338.4 114.8,338.4 115,336.4 115.4,336.4 115.7,335.6 115.7,335.6 116,336.4 116.4,336.4 116.6,338 117.3,338 117.6,340 118.2,340 118.9,340 119.1,340.8 119.2,340.8 119.5,341.6 120.2,341.6 120.5,340.8 120.5,340.8 121.2,340.8 121.5,341.6 121.6,341.6 121.9,340.4 122.5,340.4 122.7,339.6 122.8,339.6 123,340 123.5,340 123.8,338 124.3,338 124.6,337.6 124.6,337.6 124.8,336 125.5,336 125.8,338 126.4,338 126.6,339.2 126.8,339.2 127,340.4 127.4,340.4 127.6,340 128.1,340 128.4,339.2 128.9,339.2 129.6,339.2 129.8,338 130.1,338 130.4,337.2 131.1,337.2 131.9,337.2 132.1,338.8 132.1,338.8 132.4,340.4 133.1,340.4 133.4,340 133.8,340 134.4,340 134.6,340.4 134.9,340.4 135.2,340.8 135.9,340.8 136.6,340.8 136.9,339.6 137,339.6 137.3,338.8 137.6,338.8 137.9,338 138.5,338 138.7,337.2 138.7,337.2 139,338 139.4,338 139.7,338.8 139.9,338.8 140.2,340 140.6,340 140.9,341.2 141,341.2 141.3,340.8 141.5,340.8 141.7,340 142.2,340 142.4,340.8 142.6,340.8 142.9,341.2 143,341.2 143.2,340.4 143.8,340.4 144.1,340.8 144.5,340.8 144.8,340.8 145.3,340.8 145.5,342 146.3,342 146.5,341.2 146.8,341.2 147,342 147.3,342 147.6,341.2 148.2,341.2 148.5,342.4 148.8,342.4 149.1,342 149.8,342 150.1,343.2 150.4,343.2 150.6,342 151.1,342" fill="none" stroke="#111" stroke-width="1.05" stroke-linejoin="round" />
<defs><polygon id="s9" points="156.6,347.9 156.6,335.5 156.8,333.9 159.9,333.9 160.2,330.3 162.4,330.3 163.8,330.3 167,330.3 170.2,330.3 171.9,330.3 172.1,329.4 175.2,329.4 178.3,329.4 178.5,327.6 181.6,327.6 183,327.6 183.3,326.7 184.3,326.7 184.5,327.6 185.1,327.6 185.4,326.7 187.5,326.7 187.7,327.6 188.3,327.6 188.6,326.7 189.4,326.7 189.7,327.6 190.3,327.6 192.1,327.6 193.8,327.6 195.4,327.6 195.7,326.7 197,326.7 197.2,327.6 198,327.6 199.9,327.6 200.1,325.8 202.9,325.8 203.1,326.7 204.7,326.7 205,325.8 207.7,325.8 210.7,325.8 210.9,326.7 212.1,326.7 212.4,325.8 215,325.8 216.4,325.8 216.6,326.7 218.8,326.7 221.9,326.7 222.1,325.8 223.8,325.8 226.3,325.8 226.6,326.7 228.9,326.7 229.2,325.8 231.5,325.8 233,325.8 233.3,326.7 236.2,326.7 236.5,325.8 238.6,325.8 239.7,325.8 241.5,325.8 241.8,326.7 242.6,326.7 242.8,325.8 245.4,325.8 247,325.8 249.2,325.8 249.5,326.7 251.1,326.7 252.9,326.7 253.2,325.8 255.7,325.8 258.8,325.8 260.1,325.8 263.4,325.8 263.7,324.9 265.9,324.9 266.1,325.8 269.2,325.8 269.5,324.9 271.5,324.9 274.4,324.9 276.2,324.9 277.2,324.9 277.2,347.9"/></defs>
<use href="#s9" fill="url(#tan)"/>
<use href="#s9" fill="url(#hatch)"/>
<polyline points="156.6,335.5 156.8,333.9 159.9,333.9 160.2,330.3 162.4,330.3 163.8,330.3 167,330.3 170.2,330.3 171.9,330.3 172.1,329.4 175.2,329.4 178.3,329.4 178.5,327.6 181.6,327.6 183,327.6 183.3,326.7 184.3,326.7 184.5,327.6 185.1,327.6 185.4,326.7 187.5,326.7 187.7,327.6 188.3,327.6 188.6,326.7 189.4,326.7 189.7,327.6 190.3,327.6 192.1,327.6 193.8,327.6 195.4,327.6 195.7,326.7 197,326.7 197.2,327.6 198,327.6 199.9,327.6 200.1,325.8 202.9,325.8 203.1,326.7 204.7,326.7 205,325.8 207.7,325.8 210.7,325.8 210.9,326.7 212.1,326.7 212.4,325.8 215,325.8 216.4,325.8 216.6,326.7 218.8,326.7 221.9,326.7 222.1,325.8 223.8,325.8 226.3,325.8 226.6,326.7 228.9,326.7 229.2,325.8 231.5,325.8 233,325.8 233.3,326.7 236.2,326.7 236.5,325.8 238.6,325.8 239.7,325.8 241.5,325.8 241.8,326.7 242.6,326.7 242.8,325.8 245.4,325.8 247,325.8 249.2,325.8 249.5,326.7 251.1,326.7 252.9,326.7 253.2,325.8 255.7,325.8 258.8,325.8 260.1,325.8 263.4,325.8 263.7,324.9 265.9,324.9 266.1,325.8 269.2,325.8 269.5,324.9 271.5,324.9 274.4,324.9 276.2,324.9 277.2,324.9" fill="none" stroke="#111" stroke-width="1.05" stroke-linejoin="round" />
<defs><polygon id="s10" points="277.2,347.9 277.2,325.5 277.4,326.1 277.7,326.1 277.9,327.6 278.5,327.6 278.8,329.4 279.2,329.4 279.5,330.6 280,330.6 280.2,331.5 280.7,331.5 280.9,330.6 281.6,330.6 281.8,329.7 282.2,329.7 282.5,329.1 283,329.1 283,329.1 283,347.9"/></defs>
<use href="#s10" fill="url(#tan)"/>
<use href="#s10" fill="url(#hatch)"/>
<polyline points="277.2,325.5 277.4,326.1 277.7,326.1 277.9,327.6 278.5,327.6 278.8,329.4 279.2,329.4 279.5,330.6 280,330.6 280.2,331.5 280.7,331.5 280.9,330.6 281.6,330.6 281.8,329.7 282.2,329.7 282.5,329.1 283,329.1 283,329.1" fill="none" stroke="#111" stroke-width="1.05" stroke-linejoin="round" />
<defs><polygon id="s11" points="283,347.9 283,329 283.2,329.4 284.1,329.4 284.3,328.5 287,328.5 287.3,326.7 288.5,326.7 288.8,327.6 290.3,327.6 293.1,327.6 295,327.6 296.1,327.6 298.5,327.6 301,327.6 301.2,326.7 303.3,326.7 303.5,327.6 306.6,327.6 308.3,327.6 310.7,327.6 312.6,327.6 314.6,327.6 316.5,327.6 316.7,328.5 317.6,328.5 317.6,347.9"/></defs>
<use href="#s11" fill="url(#tan)"/>
<use href="#s11" fill="url(#hatch)"/>
<polyline points="283,329 283.2,329.4 284.1,329.4 284.3,328.5 287,328.5 287.3,326.7 288.5,326.7 288.8,327.6 290.3,327.6 293.1,327.6 295,327.6 296.1,327.6 298.5,327.6 301,327.6 301.2,326.7 303.3,326.7 303.5,327.6 306.6,327.6 308.3,327.6 310.7,327.6 312.6,327.6 314.6,327.6 316.5,327.6 316.7,328.5 317.6,328.5" fill="none" stroke="#111" stroke-width="1.05" stroke-linejoin="round" />
<defs><polygon id="s12" points="326.2,347.9 326.2,331.5 326.4,331.2 328.3,331.2 331,331.2 333.5,331.2 333.7,329.4 336.7,329.4 336.9,330.3 339.6,330.3 339.8,329.4 341.4,329.4 343.9,329.4 347,329.4 347.3,330.3 349.1,330.3 349.4,329.4 350.1,329.4 350.4,330.3 353.5,330.3 353.8,329.4 354.6,329.4 356.3,329.4 358.2,329.4 360.4,329.4 361.5,329.4 361.7,328.5 364.7,328.5 365,329.4 368,329.4 370.5,329.4 370.7,328.5 371.5,328.5 371.7,329.4 373.4,329.4 373.7,328.5 375,328.5 376.6,328.5 376.9,329.4 378.2,329.4 380.3,329.4 380.6,327.6 381.2,327.6 381.5,329.4 383.1,329.4 384,329.4 385,329.4 385.3,330.3 386.9,330.3 387.1,329.4 389.5,329.4 391.2,329.4 391.5,330.3 393.2,330.3 393.5,331.2 394.2,331.2 394.5,329.4 396.3,329.4 396.5,328.5 398.9,328.5 401.5,328.5 403.6,328.5 403.8,329.4 404.9,329.4 405.1,328.5 407.2,328.5 407.4,327.6 410,327.6 411.2,327.6 411.5,326.7 412.1,326.7 412.3,327.6 413.5,327.6 413.8,328.5 415.6,328.5 417.6,328.5 417.8,327.6 420.8,327.6 421.1,328.5 422.3,328.5 422.5,327.6 424.1,327.6 424.4,328.5 426.2,328.5 426.5,327.6 429.4,327.6 432.3,327.6 435.4,327.6 435.7,326.7 436.7,326.7 436.9,327.6 438.1,327.6 438.4,329.4 440.7,329.4 441,332.1 443.3,332.1 444.2,332.1 445.5,332.1 447.4,332.1 447.7,331.2 448.8,331.2 449,330.3 450.6,330.3 450.9,329.4 452.6,329.4 452.9,328.5 455.4,328.5 457.1,328.5 457.4,327.6 458.7,327.6 460.4,327.6 462.4,327.6 465.5,327.6 466.6,327.6 466.8,326.7 468,326.7 468.3,327.6 470.1,327.6 470.3,326.7 471.3,326.7 471.5,325.8 473.2,325.8 475.2,325.8 475.4,326.7 477.1,326.7 477.4,325.8 478.8,325.8 479,324 480.2,324 480.5,324.9 481.9,324.9 484.9,324.9 485.2,324 486.7,324 486.9,323.1 489.6,323.1 489.9,324 492.2,324 493.7,324 493.7,347.9"/></defs>
<use href="#s12" fill="url(#tan)"/>
<use href="#s12" fill="url(#hatch)"/>
<polyline points="326.2,331.5 326.4,331.2 328.3,331.2 331,331.2 333.5,331.2 333.7,329.4 336.7,329.4 336.9,330.3 339.6,330.3 339.8,329.4 341.4,329.4 343.9,329.4 347,329.4 347.3,330.3 349.1,330.3 349.4,329.4 350.1,329.4 350.4,330.3 353.5,330.3 353.8,329.4 354.6,329.4 356.3,329.4 358.2,329.4 360.4,329.4 361.5,329.4 361.7,328.5 364.7,328.5 365,329.4 368,329.4 370.5,329.4 370.7,328.5 371.5,328.5 371.7,329.4 373.4,329.4 373.7,328.5 375,328.5 376.6,328.5 376.9,329.4 378.2,329.4 380.3,329.4 380.6,327.6 381.2,327.6 381.5,329.4 383.1,329.4 384,329.4 385,329.4 385.3,330.3 386.9,330.3 387.1,329.4 389.5,329.4 391.2,329.4 391.5,330.3 393.2,330.3 393.5,331.2 394.2,331.2 394.5,329.4 396.3,329.4 396.5,328.5 398.9,328.5 401.5,328.5 403.6,328.5 403.8,329.4 404.9,329.4 405.1,328.5 407.2,328.5 407.4,327.6 410,327.6 411.2,327.6 411.5,326.7 412.1,326.7 412.3,327.6 413.5,327.6 413.8,328.5 415.6,328.5 417.6,328.5 417.8,327.6 420.8,327.6 421.1,328.5 422.3,328.5 422.5,327.6 424.1,327.6 424.4,328.5 426.2,328.5 426.5,327.6 429.4,327.6 432.3,327.6 435.4,327.6 435.7,326.7 436.7,326.7 436.9,327.6 438.1,327.6 438.4,329.4 440.7,329.4 441,332.1 443.3,332.1 444.2,332.1 445.5,332.1 447.4,332.1 447.7,331.2 448.8,331.2 449,330.3 450.6,330.3 450.9,329.4 452.6,329.4 452.9,328.5 455.4,328.5 457.1,328.5 457.4,327.6 458.7,327.6 460.4,327.6 462.4,327.6 465.5,327.6 466.6,327.6 466.8,326.7 468,326.7 468.3,327.6 470.1,327.6 470.3,326.7 471.3,326.7 471.5,325.8 473.2,325.8 475.2,325.8 475.4,326.7 477.1,326.7 477.4,325.8 478.8,325.8 479,324 480.2,324 480.5,324.9 481.9,324.9 484.9,324.9 485.2,324 486.7,324 486.9,323.1 489.6,323.1 489.9,324 492.2,324 493.7,324" fill="none" stroke="#111" stroke-width="1.05" stroke-linejoin="round" />
<defs><polygon id="s13" points="498,347.9 498,327 498.2,328.5 500.4,328.5 502.1,328.5 502.4,329.4 505.4,329.4 505.7,330.3 506.4,330.3 506.7,331.2 509.7,331.2 509.9,332.1 512.2,332.1 512.4,333.9 514.4,333.9 514.6,332.1 516.9,332.1 517.1,333.9 519.4,333.9 520.4,333.9 520.6,334.8 521.9,334.8 523.2,334.8 525.2,334.8 527.3,334.8 529.9,334.8 530.2,335.7 531.6,335.7 531.6,347.9"/></defs>
<use href="#s13" fill="url(#tan)"/>
<use href="#s13" fill="url(#hatch)"/>
<polyline points="498,327 498.2,328.5 500.4,328.5 502.1,328.5 502.4,329.4 505.4,329.4 505.7,330.3 506.4,330.3 506.7,331.2 509.7,331.2 509.9,332.1 512.2,332.1 512.4,333.9 514.4,333.9 514.6,332.1 516.9,332.1 517.1,333.9 519.4,333.9 520.4,333.9 520.6,334.8 521.9,334.8 523.2,334.8 525.2,334.8 527.3,334.8 529.9,334.8 530.2,335.7 531.6,335.7" fill="none" stroke="#111" stroke-width="1.05" stroke-linejoin="round" />
<defs><polygon id="s14" points="536.1,347.9 536.1,336 536.4,336.6 538.1,336.6 540.5,336.6 540.7,335.7 542.7,335.7 542.9,336.6 545.7,336.6 545.9,334.8 548.2,334.8 548.5,333 549.7,333 550,333.9 551.4,333.9 552.9,333.9 555.4,333.9 556.7,333.9 557,332.1 559.6,332.1 561.6,332.1 561.9,330.3 564.5,330.3 566.7,330.3 566.9,329.4 568.8,329.4 569.1,328.5 571.1,328.5 574.2,328.5 574.4,326.7 575.2,326.7 578.4,326.7 579.3,326.7 581.6,326.7 581.8,325.8 583.8,325.8 584.1,324.9 584.7,324.9 584.9,326.7 586.1,326.7 587.8,326.7 588.1,325.8 589.7,325.8 591.6,325.8 591.9,324.9 593.3,324.9 595,324.9 598.4,324.9 598.6,324 601.4,324 601.7,324.9 602.5,324.9 605.6,324.9 605.8,324 606.7,324 606.9,324.9 609.3,324.9 611.4,324.9 611.6,324 613,324 615.5,324 616.5,324 616.7,324.9 618.2,324.9 618.7,324.9 618.7,347.9"/></defs>
<use href="#s14" fill="url(#tan)"/>
<use href="#s14" fill="url(#hatch)"/>
<polyline points="536.1,336 536.4,336.6 538.1,336.6 540.5,336.6 540.7,335.7 542.7,335.7 542.9,336.6 545.7,336.6 545.9,334.8 548.2,334.8 548.5,333 549.7,333 550,333.9 551.4,333.9 552.9,333.9 555.4,333.9 556.7,333.9 557,332.1 559.6,332.1 561.6,332.1 561.9,330.3 564.5,330.3 566.7,330.3 566.9,329.4 568.8,329.4 569.1,328.5 571.1,328.5 574.2,328.5 574.4,326.7 575.2,326.7 578.4,326.7 579.3,326.7 581.6,326.7 581.8,325.8 583.8,325.8 584.1,324.9 584.7,324.9 584.9,326.7 586.1,326.7 587.8,326.7 588.1,325.8 589.7,325.8 591.6,325.8 591.9,324.9 593.3,324.9 595,324.9 598.4,324.9 598.6,324 601.4,324 601.7,324.9 602.5,324.9 605.6,324.9 605.8,324 606.7,324 606.9,324.9 609.3,324.9 611.4,324.9 611.6,324 613,324 615.5,324 616.5,324 616.7,324.9 618.2,324.9 618.7,324.9" fill="none" stroke="#111" stroke-width="1.05" stroke-linejoin="round" />
<rect x="111.5" y="306" width="45.25" height="42.15" fill="rgb(88,70,52)" fill-opacity="0.8"/>
<rect x="277.2" y="306" width="5.9" height="42.15" fill="rgb(88,70,52)" fill-opacity="0.8"/>
<rect x="396.15" y="306" width="0.9" height="42.15" fill="rgb(88,70,52)" fill-opacity="0.5"/>
<rect x="438.4" y="306" width="2.3" height="42.15" fill="rgb(88,70,52)" fill-opacity="0.8"/>
<rect x="442.2" y="306" width="4.1" height="42.15" fill="rgb(88,70,52)" fill-opacity="0.8"/>
<rect x="498" y="306" width="33.6" height="42.15" fill="rgb(88,70,52)" fill-opacity="0.8"/>
<rect x="536.1" y="306" width="7" height="42.15" fill="rgb(88,70,52)" fill-opacity="0.8"/>
<rect x="544.5" y="306" width="1.55" height="42.15" fill="rgb(88,70,52)" fill-opacity="0.8"/>
<rect x="553.9" y="306" width="2.9" height="42.15" fill="rgb(88,70,52)" fill-opacity="0.8"/>
<rect x="565.9" y="306" width="4" height="42.15" fill="rgb(88,70,52)" fill-opacity="0.8"/>
<rect x="151" y="306" width="5" height="42.15" fill="#d42318" />
<rect x="317.7" y="306" width="8.4" height="42.15" fill="#d42318" />
<rect x="493.55" y="306" width="4.7" height="42.15" fill="#d42318" />
<rect x="531.25" y="306" width="4.85" height="42.15" fill="#d42318" />
<rect x="618.6" y="306" width="4.5" height="42.15" fill="#d42318" />
<line x1="111.15" y1="305.7" x2="111.15" y2="348.45" stroke="#111" stroke-width="1.5" />
<line x1="108" y1="347.85" x2="111.15" y2="347.85" stroke="#111" stroke-width="1.05" />
<line x1="108" y1="345.77" x2="111.15" y2="345.77" stroke="#111" stroke-width="1.05" />
<line x1="108" y1="343.69" x2="111.15" y2="343.69" stroke="#111" stroke-width="1.05" />
<line x1="108" y1="341.62" x2="111.15" y2="341.62" stroke="#111" stroke-width="1.05" />
<line x1="108" y1="339.54" x2="111.15" y2="339.54" stroke="#111" stroke-width="1.05" />
<line x1="108" y1="337.46" x2="111.15" y2="337.46" stroke="#111" stroke-width="1.05" />
<line x1="108" y1="335.38" x2="111.15" y2="335.38" stroke="#111" stroke-width="1.05" />
<line x1="108" y1="333.31" x2="111.15" y2="333.31" stroke="#111" stroke-width="1.05" />
<line x1="108" y1="331.23" x2="111.15" y2="331.23" stroke="#111" stroke-width="1.05" />
<line x1="108" y1="329.15" x2="111.15" y2="329.15" stroke="#111" stroke-width="1.05" />
<line x1="108" y1="327.07" x2="111.15" y2="327.07" stroke="#111" stroke-width="1.05" />
<line x1="108" y1="325" x2="111.15" y2="325" stroke="#111" stroke-width="1.05" />
<line x1="108" y1="322.92" x2="111.15" y2="322.92" stroke="#111" stroke-width="1.05" />
<line x1="108" y1="320.84" x2="111.15" y2="320.84" stroke="#111" stroke-width="1.05" />
<line x1="108" y1="318.76" x2="111.15" y2="318.76" stroke="#111" stroke-width="1.05" />
<line x1="108" y1="316.69" x2="111.15" y2="316.69" stroke="#111" stroke-width="1.05" />
<line x1="108" y1="314.61" x2="111.15" y2="314.61" stroke="#111" stroke-width="1.05" />
<line x1="108" y1="312.53" x2="111.15" y2="312.53" stroke="#111" stroke-width="1.05" />
<line x1="108" y1="310.45" x2="111.15" y2="310.45" stroke="#111" stroke-width="1.05" />
<line x1="108" y1="308.38" x2="111.15" y2="308.38" stroke="#111" stroke-width="1.05" />
<line x1="108" y1="306.3" x2="111.15" y2="306.3" stroke="#111" stroke-width="1.05" />
<line x1="104.9" y1="306.3" x2="111.15" y2="306.3" stroke="#111" stroke-width="1.2" />
<line x1="104.9" y1="316.69" x2="111.15" y2="316.69" stroke="#111" stroke-width="1.2" />
<line x1="104.9" y1="327.07" x2="111.15" y2="327.07" stroke="#111" stroke-width="1.2" />
<line x1="104.9" y1="337.46" x2="111.15" y2="337.46" stroke="#111" stroke-width="1.2" />
<line x1="104.9" y1="347.85" x2="111.15" y2="347.85" stroke="#111" stroke-width="1.2" />
<line x1="631.55" y1="305.7" x2="631.55" y2="348.45" stroke="#111" stroke-width="1.5" />
<line x1="628.2" y1="347.85" x2="634.3" y2="347.85" stroke="#111" stroke-width="1.0" />
<line x1="628.2" y1="345.77" x2="634.3" y2="345.77" stroke="#111" stroke-width="1.0" />
<line x1="628.2" y1="343.69" x2="634.3" y2="343.69" stroke="#111" stroke-width="1.0" />
<line x1="628.2" y1="341.62" x2="634.3" y2="341.62" stroke="#111" stroke-width="1.0" />
<line x1="628.2" y1="339.54" x2="634.3" y2="339.54" stroke="#111" stroke-width="1.0" />
<line x1="628.2" y1="337.46" x2="634.3" y2="337.46" stroke="#111" stroke-width="1.0" />
<line x1="628.2" y1="335.38" x2="634.3" y2="335.38" stroke="#111" stroke-width="1.0" />
<line x1="628.2" y1="333.31" x2="634.3" y2="333.31" stroke="#111" stroke-width="1.0" />
<line x1="628.2" y1="331.23" x2="634.3" y2="331.23" stroke="#111" stroke-width="1.0" />
<line x1="628.2" y1="329.15" x2="634.3" y2="329.15" stroke="#111" stroke-width="1.0" />
<line x1="628.2" y1="327.07" x2="634.3" y2="327.07" stroke="#111" stroke-width="1.0" />
<line x1="628.2" y1="325" x2="634.3" y2="325" stroke="#111" stroke-width="1.0" />
<line x1="628.2" y1="322.92" x2="634.3" y2="322.92" stroke="#111" stroke-width="1.0" />
<line x1="628.2" y1="320.84" x2="634.3" y2="320.84" stroke="#111" stroke-width="1.0" />
<line x1="628.2" y1="318.76" x2="634.3" y2="318.76" stroke="#111" stroke-width="1.0" />
<line x1="628.2" y1="316.69" x2="634.3" y2="316.69" stroke="#111" stroke-width="1.0" />
<line x1="628.2" y1="314.61" x2="634.3" y2="314.61" stroke="#111" stroke-width="1.0" />
<line x1="628.2" y1="312.53" x2="634.3" y2="312.53" stroke="#111" stroke-width="1.0" />
<line x1="628.2" y1="310.45" x2="634.3" y2="310.45" stroke="#111" stroke-width="1.0" />
<line x1="628.2" y1="308.38" x2="634.3" y2="308.38" stroke="#111" stroke-width="1.0" />
<line x1="628.2" y1="306.3" x2="634.3" y2="306.3" stroke="#111" stroke-width="1.0" />
<line x1="626.6" y1="316.69" x2="635.8" y2="316.69" stroke="#111" stroke-width="1.05" />
<line x1="626.6" y1="337.46" x2="635.8" y2="337.46" stroke="#111" stroke-width="1.05" />
<line x1="625.1" y1="306.3" x2="637" y2="306.3" stroke="#111" stroke-width="1.2" />
<line x1="625.1" y1="327.07" x2="637" y2="327.07" stroke="#111" stroke-width="1.2" />
<line x1="625.1" y1="347.85" x2="637" y2="347.85" stroke="#111" stroke-width="1.2" />
<text x="100.4" y="309.95" font-size="11.5" font-weight="normal" text-anchor="end" >50</text>
<text x="100.4" y="320.34" font-size="11.5" font-weight="normal" text-anchor="end" >45</text>
<text x="100.4" y="330.72" font-size="11.5" font-weight="normal" text-anchor="end" >40</text>
<text x="100.4" y="341.11" font-size="11.5" font-weight="normal" text-anchor="end" >35</text>
<text x="100.4" y="351.5" font-size="11.5" font-weight="normal" text-anchor="end" >30</text>
<line x1="110.3" y1="350.3" x2="631.8" y2="350.3" stroke="#111" stroke-width="1.2" />
<line x1="120.22" y1="350.3" x2="120.22" y2="353.3" stroke="#111" stroke-width="1.1" />
<line x1="134.41" y1="350.3" x2="134.41" y2="353.3" stroke="#111" stroke-width="1.1" />
<line x1="148.6" y1="350.3" x2="148.6" y2="356.5" stroke="#111" stroke-width="1.1" />
<line x1="162.79" y1="350.3" x2="162.79" y2="353.3" stroke="#111" stroke-width="1.1" />
<line x1="176.98" y1="350.3" x2="176.98" y2="353.3" stroke="#111" stroke-width="1.1" />
<line x1="191.17" y1="350.3" x2="191.17" y2="353.3" stroke="#111" stroke-width="1.1" />
<line x1="205.36" y1="350.3" x2="205.36" y2="356.5" stroke="#111" stroke-width="1.1" />
<line x1="219.55" y1="350.3" x2="219.55" y2="353.3" stroke="#111" stroke-width="1.1" />
<line x1="233.74" y1="350.3" x2="233.74" y2="353.3" stroke="#111" stroke-width="1.1" />
<line x1="247.93" y1="350.3" x2="247.93" y2="353.3" stroke="#111" stroke-width="1.1" />
<line x1="262.12" y1="350.3" x2="262.12" y2="356.5" stroke="#111" stroke-width="1.1" />
<line x1="276.31" y1="350.3" x2="276.31" y2="353.3" stroke="#111" stroke-width="1.1" />
<line x1="290.5" y1="350.3" x2="290.5" y2="353.3" stroke="#111" stroke-width="1.1" />
<line x1="304.69" y1="350.3" x2="304.69" y2="353.3" stroke="#111" stroke-width="1.1" />
<line x1="318.88" y1="350.3" x2="318.88" y2="356.5" stroke="#111" stroke-width="1.1" />
<line x1="333.07" y1="350.3" x2="333.07" y2="353.3" stroke="#111" stroke-width="1.1" />
<line x1="347.26" y1="350.3" x2="347.26" y2="353.3" stroke="#111" stroke-width="1.1" />
<line x1="361.45" y1="350.3" x2="361.45" y2="353.3" stroke="#111" stroke-width="1.1" />
<line x1="375.64" y1="350.3" x2="375.64" y2="356.5" stroke="#111" stroke-width="1.1" />
<line x1="389.83" y1="350.3" x2="389.83" y2="353.3" stroke="#111" stroke-width="1.1" />
<line x1="404.02" y1="350.3" x2="404.02" y2="353.3" stroke="#111" stroke-width="1.1" />
<line x1="418.21" y1="350.3" x2="418.21" y2="353.3" stroke="#111" stroke-width="1.1" />
<line x1="432.4" y1="350.3" x2="432.4" y2="356.5" stroke="#111" stroke-width="1.1" />
<line x1="446.59" y1="350.3" x2="446.59" y2="353.3" stroke="#111" stroke-width="1.1" />
<line x1="460.78" y1="350.3" x2="460.78" y2="353.3" stroke="#111" stroke-width="1.1" />
<line x1="474.97" y1="350.3" x2="474.97" y2="353.3" stroke="#111" stroke-width="1.1" />
<line x1="489.16" y1="350.3" x2="489.16" y2="356.5" stroke="#111" stroke-width="1.1" />
<line x1="503.35" y1="350.3" x2="503.35" y2="353.3" stroke="#111" stroke-width="1.1" />
<line x1="517.54" y1="350.3" x2="517.54" y2="353.3" stroke="#111" stroke-width="1.1" />
<line x1="531.73" y1="350.3" x2="531.73" y2="353.3" stroke="#111" stroke-width="1.1" />
<line x1="545.92" y1="350.3" x2="545.92" y2="356.5" stroke="#111" stroke-width="1.1" />
<line x1="560.11" y1="350.3" x2="560.11" y2="353.3" stroke="#111" stroke-width="1.1" />
<line x1="574.3" y1="350.3" x2="574.3" y2="353.3" stroke="#111" stroke-width="1.1" />
<line x1="588.49" y1="350.3" x2="588.49" y2="353.3" stroke="#111" stroke-width="1.1" />
<line x1="602.68" y1="350.3" x2="602.68" y2="356.5" stroke="#111" stroke-width="1.1" />
<line x1="616.87" y1="350.3" x2="616.87" y2="353.3" stroke="#111" stroke-width="1.1" />
<line x1="631.06" y1="350.3" x2="631.06" y2="353.3" stroke="#111" stroke-width="1.1" />
<text x="34.6" y="326" font-size="13" font-weight="bold" text-anchor="start" >TcCO<tspan font-size="8.5" dy="3.5">2</tspan></text>
<text x="640.7" y="316.8" font-size="11.9" font-weight="normal" text-anchor="start" >(mmHg)</text>
<rect x="111.5" y="368.4" width="512.8" height="42.55" fill="#f9f9f6" />
<line x1="111.5" y1="368.9" x2="624.3" y2="368.9" stroke="#e2e2de" stroke-width="0.8" />
<line x1="111.5" y1="379.09" x2="624.3" y2="379.09" stroke="#cfcfcb" stroke-width="0.8" />
<line x1="111.5" y1="389.47" x2="624.3" y2="389.47" stroke="#cfcfcb" stroke-width="0.8" />
<line x1="111.5" y1="399.86" x2="624.3" y2="399.86" stroke="#cfcfcb" stroke-width="0.8" />
<defs><polygon id="s15" points="112,410.2 112,377.7 112.5,378.5 113,380.9 113.5,381.2 114,382.6 114.5,391.8 115,387.7 115.5,387 116,392.4 116.5,397.3 117,391.1 117.5,395.4 118,389.5 118.5,389.4 119,388.8 119.5,390.8 120,398.1 120.5,387.4 121,397.6 121.5,388.2 122,391.1 122.5,395 123,391.3 123.5,387 124,377.1 124.5,381.3 125,373.3 125.5,378.6 126,369.9 126.5,374 127,373.3 127.5,378.3 128,378.9 128.5,390.5 129,389.6 129.5,392.6 130,388.2 130.5,388.9 131,395.4 131.5,387.3 132,384.4 132.5,392.4 133,385.6 133.5,385 134,386.7 134.5,377.3 135,381 135.5,374.1 136,380 136.5,377.9 137,370.8 137.5,370.2 138,369.2 138.5,370.8 139,374 139.5,369.2 140,373.7 140.5,369.2 141,369.2 141.5,369.2 142,379.5 142.5,371.2 143,373.8 143.5,373 144,383 144.5,373.8 145,384.9 145.5,392.8 146,381.5 146.5,381 147,381.4 147.5,374.1 148,375.1 148.5,377.4 149,376.7 149.5,379.4 150,378.9 150.5,382.8 151,383 151.1,388.2 151.1,410.2"/></defs>
<use href="#s15" fill="url(#tan)"/>
<use href="#s15" fill="url(#hatch)"/>
<polyline points="112,377.7 112.5,378.5 113,380.9 113.5,381.2 114,382.6 114.5,391.8 115,387.7 115.5,387 116,392.4 116.5,397.3 117,391.1 117.5,395.4 118,389.5 118.5,389.4 119,388.8 119.5,390.8 120,398.1 120.5,387.4 121,397.6 121.5,388.2 122,391.1 122.5,395 123,391.3 123.5,387 124,377.1 124.5,381.3 125,373.3 125.5,378.6 126,369.9 126.5,374 127,373.3 127.5,378.3 128,378.9 128.5,390.5 129,389.6 129.5,392.6 130,388.2 130.5,388.9 131,395.4 131.5,387.3 132,384.4 132.5,392.4 133,385.6 133.5,385 134,386.7 134.5,377.3 135,381 135.5,374.1 136,380 136.5,377.9 137,370.8 137.5,370.2 138,369.2 138.5,370.8 139,374 139.5,369.2 140,373.7 140.5,369.2 141,369.2 141.5,369.2 142,379.5 142.5,371.2 143,373.8 143.5,373 144,383 144.5,373.8 145,384.9 145.5,392.8 146,381.5 146.5,381 147,381.4 147.5,374.1 148,375.1 148.5,377.4 149,376.7 149.5,379.4 150,378.9 150.5,382.8 151,383 151.1,388.2" fill="none" stroke="#111" stroke-width="1.05" stroke-linejoin="round" />
<defs><polygon id="s16" points="156.6,410.2 156.6,404 157.1,402.7 157.6,400.6 158.1,402.1 158.6,401.5 159.1,395.1 159.6,389.3 160.1,384.5 160.6,388.8 161.1,390.9 161.6,394.6 162.1,396.1 162.6,397.5 163.1,397.5 163.6,397.5 164.1,397.3 164.6,398.5 165.1,398.2 165.6,397.7 166.1,397.1 166.6,397.4 167.1,398.1 167.6,397.5 168.1,398.3 168.6,398.1 169.1,398.1 169.6,398.3 170.1,398.3 170.6,397.7 171.1,398 171.6,399.2 172.1,397.7 172.6,398.1 173.1,398.8 173.6,398 174.1,396.4 174.6,393.3 175.1,393.7 175.6,393 176.1,395.3 176.6,394.2 177.1,397.9 177.6,394.3 178.1,398.5 178.6,399.9 179.1,406.8 179.6,404.1 180.1,401.5 180.6,396.1 181.1,402.3 181.6,397.7 182.1,396.4 182.6,398.9 183.1,395.5 183.6,399.6 184.1,400.5 184.6,399.3 185.1,401.3 185.6,398.9 186.1,399.1 186.6,388.3 187.1,383.4 187.6,383.8 188.1,385.9 188.6,386.6 189.1,389.6 189.6,389.6 190.1,386.8 190.6,386.5 191.1,387.9 191.6,387.8 192.1,388.8 192.6,389.7 193.1,388.3 193.6,387.5 194.1,385.7 194.6,385.9 195.1,386.9 195.6,388.3 196.1,388.3 196.6,387.9 197.1,388.3 197.6,392.2 198.1,394.1 198.6,395.8 199.1,395.8 199.6,394.9 200.1,394.5 200.6,395.9 201.1,395.8 201.6,395.2 202.1,395 202.6,397.5 203.1,394.6 203.6,395.1 204.1,395.5 204.6,394.1 205.1,395.3 205.6,396.9 206.1,396.1 206.6,395.8 207.1,395.7 207.6,395.2 208.1,396 208.6,394.9 209.1,394.6 209.6,395.1 210.1,395.9 210.6,394.7 211.1,394.4 211.6,392.5 212.1,396 212.6,397.1 213.1,396.1 213.6,394.6 214.1,394 214.6,395.1 215.1,393.9 215.6,395.5 216.1,394.3 216.6,395.7 217.1,396.1 217.6,392.8 218.1,395.1 218.6,394.1 219.1,393.4 219.6,394.2 220.1,394.6 220.6,395.8 221.1,393.3 221.6,396.5 222.1,398.3 222.6,396 223.1,395.4 223.6,394.8 224.1,393.6 224.6,395.4 225.1,395.2 225.6,395.6 226.1,397.5 226.6,395.6 227.1,395.3 227.6,396.5 228.1,393.3 228.6,393.5 229.1,394.4 229.6,394.1 230.1,395.6 230.6,394.4 231.1,396.8 231.6,396.5 232.1,395.7 232.6,394.4 233.1,395.5 233.6,395.7 234.1,393.6 234.6,395.2 235.1,395.6 235.6,395.1 236.1,396.7 236.6,396.2 237.1,393.8 237.6,394.9 238.1,393.8 238.6,395.5 239.1,393.8 239.6,396.3 240.1,395.9 240.6,397 241.1,395.7 241.6,394.1 242.1,399.2 242.6,396.5 243.1,399 243.6,396.3 244.1,395.6 244.6,398.6 245.1,397.4 245.6,395.6 246.1,385 246.6,386.3 247.1,385.9 247.6,387.3 248.1,387 248.6,387.8 249.1,390.5 249.6,383.5 250.1,387.4 250.6,386 251.1,389.9 251.6,386.7 252.1,388.6 252.6,387 253.1,390.4 253.6,392.7 254.1,388.5 254.6,388.2 255.1,385.3 255.6,388.9 256.1,390.1 256.6,387.3 257.1,388.5 257.6,381 258.1,386.5 258.6,389.6 259.1,390 259.6,393.4 260.1,395.4 260.6,395.5 261.1,396.8 261.6,394.9 262.1,393.6 262.6,393.6 263.1,399.3 263.6,391.8 264.1,395.5 264.6,398.3 265.1,396.7 265.6,394.4 266.1,395.9 266.6,397.4 267.1,398 267.6,394.4 268.1,397.3 268.6,396.5 269.1,398 269.6,398.6 270.1,395.5 270.6,393.5 271.1,396.9 271.6,399.4 272.1,397.5 272.6,396.7 273.1,400.7 273.6,394.4 274.1,398 274.6,395.3 275.1,396.5 275.6,396.6 276.1,399.3 276.6,394.7 277.1,395.5 277.2,393.5 277.2,410.2"/></defs>
<use href="#s16" fill="url(#tan)"/>
<use href="#s16" fill="url(#hatch)"/>
<polyline points="156.6,404 157.1,402.7 157.6,400.6 158.1,402.1 158.6,401.5 159.1,395.1 159.6,389.3 160.1,384.5 160.6,388.8 161.1,390.9 161.6,394.6 162.1,396.1 162.6,397.5 163.1,397.5 163.6,397.5 164.1,397.3 164.6,398.5 165.1,398.2 165.6,397.7 166.1,397.1 166.6,397.4 167.1,398.1 167.6,397.5 168.1,398.3 168.6,398.1 169.1,398.1 169.6,398.3 170.1,398.3 170.6,397.7 171.1,398 171.6,399.2 172.1,397.7 172.6,398.1 173.1,398.8 173.6,398 174.1,396.4 174.6,393.3 175.1,393.7 175.6,393 176.1,395.3 176.6,394.2 177.1,397.9 177.6,394.3 178.1,398.5 178.6,399.9 179.1,406.8 179.6,404.1 180.1,401.5 180.6,396.1 181.1,402.3 181.6,397.7 182.1,396.4 182.6,398.9 183.1,395.5 183.6,399.6 184.1,400.5 184.6,399.3 185.1,401.3 185.6,398.9 186.1,399.1 186.6,388.3 187.1,383.4 187.6,383.8 188.1,385.9 188.6,386.6 189.1,389.6 189.6,389.6 190.1,386.8 190.6,386.5 191.1,387.9 191.6,387.8 192.1,388.8 192.6,389.7 193.1,388.3 193.6,387.5 194.1,385.7 194.6,385.9 195.1,386.9 195.6,388.3 196.1,388.3 196.6,387.9 197.1,388.3 197.6,392.2 198.1,394.1 198.6,395.8 199.1,395.8 199.6,394.9 200.1,394.5 200.6,395.9 201.1,395.8 201.6,395.2 202.1,395 202.6,397.5 203.1,394.6 203.6,395.1 204.1,395.5 204.6,394.1 205.1,395.3 205.6,396.9 206.1,396.1 206.6,395.8 207.1,395.7 207.6,395.2 208.1,396 208.6,394.9 209.1,394.6 209.6,395.1 210.1,395.9 210.6,394.7 211.1,394.4 211.6,392.5 212.1,396 212.6,397.1 213.1,396.1 213.6,394.6 214.1,394 214.6,395.1 215.1,393.9 215.6,395.5 216.1,394.3 216.6,395.7 217.1,396.1 217.6,392.8 218.1,395.1 218.6,394.1 219.1,393.4 219.6,394.2 220.1,394.6 220.6,395.8 221.1,393.3 221.6,396.5 222.1,398.3 222.6,396 223.1,395.4 223.6,394.8 224.1,393.6 224.6,395.4 225.1,395.2 225.6,395.6 226.1,397.5 226.6,395.6 227.1,395.3 227.6,396.5 228.1,393.3 228.6,393.5 229.1,394.4 229.6,394.1 230.1,395.6 230.6,394.4 231.1,396.8 231.6,396.5 232.1,395.7 232.6,394.4 233.1,395.5 233.6,395.7 234.1,393.6 234.6,395.2 235.1,395.6 235.6,395.1 236.1,396.7 236.6,396.2 237.1,393.8 237.6,394.9 238.1,393.8 238.6,395.5 239.1,393.8 239.6,396.3 240.1,395.9 240.6,397 241.1,395.7 241.6,394.1 242.1,399.2 242.6,396.5 243.1,399 243.6,396.3 244.1,395.6 244.6,398.6 245.1,397.4 245.6,395.6 246.1,385 246.6,386.3 247.1,385.9 247.6,387.3 248.1,387 248.6,387.8 249.1,390.5 249.6,383.5 250.1,387.4 250.6,386 251.1,389.9 251.6,386.7 252.1,388.6 252.6,387 253.1,390.4 253.6,392.7 254.1,388.5 254.6,388.2 255.1,385.3 255.6,388.9 256.1,390.1 256.6,387.3 257.1,388.5 257.6,381 258.1,386.5 258.6,389.6 259.1,390 259.6,393.4 260.1,395.4 260.6,395.5 261.1,396.8 261.6,394.9 262.1,393.6 262.6,393.6 263.1,399.3 263.6,391.8 264.1,395.5 264.6,398.3 265.1,396.7 265.6,394.4 266.1,395.9 266.6,397.4 267.1,398 267.6,394.4 268.1,397.3 268.6,396.5 269.1,398 269.6,398.6 270.1,395.5 270.6,393.5 271.1,396.9 271.6,399.4 272.1,397.5 272.6,396.7 273.1,400.7 273.6,394.4 274.1,398 274.6,395.3 275.1,396.5 275.6,396.6 276.1,399.3 276.6,394.7 277.1,395.5 277.2,393.5" fill="none" stroke="#111" stroke-width="0.95" stroke-linejoin="round" />
<defs><polygon id="s17" points="277.2,410.2 277.2,397.4 277.7,395.9 278.2,395.6 278.7,396.4 279.2,395.1 279.7,392.9 280.2,390.2 280.7,385.6 281.2,381.1 281.7,387.6 282.2,393.8 282.7,395.6 283,395.4 283,410.2"/></defs>
<use href="#s17" fill="url(#tan)"/>
<use href="#s17" fill="url(#hatch)"/>
<polyline points="277.2,397.4 277.7,395.9 278.2,395.6 278.7,396.4 279.2,395.1 279.7,392.9 280.2,390.2 280.7,385.6 281.2,381.1 281.7,387.6 282.2,393.8 282.7,395.6 283,395.4" fill="none" stroke="#111" stroke-width="0.95" stroke-linejoin="round" />
<defs><polygon id="s18" points="283,410.2 283,396 283.5,394.9 284,394.5 284.5,397.6 285,395.7 285.5,396.1 286,396.2 286.5,396.5 287,396.7 287.5,396.9 288,396 288.5,398.3 289,396.5 289.5,398.7 290,390.1 290.5,386.6 291,390.3 291.5,388.3 292,387.3 292.5,389.3 293,386.6 293.5,390.9 294,389.2 294.5,389.9 295,387.4 295.5,389.8 296,390.5 296.5,387 297,392 297.5,387.6 298,384.5 298.5,383.8 299,392.1 299.5,388.7 300,387.5 300.5,387.3 301,386.5 301.5,391.9 302,388.8 302.5,393 303,388.6 303.5,393.5 304,395.9 304.5,389.3 305,389.6 305.5,392.9 306,389.6 306.5,392.3 307,390.1 307.5,388.7 308,391.2 308.5,389.1 309,392.7 309.5,392.2 310,390.4 310.5,391.6 311,391.5 311.5,389.8 312,392.3 312.5,390 313,391.8 313.5,389.4 314,395.4 314.5,399.6 315,399.4 315.5,400.3 316,400.9 316.5,401.4 317,399.8 317.5,400.8 317.6,401.6 317.6,410.2"/></defs>
<use href="#s18" fill="url(#tan)"/>
<use href="#s18" fill="url(#hatch)"/>
<polyline points="283,396 283.5,394.9 284,394.5 284.5,397.6 285,395.7 285.5,396.1 286,396.2 286.5,396.5 287,396.7 287.5,396.9 288,396 288.5,398.3 289,396.5 289.5,398.7 290,390.1 290.5,386.6 291,390.3 291.5,388.3 292,387.3 292.5,389.3 293,386.6 293.5,390.9 294,389.2 294.5,389.9 295,387.4 295.5,389.8 296,390.5 296.5,387 297,392 297.5,387.6 298,384.5 298.5,383.8 299,392.1 299.5,388.7 300,387.5 300.5,387.3 301,386.5 301.5,391.9 302,388.8 302.5,393 303,388.6 303.5,393.5 304,395.9 304.5,389.3 305,389.6 305.5,392.9 306,389.6 306.5,392.3 307,390.1 307.5,388.7 308,391.2 308.5,389.1 309,392.7 309.5,392.2 310,390.4 310.5,391.6 311,391.5 311.5,389.8 312,392.3 312.5,390 313,391.8 313.5,389.4 314,395.4 314.5,399.6 315,399.4 315.5,400.3 316,400.9 316.5,401.4 317,399.8 317.5,400.8 317.6,401.6" fill="none" stroke="#111" stroke-width="0.95" stroke-linejoin="round" />
<defs><polygon id="s19" points="326.2,410.2 326.2,391.6 326.7,389.9 327.2,390.6 327.7,390.2 328.2,387.2 328.7,384 329.2,383.5 329.7,384.3 330.2,388.3 330.7,385.4 331.2,384.4 331.7,382.4 332.2,387 332.7,385.4 333.2,384.4 333.7,384.9 334.2,389.3 334.7,384.2 335.2,389.4 335.7,388.1 336.2,384.8 336.7,387.2 337.2,387 337.7,388.2 338.2,386.6 338.7,382.1 339.2,386.2 339.7,384.8 340.2,386.4 340.7,387.2 341.2,376.2 341.7,386.8 342.2,381.9 342.7,388 343.2,386.2 343.7,389.8 344.2,394.3 344.7,387.2 345.2,393.1 345.7,392.4 346.2,387.5 346.7,397.2 347.2,398.6 347.7,394.1 348.2,391.1 348.7,402.6 349.2,392.2 349.7,388.2 350.2,390.8 350.7,390.9 351.2,388.8 351.7,392 352.2,390.8 352.7,397.6 353.2,396.8 353.7,391.9 354.2,391.9 354.7,393.4 355.2,397.4 355.7,396.4 356.2,393.8 356.7,395.1 357.2,395.8 357.7,402 358.2,393.3 358.7,397 359.2,398.4 359.7,394.4 360.2,399.2 360.7,400.3 361.2,400.1 361.7,403.4 362.2,404.7 362.7,405.2 363.2,404.3 363.7,407.4 364.2,410.2 364.7,401.8 365.2,404.9 365.7,406.6 366.2,405.3 366.7,406.2 367.2,405.2 367.7,406.3 368.2,407.2 368.7,404.3 369.2,405.1 369.7,404.6 370.2,403.9 370.7,404.5 371.2,402.6 371.7,406.4 372.2,409.8 372.3,410.2 372.3,410.2"/></defs>
<use href="#s19" fill="url(#tan)"/>
<use href="#s19" fill="url(#hatch)"/>
<polyline points="326.2,391.6 326.7,389.9 327.2,390.6 327.7,390.2 328.2,387.2 328.7,384 329.2,383.5 329.7,384.3 330.2,388.3 330.7,385.4 331.2,384.4 331.7,382.4 332.2,387 332.7,385.4 333.2,384.4 333.7,384.9 334.2,389.3 334.7,384.2 335.2,389.4 335.7,388.1 336.2,384.8 336.7,387.2 337.2,387 337.7,388.2 338.2,386.6 338.7,382.1 339.2,386.2 339.7,384.8 340.2,386.4 340.7,387.2 341.2,376.2 341.7,386.8 342.2,381.9 342.7,388 343.2,386.2 343.7,389.8 344.2,394.3 344.7,387.2 345.2,393.1 345.7,392.4 346.2,387.5 346.7,397.2 347.2,398.6 347.7,394.1 348.2,391.1 348.7,402.6 349.2,392.2 349.7,388.2 350.2,390.8 350.7,390.9 351.2,388.8 351.7,392 352.2,390.8 352.7,397.6 353.2,396.8 353.7,391.9 354.2,391.9 354.7,393.4 355.2,397.4 355.7,396.4 356.2,393.8 356.7,395.1 357.2,395.8 357.7,402 358.2,393.3 358.7,397 359.2,398.4 359.7,394.4 360.2,399.2 360.7,400.3 361.2,400.1 361.7,403.4 362.2,404.7 362.7,405.2 363.2,404.3 363.7,407.4 364.2,410.2 364.7,401.8 365.2,404.9 365.7,406.6 366.2,405.3 366.7,406.2 367.2,405.2 367.7,406.3 368.2,407.2 368.7,404.3 369.2,405.1 369.7,404.6 370.2,403.9 370.7,404.5 371.2,402.6 371.7,406.4 372.2,409.8 372.3,410.2" fill="none" stroke="#111" stroke-width="0.95" stroke-linejoin="round" />
<defs><polygon id="s20" points="378.2,410.2 378.2,410.2 378.7,390.9 379.2,389.6 379.7,386.7 380.2,386.9 380.7,387.8 381.2,386 381.7,392.3 382.2,385.4 382.7,386.7 383.2,387.7 383.7,388.7 384.2,390.8 384.7,391 385.2,388.2 385.7,388.1 386.2,389.3 386.7,391.5 387.2,391.3 387.7,388.1 388.2,384 388.7,395.7 389.2,392.5 389.7,390.7 390.2,391.1 390.7,388.7 391.2,387.5 391.7,389.5 392.2,390 392.7,389.2 393.2,387.1 393.7,390.8 394.2,393.9 394.7,391 395.2,393 395.7,386.9 396.2,393 396.7,393.6 397.2,390.5 397.7,389.2 398.2,395.4 398.7,390 399.2,390.8 399.7,390.2 400.2,395.5 400.7,397.9 401.2,404.9 401.5,410.2 401.5,410.2"/></defs>
<use href="#s20" fill="url(#tan)"/>
<use href="#s20" fill="url(#hatch)"/>
<polyline points="378.2,410.2 378.7,390.9 379.2,389.6 379.7,386.7 380.2,386.9 380.7,387.8 381.2,386 381.7,392.3 382.2,385.4 382.7,386.7 383.2,387.7 383.7,388.7 384.2,390.8 384.7,391 385.2,388.2 385.7,388.1 386.2,389.3 386.7,391.5 387.2,391.3 387.7,388.1 388.2,384 388.7,395.7 389.2,392.5 389.7,390.7 390.2,391.1 390.7,388.7 391.2,387.5 391.7,389.5 392.2,390 392.7,389.2 393.2,387.1 393.7,390.8 394.2,393.9 394.7,391 395.2,393 395.7,386.9 396.2,393 396.7,393.6 397.2,390.5 397.7,389.2 398.2,395.4 398.7,390 399.2,390.8 399.7,390.2 400.2,395.5 400.7,397.9 401.2,404.9 401.5,410.2" fill="none" stroke="#111" stroke-width="0.95" stroke-linejoin="round" />
<defs><polygon id="s21" points="427.5,410.2 427.5,410.2 428,392.1 428.5,389.7 429,389.3 429.5,390.9 430,390.9 430.5,389.6 431,389.6 431.5,388.3 432,389 432.5,389.4 433,391.6 433.5,394.8 434,394.8 434.5,400.2 435,391.9 435.5,388.3 436,388.2 436.5,388.9 437,389.6 437.5,387.1 438,385.5 438.5,390.2 439,386.5 439.5,390.4 440,390.3 440.5,392.5 441,393.7 441.5,395.8 442,399.6 442.5,393 443,389.4 443.5,395 444,399.6 444.5,404.6 445,398.7 445.5,399.7 446,394.3 446.5,395.5 447,397.7 447.5,394 448,387.6 448.5,391.7 449,394.8 449.5,391.5 450,391.9 450.5,388.7 451,396.5 451.5,393.8 452,395 452.5,391.3 453,392.9 453.5,402.7 454,395.3 454.5,391.5 455,396.6 455.5,400.9 456,394.7 456.5,392.3 457,390.2 457.5,391.3 458,389.6 458.5,392.1 459,399.4 459.5,394.5 460,391.3 460.5,394.1 461,387.3 461.5,391.6 462,388.9 462.5,395.1 463,392.9 463.5,386 464,386.9 464.5,391.7 465,391.6 465.5,391.1 466,389.5 466.5,396.5 467,391 467.5,389.4 468,400.8 468.5,404.8 469,395.9 469.5,394.3 470,395.5 470.5,406.2 471,408.8 471.5,399.1 472,395.9 472.5,391.8 473,389 473.5,389.5 474,393.6 474.5,390.4 475,391.4 475.5,392.8 476,391.6 476.5,387.6 477,392.7 477.5,393.4 478,393.2 478.5,395 479,392 479.5,393 480,394.9 480.5,390.4 481,395.2 481.5,395.1 482,392.9 482.5,392.6 483,388 483.5,382.5 484,388.5 484.5,389.4 485,392 485.5,391.5 486,394.5 486.5,392.7 487,389.8 487.5,392.7 488,393.4 488.5,390.1 489,390.9 489.5,391.1 490,390.7 490.5,393.1 491,394.8 491.5,397 492,395.5 492.5,395.2 493,395.6 493.5,396.1 493.7,392.1 493.7,410.2"/></defs>
<use href="#s21" fill="url(#tan)"/>
<use href="#s21" fill="url(#hatch)"/>
<polyline points="427.5,410.2 428,392.1 428.5,389.7 429,389.3 429.5,390.9 430,390.9 430.5,389.6 431,389.6 431.5,388.3 432,389 432.5,389.4 433,391.6 433.5,394.8 434,394.8 434.5,400.2 435,391.9 435.5,388.3 436,388.2 436.5,388.9 437,389.6 437.5,387.1 438,385.5 438.5,390.2 439,386.5 439.5,390.4 440,390.3 440.5,392.5 441,393.7 441.5,395.8 442,399.6 442.5,393 443,389.4 443.5,395 444,399.6 444.5,404.6 445,398.7 445.5,399.7 446,394.3 446.5,395.5 447,397.7 447.5,394 448,387.6 448.5,391.7 449,394.8 449.5,391.5 450,391.9 450.5,388.7 451,396.5 451.5,393.8 452,395 452.5,391.3 453,392.9 453.5,402.7 454,395.3 454.5,391.5 455,396.6 455.5,400.9 456,394.7 456.5,392.3 457,390.2 457.5,391.3 458,389.6 458.5,392.1 459,399.4 459.5,394.5 460,391.3 460.5,394.1 461,387.3 461.5,391.6 462,388.9 462.5,395.1 463,392.9 463.5,386 464,386.9 464.5,391.7 465,391.6 465.5,391.1 466,389.5 466.5,396.5 467,391 467.5,389.4 468,400.8 468.5,404.8 469,395.9 469.5,394.3 470,395.5 470.5,406.2 471,408.8 471.5,399.1 472,395.9 472.5,391.8 473,389 473.5,389.5 474,393.6 474.5,390.4 475,391.4 475.5,392.8 476,391.6 476.5,387.6 477,392.7 477.5,393.4 478,393.2 478.5,395 479,392 479.5,393 480,394.9 480.5,390.4 481,395.2 481.5,395.1 482,392.9 482.5,392.6 483,388 483.5,382.5 484,388.5 484.5,389.4 485,392 485.5,391.5 486,394.5 486.5,392.7 487,389.8 487.5,392.7 488,393.4 488.5,390.1 489,390.9 489.5,391.1 490,390.7 490.5,393.1 491,394.8 491.5,397 492,395.5 492.5,395.2 493,395.6 493.5,396.1 493.7,392.1" fill="none" stroke="#111" stroke-width="0.95" stroke-linejoin="round" />
<defs><polygon id="s22" points="498,410.2 498,394.2 498.5,397.9 499,394.7 499.5,401.8 500,389.4 500.5,396.8 501,393.3 501.5,391.6 502,387.8 502.5,391.8 503,382.6 503.5,382.5 504,391.7 504.5,380.4 505,394.4 505.5,385.5 506,387.6 506.5,386.4 507,387.9 507.5,383.9 508,383.1 508.5,384.1 509,389.9 509.5,390.1 510,390.5 510.5,385.4 511,382 511.5,373.6 512,385.9 512.5,387 513,380.2 513.5,386.7 514,389.3 514.5,382.8 515,388 515.5,383.9 516,372.7 516.5,379.6 517,379.9 517.5,385 518,377.4 518.5,379.7 519,376.8 519.5,381.8 520,382.4 520.5,387.3 521,386.3 521.5,383.1 522,383.7 522.5,383.3 523,383.5 523.5,391.6 524,369.8 524.5,382.7 525,385.6 525.5,390.3 526,378.4 526.5,386.2 527,388.9 527.5,381.8 528,373.9 528.5,382.1 529,377.6 529.5,387.2 530,379.3 530.5,392.7 531,384.2 531.5,379.3 531.6,380.8 531.6,410.2"/></defs>
<use href="#s22" fill="url(#tan)"/>
<use href="#s22" fill="url(#hatch)"/>
<polyline points="498,394.2 498.5,397.9 499,394.7 499.5,401.8 500,389.4 500.5,396.8 501,393.3 501.5,391.6 502,387.8 502.5,391.8 503,382.6 503.5,382.5 504,391.7 504.5,380.4 505,394.4 505.5,385.5 506,387.6 506.5,386.4 507,387.9 507.5,383.9 508,383.1 508.5,384.1 509,389.9 509.5,390.1 510,390.5 510.5,385.4 511,382 511.5,373.6 512,385.9 512.5,387 513,380.2 513.5,386.7 514,389.3 514.5,382.8 515,388 515.5,383.9 516,372.7 516.5,379.6 517,379.9 517.5,385 518,377.4 518.5,379.7 519,376.8 519.5,381.8 520,382.4 520.5,387.3 521,386.3 521.5,383.1 522,383.7 522.5,383.3 523,383.5 523.5,391.6 524,369.8 524.5,382.7 525,385.6 525.5,390.3 526,378.4 526.5,386.2 527,388.9 527.5,381.8 528,373.9 528.5,382.1 529,377.6 529.5,387.2 530,379.3 530.5,392.7 531,384.2 531.5,379.3 531.6,380.8" fill="none" stroke="#111" stroke-width="1.05" stroke-linejoin="round" />
<defs><polygon id="s23" points="536.1,410.2 536.1,387.4 536.6,389.5 537.1,390.8 537.6,383.9 538.1,388.8 538.6,381.1 539.1,386.6 539.6,398.4 540.1,386.5 540.6,394.2 541.1,391 541.6,377.8 542.1,379.9 542.6,382 543.1,390.8 543.6,384.8 544.1,386.2 544.6,390.1 545.1,387.8 545.6,388.4 546.1,386.3 546.6,392.5 547.1,384.8 547.6,397.1 548.1,391.6 548.6,387 549.1,390.7 549.6,389.7 550.1,379.4 550.6,391.7 551.1,388.9 551.6,387 552.1,390.5 552.6,383.3 553.1,388.4 553.6,385.1 554.1,395 554.6,386 555.1,380.2 555.6,376 556.1,376.3 556.6,383.6 557.1,378.3 557.6,379.6 558.1,375.5 558.6,375.4 559.1,376.5 559.6,374.2 560.1,376.5 560.6,379.2 561.1,379.3 561.6,372.3 562.1,369.3 562.6,379.8 563.1,385.6 563.6,372.6 564.1,386.1 564.6,390.5 565.1,385.8 565.6,383.2 566.1,396.9 566.6,395.2 567.1,387.5 567.6,395.1 568.1,395 568.6,388.3 569.1,409.2 569.6,389.3 570.1,387.8 570.6,383.9 571.1,389.6 571.6,383 572.1,389.3 572.6,394.5 573.1,390.5 573.6,388.3 574.1,396.9 574.6,385.4 575.1,394.3 575.6,388.3 576.1,390.9 576.6,394.9 577.1,401.3 577.6,394.6 578.1,386.4 578.6,387.4 579.1,392.3 579.6,389.8 580.1,384.9 580.6,387.1 581.1,387.3 581.6,390.4 582.1,391.5 582.6,391.2 583.1,387.9 583.6,391.1 584.1,385 584.6,378.4 585.1,391 585.6,384.1 586.1,387.3 586.6,386.3 587.1,394.3 587.6,386.6 588.1,392.9 588.6,389.8 589.1,386.9 589.6,385.6 590.1,394 590.6,393.8 591.1,395.4 591.6,399.8 592.1,393.5 592.6,393.6 593.1,392 593.6,393 594.1,391.2 594.6,389.1 595.1,400.9 595.6,385.2 596.1,393.9 596.6,394.8 597.1,393.6 597.6,389.2 598.1,392.4 598.6,391.3 599.1,388.9 599.6,393.1 600.1,391.7 600.6,391.2 601.1,396.3 601.6,389.3 602.1,397 602.6,394.8 603.1,397.1 603.6,394.1 604.1,394.9 604.6,390 605.1,390.8 605.6,390.5 606.1,394.7 606.6,397 607.1,398.4 607.6,391.9 608.1,394.3 608.6,387.4 609.1,384.9 609.6,390.4 610.1,391.3 610.6,387.6 611.1,386.7 611.6,396.1 612.1,390.7 612.6,387.1 613.1,403.4 613.6,394.6 614.1,392.4 614.6,395.2 615.1,391.5 615.6,402.5 616.1,386.8 616.6,384.3 617.1,387.9 617.6,385.5 618.1,392.6 618.6,382.1 618.7,384.9 618.7,410.2"/></defs>
<use href="#s23" fill="url(#tan)"/>
<use href="#s23" fill="url(#hatch)"/>
<polyline points="536.1,387.4 536.6,389.5 537.1,390.8 537.6,383.9 538.1,388.8 538.6,381.1 539.1,386.6 539.6,398.4 540.1,386.5 540.6,394.2 541.1,391 541.6,377.8 542.1,379.9 542.6,382 543.1,390.8 543.6,384.8 544.1,386.2 544.6,390.1 545.1,387.8 545.6,388.4 546.1,386.3 546.6,392.5 547.1,384.8 547.6,397.1 548.1,391.6 548.6,387 549.1,390.7 549.6,389.7 550.1,379.4 550.6,391.7 551.1,388.9 551.6,387 552.1,390.5 552.6,383.3 553.1,388.4 553.6,385.1 554.1,395 554.6,386 555.1,380.2 555.6,376 556.1,376.3 556.6,383.6 557.1,378.3 557.6,379.6 558.1,375.5 558.6,375.4 559.1,376.5 559.6,374.2 560.1,376.5 560.6,379.2 561.1,379.3 561.6,372.3 562.1,369.3 562.6,379.8 563.1,385.6 563.6,372.6 564.1,386.1 564.6,390.5 565.1,385.8 565.6,383.2 566.1,396.9 566.6,395.2 567.1,387.5 567.6,395.1 568.1,395 568.6,388.3 569.1,409.2 569.6,389.3 570.1,387.8 570.6,383.9 571.1,389.6 571.6,383 572.1,389.3 572.6,394.5 573.1,390.5 573.6,388.3 574.1,396.9 574.6,385.4 575.1,394.3 575.6,388.3 576.1,390.9 576.6,394.9 577.1,401.3 577.6,394.6 578.1,386.4 578.6,387.4 579.1,392.3 579.6,389.8 580.1,384.9 580.6,387.1 581.1,387.3 581.6,390.4 582.1,391.5 582.6,391.2 583.1,387.9 583.6,391.1 584.1,385 584.6,378.4 585.1,391 585.6,384.1 586.1,387.3 586.6,386.3 587.1,394.3 587.6,386.6 588.1,392.9 588.6,389.8 589.1,386.9 589.6,385.6 590.1,394 590.6,393.8 591.1,395.4 591.6,399.8 592.1,393.5 592.6,393.6 593.1,392 593.6,393 594.1,391.2 594.6,389.1 595.1,400.9 595.6,385.2 596.1,393.9 596.6,394.8 597.1,393.6 597.6,389.2 598.1,392.4 598.6,391.3 599.1,388.9 599.6,393.1 600.1,391.7 600.6,391.2 601.1,396.3 601.6,389.3 602.1,397 602.6,394.8 603.1,397.1 603.6,394.1 604.1,394.9 604.6,390 605.1,390.8 605.6,390.5 606.1,394.7 606.6,397 607.1,398.4 607.6,391.9 608.1,394.3 608.6,387.4 609.1,384.9 609.6,390.4 610.1,391.3 610.6,387.6 611.1,386.7 611.6,396.1 612.1,390.7 612.6,387.1 613.1,403.4 613.6,394.6 614.1,392.4 614.6,395.2 615.1,391.5 615.6,402.5 616.1,386.8 616.6,384.3 617.1,387.9 617.6,385.5 618.1,392.6 618.6,382.1 618.7,384.9" fill="none" stroke="#111" stroke-width="0.95" stroke-linejoin="round" />
<rect x="111.5" y="368.4" width="45.25" height="42.15" fill="rgb(88,70,52)" fill-opacity="0.8"/>
<rect x="277.2" y="368.4" width="5.9" height="42.15" fill="rgb(88,70,52)" fill-opacity="0.8"/>
<rect x="396.15" y="368.4" width="0.9" height="42.15" fill="rgb(88,70,52)" fill-opacity="0.5"/>
<rect x="438.4" y="368.4" width="2.3" height="42.15" fill="rgb(88,70,52)" fill-opacity="0.8"/>
<rect x="442.2" y="368.4" width="4.1" height="42.15" fill="rgb(88,70,52)" fill-opacity="0.8"/>
<rect x="498" y="368.4" width="33.6" height="42.15" fill="rgb(88,70,52)" fill-opacity="0.8"/>
<rect x="536.1" y="368.4" width="7" height="42.15" fill="rgb(88,70,52)" fill-opacity="0.8"/>
<rect x="544.5" y="368.4" width="1.55" height="42.15" fill="rgb(88,70,52)" fill-opacity="0.8"/>
<rect x="553.9" y="368.4" width="2.9" height="42.15" fill="rgb(88,70,52)" fill-opacity="0.8"/>
<rect x="565.9" y="368.4" width="4" height="42.15" fill="rgb(88,70,52)" fill-opacity="0.8"/>
<rect x="151" y="368.4" width="5" height="42.15" fill="#c01f16" />
<rect x="317.7" y="368.4" width="8.4" height="42.15" fill="#c01f16" />
<rect x="493.55" y="368.4" width="4.7" height="42.15" fill="#c01f16" />
<rect x="531.25" y="368.4" width="4.85" height="42.15" fill="#c01f16" />
<rect x="618.6" y="368.4" width="4.5" height="42.15" fill="#c01f16" />
<line x1="111.15" y1="368.1" x2="111.15" y2="410.85" stroke="#111" stroke-width="1.5" />
<line x1="108" y1="410.25" x2="111.15" y2="410.25" stroke="#111" stroke-width="1.05" />
<line x1="108" y1="405.06" x2="111.15" y2="405.06" stroke="#111" stroke-width="1.05" />
<line x1="108" y1="399.86" x2="111.15" y2="399.86" stroke="#111" stroke-width="1.05" />
<line x1="108" y1="394.67" x2="111.15" y2="394.67" stroke="#111" stroke-width="1.05" />
<line x1="108" y1="389.47" x2="111.15" y2="389.47" stroke="#111" stroke-width="1.05" />
<line x1="108" y1="384.28" x2="111.15" y2="384.28" stroke="#111" stroke-width="1.05" />
<line x1="108" y1="379.09" x2="111.15" y2="379.09" stroke="#111" stroke-width="1.05" />
<line x1="108" y1="373.89" x2="111.15" y2="373.89" stroke="#111" stroke-width="1.05" />
<line x1="108" y1="368.7" x2="111.15" y2="368.7" stroke="#111" stroke-width="1.05" />
<line x1="104.9" y1="368.7" x2="111.15" y2="368.7" stroke="#111" stroke-width="1.2" />
<line x1="104.9" y1="379.09" x2="111.15" y2="379.09" stroke="#111" stroke-width="1.2" />
<line x1="104.9" y1="389.47" x2="111.15" y2="389.47" stroke="#111" stroke-width="1.2" />
<line x1="104.9" y1="399.86" x2="111.15" y2="399.86" stroke="#111" stroke-width="1.2" />
<line x1="104.9" y1="410.25" x2="111.15" y2="410.25" stroke="#111" stroke-width="1.2" />
<line x1="631.55" y1="368.1" x2="631.55" y2="410.85" stroke="#111" stroke-width="1.5" />
<line x1="628.2" y1="410.25" x2="634.3" y2="410.25" stroke="#111" stroke-width="1.0" />
<line x1="628.2" y1="405.06" x2="634.3" y2="405.06" stroke="#111" stroke-width="1.0" />
<line x1="628.2" y1="399.86" x2="634.3" y2="399.86" stroke="#111" stroke-width="1.0" />
<line x1="628.2" y1="394.67" x2="634.3" y2="394.67" stroke="#111" stroke-width="1.0" />
<line x1="628.2" y1="389.47" x2="634.3" y2="389.47" stroke="#111" stroke-width="1.0" />
<line x1="628.2" y1="384.28" x2="634.3" y2="384.28" stroke="#111" stroke-width="1.0" />
<line x1="628.2" y1="379.09" x2="634.3" y2="379.09" stroke="#111" stroke-width="1.0" />
<line x1="628.2" y1="373.89" x2="634.3" y2="373.89" stroke="#111" stroke-width="1.0" />
<line x1="628.2" y1="368.7" x2="634.3" y2="368.7" stroke="#111" stroke-width="1.0" />
<line x1="625.1" y1="368.7" x2="637" y2="368.7" stroke="#111" stroke-width="1.2" />
<line x1="625.1" y1="379.09" x2="637" y2="379.09" stroke="#111" stroke-width="1.2" />
<line x1="625.1" y1="389.47" x2="637" y2="389.47" stroke="#111" stroke-width="1.2" />
<line x1="625.1" y1="399.86" x2="637" y2="399.86" stroke="#111" stroke-width="1.2" />
<line x1="625.1" y1="410.25" x2="637" y2="410.25" stroke="#111" stroke-width="1.2" />
<text x="100.4" y="372.35" font-size="11.5" font-weight="normal" text-anchor="end" >40</text>
<text x="100.4" y="382.74" font-size="11.5" font-weight="normal" text-anchor="end" >30</text>
<text x="100.4" y="393.12" font-size="11.5" font-weight="normal" text-anchor="end" >20</text>
<text x="100.4" y="403.51" font-size="11.5" font-weight="normal" text-anchor="end" >10</text>
<text x="100.4" y="413.9" font-size="11.5" font-weight="normal" text-anchor="end" >0</text>
<line x1="110.3" y1="412.7" x2="631.8" y2="412.7" stroke="#111" stroke-width="1.2" />
<line x1="120.22" y1="412.7" x2="120.22" y2="415.7" stroke="#111" stroke-width="1.1" />
<line x1="134.41" y1="412.7" x2="134.41" y2="415.7" stroke="#111" stroke-width="1.1" />
<line x1="148.6" y1="412.7" x2="148.6" y2="418.9" stroke="#111" stroke-width="1.1" />
<line x1="162.79" y1="412.7" x2="162.79" y2="415.7" stroke="#111" stroke-width="1.1" />
<line x1="176.98" y1="412.7" x2="176.98" y2="415.7" stroke="#111" stroke-width="1.1" />
<line x1="191.17" y1="412.7" x2="191.17" y2="415.7" stroke="#111" stroke-width="1.1" />
<line x1="205.36" y1="412.7" x2="205.36" y2="418.9" stroke="#111" stroke-width="1.1" />
<line x1="219.55" y1="412.7" x2="219.55" y2="415.7" stroke="#111" stroke-width="1.1" />
<line x1="233.74" y1="412.7" x2="233.74" y2="415.7" stroke="#111" stroke-width="1.1" />
<line x1="247.93" y1="412.7" x2="247.93" y2="415.7" stroke="#111" stroke-width="1.1" />
<line x1="262.12" y1="412.7" x2="262.12" y2="418.9" stroke="#111" stroke-width="1.1" />
<line x1="276.31" y1="412.7" x2="276.31" y2="415.7" stroke="#111" stroke-width="1.1" />
<line x1="290.5" y1="412.7" x2="290.5" y2="415.7" stroke="#111" stroke-width="1.1" />
<line x1="304.69" y1="412.7" x2="304.69" y2="415.7" stroke="#111" stroke-width="1.1" />
<line x1="318.88" y1="412.7" x2="318.88" y2="418.9" stroke="#111" stroke-width="1.1" />
<line x1="333.07" y1="412.7" x2="333.07" y2="415.7" stroke="#111" stroke-width="1.1" />
<line x1="347.26" y1="412.7" x2="347.26" y2="415.7" stroke="#111" stroke-width="1.1" />
<line x1="361.45" y1="412.7" x2="361.45" y2="415.7" stroke="#111" stroke-width="1.1" />
<line x1="375.64" y1="412.7" x2="375.64" y2="418.9" stroke="#111" stroke-width="1.1" />
<line x1="389.83" y1="412.7" x2="389.83" y2="415.7" stroke="#111" stroke-width="1.1" />
<line x1="404.02" y1="412.7" x2="404.02" y2="415.7" stroke="#111" stroke-width="1.1" />
<line x1="418.21" y1="412.7" x2="418.21" y2="415.7" stroke="#111" stroke-width="1.1" />
<line x1="432.4" y1="412.7" x2="432.4" y2="418.9" stroke="#111" stroke-width="1.1" />
<line x1="446.59" y1="412.7" x2="446.59" y2="415.7" stroke="#111" stroke-width="1.1" />
<line x1="460.78" y1="412.7" x2="460.78" y2="415.7" stroke="#111" stroke-width="1.1" />
<line x1="474.97" y1="412.7" x2="474.97" y2="415.7" stroke="#111" stroke-width="1.1" />
<line x1="489.16" y1="412.7" x2="489.16" y2="418.9" stroke="#111" stroke-width="1.1" />
<line x1="503.35" y1="412.7" x2="503.35" y2="415.7" stroke="#111" stroke-width="1.1" />
<line x1="517.54" y1="412.7" x2="517.54" y2="415.7" stroke="#111" stroke-width="1.1" />
<line x1="531.73" y1="412.7" x2="531.73" y2="415.7" stroke="#111" stroke-width="1.1" />
<line x1="545.92" y1="412.7" x2="545.92" y2="418.9" stroke="#111" stroke-width="1.1" />
<line x1="560.11" y1="412.7" x2="560.11" y2="415.7" stroke="#111" stroke-width="1.1" />
<line x1="574.3" y1="412.7" x2="574.3" y2="415.7" stroke="#111" stroke-width="1.1" />
<line x1="588.49" y1="412.7" x2="588.49" y2="415.7" stroke="#111" stroke-width="1.1" />
<line x1="602.68" y1="412.7" x2="602.68" y2="418.9" stroke="#111" stroke-width="1.1" />
<line x1="616.87" y1="412.7" x2="616.87" y2="415.7" stroke="#111" stroke-width="1.1" />
<line x1="631.06" y1="412.7" x2="631.06" y2="415.7" stroke="#111" stroke-width="1.1" />
<text x="24.6" y="387" font-size="13" font-weight="bold" text-anchor="start" >Resp<tspan font-size="9" dy="3.8">freq</tspan></text>
<text x="640.2" y="378" font-size="12" font-weight="normal" text-anchor="start" >(Min<tspan font-size="8.6" dy="-4.8">-1</tspan><tspan dy="4.8">)</tspan></text>
<rect x="111.5" y="430.8" width="512.8" height="42.55" fill="#f9f9f6" />
<line x1="111.5" y1="468.5" x2="624.3" y2="468.5" stroke="#dededa" stroke-width="0.75" />
<line x1="111.5" y1="464.34" x2="624.3" y2="464.34" stroke="#dededa" stroke-width="0.75" />
<line x1="111.5" y1="460.19" x2="624.3" y2="460.19" stroke="#dededa" stroke-width="0.75" />
<line x1="111.5" y1="456.03" x2="624.3" y2="456.03" stroke="#dededa" stroke-width="0.75" />
<line x1="111.5" y1="447.72" x2="624.3" y2="447.72" stroke="#dededa" stroke-width="0.75" />
<line x1="111.5" y1="443.56" x2="624.3" y2="443.56" stroke="#dededa" stroke-width="0.75" />
<line x1="111.5" y1="439.41" x2="624.3" y2="439.41" stroke="#dededa" stroke-width="0.75" />
<line x1="111.5" y1="435.25" x2="624.3" y2="435.25" stroke="#dededa" stroke-width="0.75" />
<line x1="111.5" y1="431.1" x2="624.3" y2="431.1" stroke="#dededa" stroke-width="0.75" />
<line x1="111.5" y1="451.88" x2="624.3" y2="451.88" stroke="#bdbdb9" stroke-width="0.9" />
<defs><polygon id="s24" points="112.4,438.7 113,437.9 113.6,436.8 114.2,438.1 114.8,437.1 115.4,437.8 116,436.5 116.6,436.8 117.2,437.8 117.8,438.9 118.4,437.4 119,439.4 119.6,439.9 120.2,436.3 120.8,437.4 121.4,436.6 122,437.4 122.6,437 123.2,437.5 123.8,438.4 124.4,438.4 125,437.8 125.6,437.6 126.2,437.7 126.8,437.8 127.4,438.2 128,437.7 128.6,438.2 129.2,436.6 129.8,438.5 130.4,439.3 130.6,437.9 130.6,454 130.4,453.5 129.8,452 129.2,453.3 128.6,452.8 128,452.4 127.4,453.2 126.8,451 126.2,452.5 125.6,449.9 125,451.9 124.4,452.7 123.8,452.2 123.2,450.3 122.6,450.3 122,452.9 121.4,451.7 120.8,451.2 120.2,453.1 119.6,452.5 119,451.1 118.4,450.1 117.8,452.4 117.2,453 116.6,453.7 116,452.7 115.4,452.9 114.8,452 114.2,448.9 113.6,451.8 113,453.7 112.4,450.6"/></defs>
<use href="#s24" fill="url(#grn)"/>
<use href="#s24" fill="url(#hatchg)"/>
<polyline points="112.4,438.7 113,437.9 113.6,436.8 114.2,438.1 114.8,437.1 115.4,437.8 116,436.5 116.6,436.8 117.2,437.8 117.8,438.9 118.4,437.4 119,439.4 119.6,439.9 120.2,436.3 120.8,437.4 121.4,436.6 122,437.4 122.6,437 123.2,437.5 123.8,438.4 124.4,438.4 125,437.8 125.6,437.6 126.2,437.7 126.8,437.8 127.4,438.2 128,437.7 128.6,438.2 129.2,436.6 129.8,438.5 130.4,439.3 130.6,437.9" fill="none" stroke="#111" stroke-width="0.7" stroke-linejoin="round" />
<polyline points="112.4,450.6 113,453.7 113.6,451.8 114.2,448.9 114.8,452 115.4,452.9 116,452.7 116.6,453.7 117.2,453 117.8,452.4 118.4,450.1 119,451.1 119.6,452.5 120.2,453.1 120.8,451.2 121.4,451.7 122,452.9 122.6,450.3 123.2,450.3 123.8,452.2 124.4,452.7 125,451.9 125.6,449.9 126.2,452.5 126.8,451 127.4,453.2 128,452.4 128.6,452.8 129.2,453.3 129.8,452 130.4,453.5 130.6,454" fill="none" stroke="#111" stroke-width="0.7" stroke-linejoin="round" />
<line x1="112.4" y1="437.5" x2="112.4" y2="452.5" stroke="#111" stroke-width="0.6" />
<line x1="130.6" y1="437.5" x2="130.6" y2="452.5" stroke="#111" stroke-width="0.6" />
<defs><polygon id="s25" points="133.6,437.5 134.2,438.5 134.8,436.8 135.4,438.3 136,437.8 136.6,436.8 137.2,437.7 137.2,451 136.6,452.7 136,452.1 135.4,453.6 134.8,452.4 134.2,451.6 133.6,451.6"/></defs>
<use href="#s25" fill="url(#grn)"/>
<use href="#s25" fill="url(#hatchg)"/>
<polyline points="133.6,437.5 134.2,438.5 134.8,436.8 135.4,438.3 136,437.8 136.6,436.8 137.2,437.7" fill="none" stroke="#111" stroke-width="0.7" stroke-linejoin="round" />
<polyline points="133.6,451.6 134.2,451.6 134.8,452.4 135.4,453.6 136,452.1 136.6,452.7 137.2,451" fill="none" stroke="#111" stroke-width="0.7" stroke-linejoin="round" />
<line x1="133.6" y1="437.5" x2="133.6" y2="452.5" stroke="#111" stroke-width="0.6" />
<line x1="137.2" y1="437.5" x2="137.2" y2="452.5" stroke="#111" stroke-width="0.6" />
<defs><polygon id="s26" points="140.2,437.3 140.8,438.6 141.2,438.5 141.2,451.5 140.8,451.8 140.2,452.7"/></defs>
<use href="#s26" fill="url(#grn)"/>
<use href="#s26" fill="url(#hatchg)"/>
<polyline points="140.2,437.3 140.8,438.6 141.2,438.5" fill="none" stroke="#111" stroke-width="0.7" stroke-linejoin="round" />
<polyline points="140.2,452.7 140.8,451.8 141.2,451.5" fill="none" stroke="#111" stroke-width="0.7" stroke-linejoin="round" />
<line x1="140.2" y1="437.5" x2="140.2" y2="452.5" stroke="#111" stroke-width="0.6" />
<line x1="141.2" y1="437.5" x2="141.2" y2="452.5" stroke="#111" stroke-width="0.6" />
<defs><polygon id="s27" points="143.8,437.1 144.4,436.1 145,436.3 145.6,438.3 146.2,436.8 146.8,439.3 147.2,436.5 147.2,452.1 146.8,452.4 146.2,452.5 145.6,451.2 145,452.5 144.4,451 143.8,452.7"/></defs>
<use href="#s27" fill="url(#grn)"/>
<use href="#s27" fill="url(#hatchg)"/>
<polyline points="143.8,437.1 144.4,436.1 145,436.3 145.6,438.3 146.2,436.8 146.8,439.3 147.2,436.5" fill="none" stroke="#111" stroke-width="0.7" stroke-linejoin="round" />
<polyline points="143.8,452.7 144.4,451 145,452.5 145.6,451.2 146.2,452.5 146.8,452.4 147.2,452.1" fill="none" stroke="#111" stroke-width="0.7" stroke-linejoin="round" />
<line x1="143.8" y1="437.5" x2="143.8" y2="452.5" stroke="#111" stroke-width="0.6" />
<line x1="147.2" y1="437.5" x2="147.2" y2="452.5" stroke="#111" stroke-width="0.6" />
<defs><polygon id="s28" points="148.6,437.6 149.2,438.7 149.8,437 150.4,438.4 151,437.8 151.1,437.8 151.1,452.3 151,452.2 150.4,450.5 149.8,451.6 149.2,449.9 148.6,454.6"/></defs>
<use href="#s28" fill="url(#grn)"/>
<use href="#s28" fill="url(#hatchg)"/>
<polyline points="148.6,437.6 149.2,438.7 149.8,437 150.4,438.4 151,437.8 151.1,437.8" fill="none" stroke="#111" stroke-width="0.7" stroke-linejoin="round" />
<polyline points="148.6,454.6 149.2,449.9 149.8,451.6 150.4,450.5 151,452.2 151.1,452.3" fill="none" stroke="#111" stroke-width="0.7" stroke-linejoin="round" />
<line x1="148.6" y1="437.5" x2="148.6" y2="452.5" stroke="#111" stroke-width="0.6" />
<line x1="151.1" y1="437.5" x2="151.1" y2="452.5" stroke="#111" stroke-width="0.6" />
<defs><polygon id="s29" points="156.6,438.5 157.2,437.4 157.8,438.1 158.4,438.1 159,437.6 159.6,438.1 160.2,438.7 160.8,438.3 161.4,438.5 162,438.8 162.6,438.2 163.2,438.7 163.8,439.3 164.4,439.6 165,439.2 165.6,439.6 166.2,439.7 166.8,439.7 167.4,440.1 168,439.8 168.6,439.9 169.2,439.3 169.8,439.4 170.4,439.9 171,439.2 171.6,439.9 172.2,439.5 172.8,439.5 173.4,440 174,439.5 174.6,439.5 175.2,439.5 175.8,439.8 176.4,440.8 177,439 177.6,439.8 178.2,439.7 178.8,440.2 179.4,439.7 180,438.9 180.6,440.3 181.2,439.4 181.8,439.7 182.4,439.1 183,439.1 183.6,439.2 184.2,439.6 184.8,439.5 185.4,438.8 186,439.2 186.6,438.7 187.2,438.8 187.8,438.7 188.4,438.8 189,438.2 189.6,438.2 190.2,438.3 190.8,438.1 191.4,437.7 192,438.5 192.6,437.6 193.2,437.9 193.8,437.7 194.4,438.2 195,437 195.6,438.7 196.2,438 196.8,437.7 197.4,438.3 198,439.2 198.6,438.7 199.2,438.1 199.8,438.5 200.4,439.2 201,438.3 201.6,438.8 202.2,438.8 202.8,439.8 203.4,438.9 204,439.5 204.6,438.7 205.2,438.7 205.8,439.4 206.4,439.2 207,438.4 207.6,439.3 208.2,439.3 208.8,438.8 209.4,439.1 210,439.1 210.6,438.8 211.2,438.8 211.8,438.8 212.4,438.9 213,438.5 213.6,439 214.2,438.5 214.8,439.1 215.4,439 216,438.7 216.6,439.4 217.2,439.8 217.8,439.6 218.4,438.6 219,439.6 219.6,439.2 220.2,439.1 220.8,438.9 221.4,439.1 222,439.6 222.6,439.3 223.2,438.9 223.8,438.8 224.4,438.9 225,439.3 225.6,439.8 226.2,438.7 226.8,439.1 227.4,439 228,438.8 228.6,439.3 229.2,439.3 229.8,438.6 230.4,438.7 231,439.6 231.6,439.3 232.2,439.3 232.8,439 233.4,439 234,439.3 234.6,439 235.2,438.7 235.8,439.2 236.4,439.5 237,438.8 237.6,439.6 238.2,439.4 238.8,438.8 239.4,439.2 240,439.2 240.6,439.4 241.2,439.4 241.8,438.7 242.4,438.6 243,439.3 243.6,438.8 244.2,438.8 244.8,438.6 245.4,438.9 246,437.8 246.6,438.5 247.2,437.7 247.8,438.3 248.4,438.5 249,437.5 249.6,438.1 250.2,437.9 250.8,437.9 251.4,438 252,437.6 252.6,437.6 253.2,438.2 253.8,438.3 254.4,437.8 255,437.4 255.6,438.9 256.2,438.4 256.8,438.1 257.4,437.6 258,437.9 258.6,438.3 259.2,438 259.8,439.2 260.4,438.8 261,439.1 261.6,438.7 262.2,438.8 262.8,438.9 263.4,439.3 264,439.1 264.6,439.1 265.2,439.3 265.8,439.3 266.4,439.7 267,439.1 267.6,438.8 268.2,439.2 268.8,439.7 269.4,439 270,439.2 270.6,439.1 271.2,439.3 271.8,439.3 272.4,438.9 273,439.1 273.6,439.5 274.2,439.6 274.8,439.5 275.4,439.5 276,439.1 276.6,439.1 277.2,439.5 277.8,438.2 278.4,438 279,436.8 279.6,437 280.2,436.5 280.8,436.3 281.4,437.4 282,437.4 282.6,438 283.2,438.4 283.8,438.4 284.4,439.4 285,438.9 285.6,439.4 286.2,439.1 286.8,439.5 287.4,439.6 288,439.6 288.6,439.4 289.2,439.7 289.8,440.2 290.4,439.6 291,439.6 291.6,439.5 292.2,440.5 292.8,440.2 293.4,439.8 294,439.8 294.6,439.3 295.2,439.5 295.8,439.6 296.4,439.6 297,439.2 297.6,439.2 298.2,439.7 298.8,439.6 299.4,438.7 300,439.5 300.6,439.9 301.2,439.2 301.8,439.5 302.4,438.9 303,439.7 303.6,439 304.2,438.9 304.8,439.3 305.4,440.3 306,439.1 306.6,438.9 307.2,439.5 307.8,439.4 308.4,440 309,438.9 309.6,438.7 310.2,439.2 310.8,439.4 311.4,439.4 312,439.7 312.6,438.7 313.2,439 313.8,439.2 314.4,439.6 315,439.4 315.6,439.1 316.2,438.8 316.8,439.5 317.4,439.5 317.6,440.2 317.6,454.3 317.4,453.7 316.8,453.7 316.2,454.1 315.6,454.3 315,454 314.4,454.5 313.8,454.9 313.2,454.5 312.6,453.9 312,454.6 311.4,453.6 310.8,454.6 310.2,453.9 309.6,454.3 309,454.6 308.4,453.9 307.8,454.7 307.2,454.2 306.6,454.4 306,454.8 305.4,453.8 304.8,454 304.2,454.1 303.6,454.2 303,454.1 302.4,454.8 301.8,453.6 301.2,454.3 300.6,454 300,453.8 299.4,453.5 298.8,454.4 298.2,453.8 297.6,453.8 297,454.1 296.4,454.1 295.8,453.4 295.2,454.6 294.6,453.9 294,454 293.4,454.7 292.8,454.9 292.2,454.3 291.6,453.9 291,453.7 290.4,453.7 289.8,453.7 289.2,453.8 288.6,454.2 288,453.4 287.4,452.7 286.8,453.6 286.2,452.6 285.6,452.5 285,453.6 284.4,452.7 283.8,452.4 283.2,452.2 282.6,451.9 282,452.4 281.4,450.9 280.8,450.3 280.2,450.5 279.6,450 279,451.7 278.4,451.2 277.8,452.7 277.2,453.9 276.6,453 276,453.1 275.4,452.8 274.8,452.7 274.2,453.1 273.6,452.2 273,453.1 272.4,452.4 271.8,452.6 271.2,453.9 270.6,453.2 270,453.7 269.4,452.3 268.8,452.9 268.2,452.7 267.6,452.9 267,453 266.4,452.3 265.8,453.1 265.2,453 264.6,453.1 264,452.8 263.4,453.8 262.8,453.5 262.2,453.1 261.6,453.6 261,453 260.4,453.7 259.8,452.3 259.2,453.6 258.6,453 258,453.5 257.4,453.1 256.8,453.1 256.2,452.9 255.6,453.3 255,453.3 254.4,453.6 253.8,453.1 253.2,453 252.6,452.5 252,453.5 251.4,452.9 250.8,452.2 250.2,453.4 249.6,453.7 249,454 248.4,453 247.8,454.2 247.2,453.5 246.6,454 246,453.9 245.4,455.4 244.8,455.3 244.2,455.3 243.6,455.1 243,454.4 242.4,456.1 241.8,456 241.2,455.8 240.6,455.4 240,454.9 239.4,455.9 238.8,456 238.2,455.5 237.6,455.9 237,455.6 236.4,455 235.8,455.8 235.2,455.9 234.6,454.9 234,455.5 233.4,455.7 232.8,456 232.2,455.9 231.6,455.3 231,455.7 230.4,456.2 229.8,456.1 229.2,456.3 228.6,456.3 228,455.4 227.4,456 226.8,455.5 226.2,455.3 225.6,454.4 225,455 224.4,455.7 223.8,454.7 223.2,455.6 222.6,455.6 222,454.9 221.4,455.8 220.8,455.3 220.2,455.6 219.6,455.4 219,455.1 218.4,455.2 217.8,455.7 217.2,456.1 216.6,455 216,456.2 215.4,455.1 214.8,456 214.2,456.1 213.6,455.3 213,455.7 212.4,455.1 211.8,456 211.2,455.8 210.6,455.8 210,456 209.4,455.3 208.8,455.2 208.2,455.6 207.6,455 207,454.6 206.4,454.5 205.8,455.1 205.2,454.2 204.6,454 204,454.3 203.4,453.9 202.8,455.3 202.2,455.2 201.6,454.1 201,454.1 200.4,453.4 199.8,452.9 199.2,453.1 198.6,452.6 198,452.2 197.4,451.8 196.8,451.9 196.2,452.2 195.6,451.9 195,451.5 194.4,451.1 193.8,449.6 193.2,450.4 192.6,451.2 192,449.6 191.4,451.7 190.8,451.2 190.2,452.4 189.6,451.9 189,451.4 188.4,452.9 187.8,452.5 187.2,452.4 186.6,452.3 186,453.1 185.4,453.6 184.8,453 184.2,453.4 183.6,454.4 183,454.7 182.4,454.5 181.8,455.1 181.2,454.8 180.6,455.2 180,454.3 179.4,454.1 178.8,454.5 178.2,454.7 177.6,455.1 177,454.4 176.4,455.4 175.8,455.5 175.2,454.7 174.6,455.7 174,454.8 173.4,454.9 172.8,455.4 172.2,455.1 171.6,454.8 171,454.2 170.4,454.8 169.8,455.5 169.2,455.6 168.6,455.3 168,454.3 167.4,454.8 166.8,454.5 166.2,454.3 165.6,454.3 165,454.1 164.4,454.4 163.8,453.5 163.2,453.2 162.6,453.3 162,452.6 161.4,452.5 160.8,452.1 160.2,451.7 159.6,451.6 159,451.2 158.4,450.9 157.8,450.3 157.2,451.3 156.6,450.2"/></defs>
<use href="#s29" fill="url(#grn)"/>
<use href="#s29" fill="url(#hatchg)"/>
<polyline points="156.6,438.5 157.2,437.4 157.8,438.1 158.4,438.1 159,437.6 159.6,438.1 160.2,438.7 160.8,438.3 161.4,438.5 162,438.8 162.6,438.2 163.2,438.7 163.8,439.3 164.4,439.6 165,439.2 165.6,439.6 166.2,439.7 166.8,439.7 167.4,440.1 168,439.8 168.6,439.9 169.2,439.3 169.8,439.4 170.4,439.9 171,439.2 171.6,439.9 172.2,439.5 172.8,439.5 173.4,440 174,439.5 174.6,439.5 175.2,439.5 175.8,439.8 176.4,440.8 177,439 177.6,439.8 178.2,439.7 178.8,440.2 179.4,439.7 180,438.9 180.6,440.3 181.2,439.4 181.8,439.7 182.4,439.1 183,439.1 183.6,439.2 184.2,439.6 184.8,439.5 185.4,438.8 186,439.2 186.6,438.7 187.2,438.8 187.8,438.7 188.4,438.8 189,438.2 189.6,438.2 190.2,438.3 190.8,438.1 191.4,437.7 192,438.5 192.6,437.6 193.2,437.9 193.8,437.7 194.4,438.2 195,437 195.6,438.7 196.2,438 196.8,437.7 197.4,438.3 198,439.2 198.6,438.7 199.2,438.1 199.8,438.5 200.4,439.2 201,438.3 201.6,438.8 202.2,438.8 202.8,439.8 203.4,438.9 204,439.5 204.6,438.7 205.2,438.7 205.8,439.4 206.4,439.2 207,438.4 207.6,439.3 208.2,439.3 208.8,438.8 209.4,439.1 210,439.1 210.6,438.8 211.2,438.8 211.8,438.8 212.4,438.9 213,438.5 213.6,439 214.2,438.5 214.8,439.1 215.4,439 216,438.7 216.6,439.4 217.2,439.8 217.8,439.6 218.4,438.6 219,439.6 219.6,439.2 220.2,439.1 220.8,438.9 221.4,439.1 222,439.6 222.6,439.3 223.2,438.9 223.8,438.8 224.4,438.9 225,439.3 225.6,439.8 226.2,438.7 226.8,439.1 227.4,439 228,438.8 228.6,439.3 229.2,439.3 229.8,438.6 230.4,438.7 231,439.6 231.6,439.3 232.2,439.3 232.8,439 233.4,439 234,439.3 234.6,439 235.2,438.7 235.8,439.2 236.4,439.5 237,438.8 237.6,439.6 238.2,439.4 238.8,438.8 239.4,439.2 240,439.2 240.6,439.4 241.2,439.4 241.8,438.7 242.4,438.6 243,439.3 243.6,438.8 244.2,438.8 244.8,438.6 245.4,438.9 246,437.8 246.6,438.5 247.2,437.7 247.8,438.3 248.4,438.5 249,437.5 249.6,438.1 250.2,437.9 250.8,437.9 251.4,438 252,437.6 252.6,437.6 253.2,438.2 253.8,438.3 254.4,437.8 255,437.4 255.6,438.9 256.2,438.4 256.8,438.1 257.4,437.6 258,437.9 258.6,438.3 259.2,438 259.8,439.2 260.4,438.8 261,439.1 261.6,438.7 262.2,438.8 262.8,438.9 263.4,439.3 264,439.1 264.6,439.1 265.2,439.3 265.8,439.3 266.4,439.7 267,439.1 267.6,438.8 268.2,439.2 268.8,439.7 269.4,439 270,439.2 270.6,439.1 271.2,439.3 271.8,439.3 272.4,438.9 273,439.1 273.6,439.5 274.2,439.6 274.8,439.5 275.4,439.5 276,439.1 276.6,439.1 277.2,439.5 277.8,438.2 278.4,438 279,436.8 279.6,437 280.2,436.5 280.8,436.3 281.4,437.4 282,437.4 282.6,438 283.2,438.4 283.8,438.4 284.4,439.4 285,438.9 285.6,439.4 286.2,439.1 286.8,439.5 287.4,439.6 288,439.6 288.6,439.4 289.2,439.7 289.8,440.2 290.4,439.6 291,439.6 291.6,439.5 292.2,440.5 292.8,440.2 293.4,439.8 294,439.8 294.6,439.3 295.2,439.5 295.8,439.6 296.4,439.6 297,439.2 297.6,439.2 298.2,439.7 298.8,439.6 299.4,438.7 300,439.5 300.6,439.9 301.2,439.2 301.8,439.5 302.4,438.9 303,439.7 303.6,439 304.2,438.9 304.8,439.3 305.4,440.3 306,439.1 306.6,438.9 307.2,439.5 307.8,439.4 308.4,440 309,438.9 309.6,438.7 310.2,439.2 310.8,439.4 311.4,439.4 312,439.7 312.6,438.7 313.2,439 313.8,439.2 314.4,439.6 315,439.4 315.6,439.1 316.2,438.8 316.8,439.5 317.4,439.5 317.6,440.2" fill="none" stroke="#111" stroke-width="1.15" stroke-linejoin="round" />
<polyline points="156.6,450.2 157.2,451.3 157.8,450.3 158.4,450.9 159,451.2 159.6,451.6 160.2,451.7 160.8,452.1 161.4,452.5 162,452.6 162.6,453.3 163.2,453.2 163.8,453.5 164.4,454.4 165,454.1 165.6,454.3 166.2,454.3 166.8,454.5 167.4,454.8 168,454.3 168.6,455.3 169.2,455.6 169.8,455.5 170.4,454.8 171,454.2 171.6,454.8 172.2,455.1 172.8,455.4 173.4,454.9 174,454.8 174.6,455.7 175.2,454.7 175.8,455.5 176.4,455.4 177,454.4 177.6,455.1 178.2,454.7 178.8,454.5 179.4,454.1 180,454.3 180.6,455.2 181.2,454.8 181.8,455.1 182.4,454.5 183,454.7 183.6,454.4 184.2,453.4 184.8,453 185.4,453.6 186,453.1 186.6,452.3 187.2,452.4 187.8,452.5 188.4,452.9 189,451.4 189.6,451.9 190.2,452.4 190.8,451.2 191.4,451.7 192,449.6 192.6,451.2 193.2,450.4 193.8,449.6 194.4,451.1 195,451.5 195.6,451.9 196.2,452.2 196.8,451.9 197.4,451.8 198,452.2 198.6,452.6 199.2,453.1 199.8,452.9 200.4,453.4 201,454.1 201.6,454.1 202.2,455.2 202.8,455.3 203.4,453.9 204,454.3 204.6,454 205.2,454.2 205.8,455.1 206.4,454.5 207,454.6 207.6,455 208.2,455.6 208.8,455.2 209.4,455.3 210,456 210.6,455.8 211.2,455.8 211.8,456 212.4,455.1 213,455.7 213.6,455.3 214.2,456.1 214.8,456 215.4,455.1 216,456.2 216.6,455 217.2,456.1 217.8,455.7 218.4,455.2 219,455.1 219.6,455.4 220.2,455.6 220.8,455.3 221.4,455.8 222,454.9 222.6,455.6 223.2,455.6 223.8,454.7 224.4,455.7 225,455 225.6,454.4 226.2,455.3 226.8,455.5 227.4,456 228,455.4 228.6,456.3 229.2,456.3 229.8,456.1 230.4,456.2 231,455.7 231.6,455.3 232.2,455.9 232.8,456 233.4,455.7 234,455.5 234.6,454.9 235.2,455.9 235.8,455.8 236.4,455 237,455.6 237.6,455.9 238.2,455.5 238.8,456 239.4,455.9 240,454.9 240.6,455.4 241.2,455.8 241.8,456 242.4,456.1 243,454.4 243.6,455.1 244.2,455.3 244.8,455.3 245.4,455.4 246,453.9 246.6,454 247.2,453.5 247.8,454.2 248.4,453 249,454 249.6,453.7 250.2,453.4 250.8,452.2 251.4,452.9 252,453.5 252.6,452.5 253.2,453 253.8,453.1 254.4,453.6 255,453.3 255.6,453.3 256.2,452.9 256.8,453.1 257.4,453.1 258,453.5 258.6,453 259.2,453.6 259.8,452.3 260.4,453.7 261,453 261.6,453.6 262.2,453.1 262.8,453.5 263.4,453.8 264,452.8 264.6,453.1 265.2,453 265.8,453.1 266.4,452.3 267,453 267.6,452.9 268.2,452.7 268.8,452.9 269.4,452.3 270,453.7 270.6,453.2 271.2,453.9 271.8,452.6 272.4,452.4 273,453.1 273.6,452.2 274.2,453.1 274.8,452.7 275.4,452.8 276,453.1 276.6,453 277.2,453.9 277.8,452.7 278.4,451.2 279,451.7 279.6,450 280.2,450.5 280.8,450.3 281.4,450.9 282,452.4 282.6,451.9 283.2,452.2 283.8,452.4 284.4,452.7 285,453.6 285.6,452.5 286.2,452.6 286.8,453.6 287.4,452.7 288,453.4 288.6,454.2 289.2,453.8 289.8,453.7 290.4,453.7 291,453.7 291.6,453.9 292.2,454.3 292.8,454.9 293.4,454.7 294,454 294.6,453.9 295.2,454.6 295.8,453.4 296.4,454.1 297,454.1 297.6,453.8 298.2,453.8 298.8,454.4 299.4,453.5 300,453.8 300.6,454 301.2,454.3 301.8,453.6 302.4,454.8 303,454.1 303.6,454.2 304.2,454.1 304.8,454 305.4,453.8 306,454.8 306.6,454.4 307.2,454.2 307.8,454.7 308.4,453.9 309,454.6 309.6,454.3 310.2,453.9 310.8,454.6 311.4,453.6 312,454.6 312.6,453.9 313.2,454.5 313.8,454.9 314.4,454.5 315,454 315.6,454.3 316.2,454.1 316.8,453.7 317.4,453.7 317.6,454.3" fill="none" stroke="#111" stroke-width="1.15" stroke-linejoin="round" />
<defs><polygon id="s30" points="326.2,438.1 326.8,437.2 327.4,437.7 328,437.8 328.6,437.6 329.2,437.1 329.8,437.8 330.4,436.8 331,437.4 331.6,437.7 332.2,436.2 332.8,437 333.4,436.9 334,436.8 334.6,436.4 335.2,436.4 335.8,435.9 336.4,436.5 337,436.7 337.6,436.2 338.2,436.1 338.8,436.3 339.4,436.5 340,436.5 340.6,436.4 341.2,436.5 341.8,436 342.4,435.4 343,436.7 343.6,437 344.2,435.9 344.8,436.2 345.4,436.6 346,436.8 346.6,436.8 347.2,437.2 347.8,436.8 348.4,437.2 349,437.3 349.6,437.2 350.2,437.9 350.8,437.9 351.4,438.2 352,437.8 352.6,438.5 353.2,437.9 353.8,438.6 354.4,437.5 355,438.1 355.6,438.7 356.2,438.3 356.8,438.5 357.4,437.9 358,439 358.6,438.7 359.2,438.5 359.8,438.6 360.4,438.6 361,439 361.6,438.5 362.2,437.9 362.8,438.4 363.4,438.9 364,438.7 364.6,438.3 365.2,438.7 365.8,438.5 366.4,438.7 367,437.9 367.6,438.1 368.2,438.7 368.8,438.4 369.4,438.6 370,439.2 370.6,438.3 371.2,438.6 371.8,438.3 372.4,438.2 373,438.4 373.6,437.9 374.2,437.7 374.8,439 375.4,438.4 376,438.9 376.6,438.5 377.2,438.5 377.8,438.7 378.4,438.5 379,437.5 379.6,438 380.2,436.9 380.8,437.2 381.4,438.1 382,437.2 382.6,437.8 383.2,437 383.8,437.4 384.4,437.2 385,437.3 385.6,436.8 386.2,436.8 386.8,437.3 387.4,436.6 388,436.8 388.6,437.4 389.2,436.9 389.8,436.8 390.4,436.8 391,437.2 391.6,437 392.2,437.2 392.8,437.1 393.4,437.8 394,437 394.6,436.4 395.2,437.2 395.8,437.2 396.4,437.4 397,437.4 397.6,439 398.2,439.2 398.8,439.7 399.4,439.2 400,439.9 400.6,439.7 401.2,440.3 401.8,439.6 402.4,439.3 403,439.8 403.6,439.4 404.2,439.9 404.8,439.4 405.4,439.7 406,439.7 406.6,439.8 407.2,439.6 407.8,439.5 408.4,439.7 409,439.5 409.6,439.8 410.2,439.7 410.8,438.9 411.4,439.7 412,440.3 412.6,439.9 413.2,440 413.8,439.9 414.4,439.6 415,439.3 415.6,440.1 416.2,440.2 416.8,440 417.4,439.9 418,439.9 418.6,439.8 419.2,439.9 419.8,439.8 420.4,439.9 421,439.4 421.6,439.5 422.2,440 422.8,439.6 423.4,438.9 424,439.8 424.6,438.9 425.2,440.4 425.8,439.7 426.4,439.4 427,438.6 427.6,438.2 428.2,438.5 428.8,438.6 429.4,438.3 430,438.6 430.6,438.8 431.2,438.7 431.8,438.1 432.4,437.7 433,438.5 433.6,438.3 434.2,438.7 434.8,439.1 435.4,439.1 436,438.6 436.6,438.9 437.2,439.3 437.8,439.4 438.4,440.2 439,441.2 439.6,441.5 440.2,441.4 440.8,441.5 441.4,441.9 442,441.8 442.6,442.4 443.2,442.2 443.8,443 444.4,442.6 445,441.2 445.6,441.5 446.2,440.5 446.8,440.6 447.4,439.8 448,439.1 448.6,438.8 449.2,438.3 449.8,438.7 450.4,438.7 451,438.6 451.6,438.8 452.2,438.4 452.8,439 453.4,438.4 454,439.1 454.6,439.1 455.2,439.2 455.8,438.8 456.4,440.1 457,438.9 457.6,439 458.2,438.7 458.8,439.5 459.4,438.8 460,439.3 460.6,438.6 461.2,439.1 461.8,438.8 462.4,439.3 463,438.9 463.6,438.7 464.2,439.1 464.8,438.5 465.4,438.6 466,439.3 466.6,438.3 467.2,439.3 467.8,438.8 468.4,438.6 469,439.1 469.6,439.2 470.2,438.8 470.8,438.9 471.4,439.3 472,439.3 472.6,439 473.2,438.7 473.8,438.6 474.4,438.8 475,439.2 475.6,439.2 476.2,439.1 476.8,439.5 477.4,438.9 478,438.8 478.6,438.8 479.2,439.7 479.8,438.2 480.4,439.1 481,439.1 481.6,439 482.2,439.8 482.8,439.4 483.4,439.3 484,438.7 484.6,439.2 485.2,438.9 485.8,439 486.4,439.1 487,438.8 487.6,439.2 488.2,439.6 488.8,439.4 489.4,439.1 490,438.3 490.6,439.4 491.2,439.4 491.8,438.9 492.4,438.8 493,439.2 493.6,438.7 493.7,439.3 493.7,455.1 493.6,455 493,455 492.4,455.5 491.8,453.8 491.2,455 490.6,454.9 490,454.5 489.4,454.5 488.8,455.1 488.2,455.1 487.6,454.6 487,454.9 486.4,454 485.8,455.2 485.2,456.4 484.6,455.8 484,455.3 483.4,455.8 482.8,455.1 482.2,455.5 481.6,455.6 481,455.1 480.4,454.8 479.8,454.7 479.2,456.1 478.6,454.7 478,455.7 477.4,455.8 476.8,454.8 476.2,455.5 475.6,455.7 475,454.9 474.4,455.8 473.8,455.3 473.2,455.5 472.6,455 472,455.5 471.4,455.7 470.8,455.1 470.2,455.1 469.6,455.6 469,455.6 468.4,454.9 467.8,455 467.2,455.5 466.6,454.8 466,454.5 465.4,454.4 464.8,454.7 464.2,454.9 463.6,455 463,454.9 462.4,454.4 461.8,454.8 461.2,454.6 460.6,455.6 460,455 459.4,454.6 458.8,455.6 458.2,455.2 457.6,454.2 457,454.4 456.4,454.7 455.8,454.9 455.2,453.8 454.6,454.8 454,454.1 453.4,454.2 452.8,454.3 452.2,455.3 451.6,454.2 451,454.2 450.4,452.9 449.8,453.2 449.2,452.6 448.6,453.6 448,452.7 447.4,451.6 446.8,451.3 446.2,451.2 445.6,451.4 445,449.5 444.4,450.2 443.8,450 443.2,450.4 442.6,451.1 442,451.1 441.4,450.1 440.8,451.1 440.2,450.7 439.6,450.9 439,452.8 438.4,452 437.8,453.3 437.2,453.8 436.6,454.1 436,454.3 435.4,453.7 434.8,454 434.2,454.7 433.6,455 433,455.2 432.4,454.6 431.8,454.7 431.2,455 430.6,454.1 430,454.4 429.4,453.8 428.8,454.6 428.2,454.2 427.6,455.2 427,455.1 426.4,456 425.8,456.1 425.2,456.5 424.6,457 424,456.9 423.4,456.6 422.8,457.5 422.2,456.9 421.6,456.9 421,457.3 420.4,456.2 419.8,456.7 419.2,456.8 418.6,456.8 418,456.5 417.4,457.6 416.8,457.7 416.2,457 415.6,457.2 415,457.7 414.4,457.5 413.8,456.8 413.2,457.2 412.6,457.5 412,456.4 411.4,457.1 410.8,456.3 410.2,455.8 409.6,456 409,456.4 408.4,455.4 407.8,455.8 407.2,456.1 406.6,455.4 406,456.7 405.4,455.7 404.8,456.1 404.2,455.3 403.6,455.4 403,455.7 402.4,455.8 401.8,455.6 401.2,455 400.6,454.9 400,454.1 399.4,454.6 398.8,454.8 398.2,452.6 397.6,453.1 397,454.1 396.4,454 395.8,454.3 395.2,454.2 394.6,454.4 394,455 393.4,453.7 392.8,454.9 392.2,455 391.6,453.5 391,453.8 390.4,454.3 389.8,454.9 389.2,453.7 388.6,454.6 388,453.8 387.4,454.3 386.8,454.5 386.2,454 385.6,454.7 385,453.8 384.4,454.4 383.8,455.2 383.2,453.5 382.6,454 382,452.5 381.4,453.1 380.8,453.6 380.2,453.2 379.6,452.9 379,454.3 378.4,455.2 377.8,455.7 377.2,455.7 376.6,455.3 376,455.8 375.4,456.3 374.8,455.9 374.2,455.4 373.6,455.4 373,455.7 372.4,456.4 371.8,455.9 371.2,456 370.6,455.5 370,455.5 369.4,455.3 368.8,455.8 368.2,454.9 367.6,455.8 367,455.6 366.4,455.4 365.8,455.8 365.2,455.2 364.6,455.4 364,455 363.4,455.9 362.8,455.4 362.2,455.5 361.6,455.6 361,455.1 360.4,455.8 359.8,455.5 359.2,455.5 358.6,455.6 358,455.8 357.4,455.7 356.8,455.5 356.2,455.6 355.6,456.1 355,455.4 354.4,455.8 353.8,454.7 353.2,455.7 352.6,456 352,454.5 351.4,454.5 350.8,454.5 350.2,453.9 349.6,454.6 349,454.2 348.4,453.8 347.8,453.8 347.2,452.9 346.6,453.2 346,453.4 345.4,453.1 344.8,452.6 344.2,452.7 343.6,453 343,453.1 342.4,452.6 341.8,453.1 341.2,452.9 340.6,452.7 340,453.3 339.4,453.2 338.8,452.8 338.2,453.1 337.6,453.4 337,452.4 336.4,453.4 335.8,453.7 335.2,452.7 334.6,452.8 334,452.5 333.4,453.1 332.8,453.2 332.2,453.6 331.6,453.8 331,453.4 330.4,454.1 329.8,453.2 329.2,454.1 328.6,453.9 328,453.4 327.4,454.1 326.8,453.8 326.2,453.8"/></defs>
<use href="#s30" fill="url(#grn)"/>
<use href="#s30" fill="url(#hatchg)"/>
<polyline points="326.2,438.1 326.8,437.2 327.4,437.7 328,437.8 328.6,437.6 329.2,437.1 329.8,437.8 330.4,436.8 331,437.4 331.6,437.7 332.2,436.2 332.8,437 333.4,436.9 334,436.8 334.6,436.4 335.2,436.4 335.8,435.9 336.4,436.5 337,436.7 337.6,436.2 338.2,436.1 338.8,436.3 339.4,436.5 340,436.5 340.6,436.4 341.2,436.5 341.8,436 342.4,435.4 343,436.7 343.6,437 344.2,435.9 344.8,436.2 345.4,436.6 346,436.8 346.6,436.8 347.2,437.2 347.8,436.8 348.4,437.2 349,437.3 349.6,437.2 350.2,437.9 350.8,437.9 351.4,438.2 352,437.8 352.6,438.5 353.2,437.9 353.8,438.6 354.4,437.5 355,438.1 355.6,438.7 356.2,438.3 356.8,438.5 357.4,437.9 358,439 358.6,438.7 359.2,438.5 359.8,438.6 360.4,438.6 361,439 361.6,438.5 362.2,437.9 362.8,438.4 363.4,438.9 364,438.7 364.6,438.3 365.2,438.7 365.8,438.5 366.4,438.7 367,437.9 367.6,438.1 368.2,438.7 368.8,438.4 369.4,438.6 370,439.2 370.6,438.3 371.2,438.6 371.8,438.3 372.4,438.2 373,438.4 373.6,437.9 374.2,437.7 374.8,439 375.4,438.4 376,438.9 376.6,438.5 377.2,438.5 377.8,438.7 378.4,438.5 379,437.5 379.6,438 380.2,436.9 380.8,437.2 381.4,438.1 382,437.2 382.6,437.8 383.2,437 383.8,437.4 384.4,437.2 385,437.3 385.6,436.8 386.2,436.8 386.8,437.3 387.4,436.6 388,436.8 388.6,437.4 389.2,436.9 389.8,436.8 390.4,436.8 391,437.2 391.6,437 392.2,437.2 392.8,437.1 393.4,437.8 394,437 394.6,436.4 395.2,437.2 395.8,437.2 396.4,437.4 397,437.4 397.6,439 398.2,439.2 398.8,439.7 399.4,439.2 400,439.9 400.6,439.7 401.2,440.3 401.8,439.6 402.4,439.3 403,439.8 403.6,439.4 404.2,439.9 404.8,439.4 405.4,439.7 406,439.7 406.6,439.8 407.2,439.6 407.8,439.5 408.4,439.7 409,439.5 409.6,439.8 410.2,439.7 410.8,438.9 411.4,439.7 412,440.3 412.6,439.9 413.2,440 413.8,439.9 414.4,439.6 415,439.3 415.6,440.1 416.2,440.2 416.8,440 417.4,439.9 418,439.9 418.6,439.8 419.2,439.9 419.8,439.8 420.4,439.9 421,439.4 421.6,439.5 422.2,440 422.8,439.6 423.4,438.9 424,439.8 424.6,438.9 425.2,440.4 425.8,439.7 426.4,439.4 427,438.6 427.6,438.2 428.2,438.5 428.8,438.6 429.4,438.3 430,438.6 430.6,438.8 431.2,438.7 431.8,438.1 432.4,437.7 433,438.5 433.6,438.3 434.2,438.7 434.8,439.1 435.4,439.1 436,438.6 436.6,438.9 437.2,439.3 437.8,439.4 438.4,440.2 439,441.2 439.6,441.5 440.2,441.4 440.8,441.5 441.4,441.9 442,441.8 442.6,442.4 443.2,442.2 443.8,443 444.4,442.6 445,441.2 445.6,441.5 446.2,440.5 446.8,440.6 447.4,439.8 448,439.1 448.6,438.8 449.2,438.3 449.8,438.7 450.4,438.7 451,438.6 451.6,438.8 452.2,438.4 452.8,439 453.4,438.4 454,439.1 454.6,439.1 455.2,439.2 455.8,438.8 456.4,440.1 457,438.9 457.6,439 458.2,438.7 458.8,439.5 459.4,438.8 460,439.3 460.6,438.6 461.2,439.1 461.8,438.8 462.4,439.3 463,438.9 463.6,438.7 464.2,439.1 464.8,438.5 465.4,438.6 466,439.3 466.6,438.3 467.2,439.3 467.8,438.8 468.4,438.6 469,439.1 469.6,439.2 470.2,438.8 470.8,438.9 471.4,439.3 472,439.3 472.6,439 473.2,438.7 473.8,438.6 474.4,438.8 475,439.2 475.6,439.2 476.2,439.1 476.8,439.5 477.4,438.9 478,438.8 478.6,438.8 479.2,439.7 479.8,438.2 480.4,439.1 481,439.1 481.6,439 482.2,439.8 482.8,439.4 483.4,439.3 484,438.7 484.6,439.2 485.2,438.9 485.8,439 486.4,439.1 487,438.8 487.6,439.2 488.2,439.6 488.8,439.4 489.4,439.1 490,438.3 490.6,439.4 491.2,439.4 491.8,438.9 492.4,438.8 493,439.2 493.6,438.7 493.7,439.3" fill="none" stroke="#111" stroke-width="1.15" stroke-linejoin="round" />
<polyline points="326.2,453.8 326.8,453.8 327.4,454.1 328,453.4 328.6,453.9 329.2,454.1 329.8,453.2 330.4,454.1 331,453.4 331.6,453.8 332.2,453.6 332.8,453.2 333.4,453.1 334,452.5 334.6,452.8 335.2,452.7 335.8,453.7 336.4,453.4 337,452.4 337.6,453.4 338.2,453.1 338.8,452.8 339.4,453.2 340,453.3 340.6,452.7 341.2,452.9 341.8,453.1 342.4,452.6 343,453.1 343.6,453 344.2,452.7 344.8,452.6 345.4,453.1 346,453.4 346.6,453.2 347.2,452.9 347.8,453.8 348.4,453.8 349,454.2 349.6,454.6 350.2,453.9 350.8,454.5 351.4,454.5 352,454.5 352.6,456 353.2,455.7 353.8,454.7 354.4,455.8 355,455.4 355.6,456.1 356.2,455.6 356.8,455.5 357.4,455.7 358,455.8 358.6,455.6 359.2,455.5 359.8,455.5 360.4,455.8 361,455.1 361.6,455.6 362.2,455.5 362.8,455.4 363.4,455.9 364,455 364.6,455.4 365.2,455.2 365.8,455.8 366.4,455.4 367,455.6 367.6,455.8 368.2,454.9 368.8,455.8 369.4,455.3 370,455.5 370.6,455.5 371.2,456 371.8,455.9 372.4,456.4 373,455.7 373.6,455.4 374.2,455.4 374.8,455.9 375.4,456.3 376,455.8 376.6,455.3 377.2,455.7 377.8,455.7 378.4,455.2 379,454.3 379.6,452.9 380.2,453.2 380.8,453.6 381.4,453.1 382,452.5 382.6,454 383.2,453.5 383.8,455.2 384.4,454.4 385,453.8 385.6,454.7 386.2,454 386.8,454.5 387.4,454.3 388,453.8 388.6,454.6 389.2,453.7 389.8,454.9 390.4,454.3 391,453.8 391.6,453.5 392.2,455 392.8,454.9 393.4,453.7 394,455 394.6,454.4 395.2,454.2 395.8,454.3 396.4,454 397,454.1 397.6,453.1 398.2,452.6 398.8,454.8 399.4,454.6 400,454.1 400.6,454.9 401.2,455 401.8,455.6 402.4,455.8 403,455.7 403.6,455.4 404.2,455.3 404.8,456.1 405.4,455.7 406,456.7 406.6,455.4 407.2,456.1 407.8,455.8 408.4,455.4 409,456.4 409.6,456 410.2,455.8 410.8,456.3 411.4,457.1 412,456.4 412.6,457.5 413.2,457.2 413.8,456.8 414.4,457.5 415,457.7 415.6,457.2 416.2,457 416.8,457.7 417.4,457.6 418,456.5 418.6,456.8 419.2,456.8 419.8,456.7 420.4,456.2 421,457.3 421.6,456.9 422.2,456.9 422.8,457.5 423.4,456.6 424,456.9 424.6,457 425.2,456.5 425.8,456.1 426.4,456 427,455.1 427.6,455.2 428.2,454.2 428.8,454.6 429.4,453.8 430,454.4 430.6,454.1 431.2,455 431.8,454.7 432.4,454.6 433,455.2 433.6,455 434.2,454.7 434.8,454 435.4,453.7 436,454.3 436.6,454.1 437.2,453.8 437.8,453.3 438.4,452 439,452.8 439.6,450.9 440.2,450.7 440.8,451.1 441.4,450.1 442,451.1 442.6,451.1 443.2,450.4 443.8,450 444.4,450.2 445,449.5 445.6,451.4 446.2,451.2 446.8,451.3 447.4,451.6 448,452.7 448.6,453.6 449.2,452.6 449.8,453.2 450.4,452.9 451,454.2 451.6,454.2 452.2,455.3 452.8,454.3 453.4,454.2 454,454.1 454.6,454.8 455.2,453.8 455.8,454.9 456.4,454.7 457,454.4 457.6,454.2 458.2,455.2 458.8,455.6 459.4,454.6 460,455 460.6,455.6 461.2,454.6 461.8,454.8 462.4,454.4 463,454.9 463.6,455 464.2,454.9 464.8,454.7 465.4,454.4 466,454.5 466.6,454.8 467.2,455.5 467.8,455 468.4,454.9 469,455.6 469.6,455.6 470.2,455.1 470.8,455.1 471.4,455.7 472,455.5 472.6,455 473.2,455.5 473.8,455.3 474.4,455.8 475,454.9 475.6,455.7 476.2,455.5 476.8,454.8 477.4,455.8 478,455.7 478.6,454.7 479.2,456.1 479.8,454.7 480.4,454.8 481,455.1 481.6,455.6 482.2,455.5 482.8,455.1 483.4,455.8 484,455.3 484.6,455.8 485.2,456.4 485.8,455.2 486.4,454 487,454.9 487.6,454.6 488.2,455.1 488.8,455.1 489.4,454.5 490,454.5 490.6,454.9 491.2,455 491.8,453.8 492.4,455.5 493,455 493.6,455 493.7,455.1" fill="none" stroke="#111" stroke-width="1.15" stroke-linejoin="round" />
<defs><polygon id="s31" points="498,436.8 498.6,436.8 499.2,436.9 499.8,436.2 500.4,435.9 501,435.5 501.6,435.2 502.2,436.9 502.8,436.5 503.4,435.9 504,434.8 504.6,435.9 505.2,435.2 505.8,437.5 506.4,436.8 507,436.1 507.6,436.4 508.2,438.5 508.8,437.5 509.4,435.7 510,436.6 510.6,435.8 511.2,435.4 511.8,436.8 512.4,438.5 513,437.9 513.6,436.8 514.2,436.5 514.8,436.9 515.4,437.5 516,435.7 516.6,435.4 517.2,438.2 517.8,437 518.4,438 519,437 519.6,437.9 520.2,436.4 520.8,437.2 521.4,438 522,437.6 522.6,436.5 523.2,437.5 523.8,436.4 524.4,435.8 525,437.3 525.6,437.9 526.2,437.5 526.8,436 527.4,437.6 528,437.4 528.6,436.6 529.2,435.1 529.8,437.7 530.4,437.6 531,437.4 531.6,435.7 531.6,454.2 531,454.3 530.4,452.5 529.8,454.4 529.2,454.5 528.6,454 528,453.4 527.4,455.2 526.8,452.6 526.2,452.7 525.6,453.3 525,455.2 524.4,453.8 523.8,452.5 523.2,453.1 522.6,453.8 522,453.1 521.4,450.5 520.8,451.9 520.2,454.3 519.6,453.2 519,454.3 518.4,453.5 517.8,453 517.2,452.5 516.6,452 516,453.9 515.4,454.5 514.8,452.8 514.2,454.7 513.6,453 513,453.3 512.4,452.8 511.8,451.3 511.2,454.7 510.6,454.5 510,454.3 509.4,451.3 508.8,454.4 508.2,454.1 507.6,453.5 507,451.9 506.4,454.6 505.8,452 505.2,453.4 504.6,453.5 504,452.1 503.4,452.4 502.8,451 502.2,451.2 501.6,450.7 501,451.2 500.4,450.3 499.8,450.7 499.2,451.7 498.6,452.7 498,451.1"/></defs>
<use href="#s31" fill="url(#grn)"/>
<use href="#s31" fill="url(#hatchg)"/>
<polyline points="498,436.8 498.6,436.8 499.2,436.9 499.8,436.2 500.4,435.9 501,435.5 501.6,435.2 502.2,436.9 502.8,436.5 503.4,435.9 504,434.8 504.6,435.9 505.2,435.2 505.8,437.5 506.4,436.8 507,436.1 507.6,436.4 508.2,438.5 508.8,437.5 509.4,435.7 510,436.6 510.6,435.8 511.2,435.4 511.8,436.8 512.4,438.5 513,437.9 513.6,436.8 514.2,436.5 514.8,436.9 515.4,437.5 516,435.7 516.6,435.4 517.2,438.2 517.8,437 518.4,438 519,437 519.6,437.9 520.2,436.4 520.8,437.2 521.4,438 522,437.6 522.6,436.5 523.2,437.5 523.8,436.4 524.4,435.8 525,437.3 525.6,437.9 526.2,437.5 526.8,436 527.4,437.6 528,437.4 528.6,436.6 529.2,435.1 529.8,437.7 530.4,437.6 531,437.4 531.6,435.7" fill="none" stroke="#111" stroke-width="1.0" stroke-linejoin="round" />
<polyline points="498,451.1 498.6,452.7 499.2,451.7 499.8,450.7 500.4,450.3 501,451.2 501.6,450.7 502.2,451.2 502.8,451 503.4,452.4 504,452.1 504.6,453.5 505.2,453.4 505.8,452 506.4,454.6 507,451.9 507.6,453.5 508.2,454.1 508.8,454.4 509.4,451.3 510,454.3 510.6,454.5 511.2,454.7 511.8,451.3 512.4,452.8 513,453.3 513.6,453 514.2,454.7 514.8,452.8 515.4,454.5 516,453.9 516.6,452 517.2,452.5 517.8,453 518.4,453.5 519,454.3 519.6,453.2 520.2,454.3 520.8,451.9 521.4,450.5 522,453.1 522.6,453.8 523.2,453.1 523.8,452.5 524.4,453.8 525,455.2 525.6,453.3 526.2,452.7 526.8,452.6 527.4,455.2 528,453.4 528.6,454 529.2,454.5 529.8,454.4 530.4,452.5 531,454.3 531.6,454.2" fill="none" stroke="#111" stroke-width="1.0" stroke-linejoin="round" />
<defs><polygon id="s32" points="536.1,437.7 536.7,438 537.3,437.5 537.9,437.8 538.5,437.7 539.1,438.3 539.7,437.9 540.3,438.4 540.9,438 541.5,438.5 542.1,438.5 542.7,438.6 543.3,438.7 543.9,438.5 544.5,438.5 545.1,437.8 545.7,439 546.3,438.4 546.9,438.5 547.5,438.3 548.1,439 548.7,438.3 549.3,438.8 549.9,439.1 550.5,439.3 551.1,439.1 551.7,438.9 552.3,438.2 552.9,439.2 553.5,439.1 554.1,439 554.7,439 555.3,438.9 555.9,438.9 556.5,439.8 557.1,440.1 557.7,439.2 558.3,440 558.9,439.7 559.5,440 560.1,439.8 560.7,440.1 561.3,440.1 561.9,440.1 562.5,439.2 563.1,440.1 563.7,439.8 564.3,439.4 564.9,440.1 565.5,439.3 566.1,440.4 566.7,441 567.3,440.4 567.9,441.1 568.5,440.9 569.1,441 569.7,440.3 570.3,441.1 570.9,440.9 571.5,441.2 572.1,441 572.7,441.4 573.3,441.1 573.9,441.3 574.5,441.6 575.1,441.2 575.7,441.6 576.3,441.3 576.9,441.4 577.5,441.1 578.1,441.6 578.7,441.7 579.3,441.2 579.9,441.5 580.5,441.3 581.1,440.7 581.7,441.2 582.3,441.5 582.9,440.8 583.5,440.3 584.1,441 584.7,440.6 585.3,441.5 585.9,440.7 586.5,440.7 587.1,440.2 587.7,440.2 588.3,439.6 588.9,439.1 589.5,439.1 590.1,438.5 590.7,439 591.3,437.9 591.9,438.3 592.5,438 593.1,437.7 593.7,438.8 594.3,437.4 594.9,438.7 595.5,437.6 596.1,438.1 596.7,438.9 597.3,437.2 597.9,437.4 598.5,438.4 599.1,437.9 599.7,437.6 600.3,437.8 600.9,437.4 601.5,437.8 602.1,438.3 602.7,437.5 603.3,437.7 603.9,438.2 604.5,438.7 605.1,437.9 605.7,438.4 606.3,438.3 606.9,438.5 607.5,438.8 608.1,438.8 608.7,438.4 609.3,438.3 609.9,438.7 610.5,439.1 611.1,439.5 611.7,438.8 612.3,439 612.9,439.3 613.5,439.3 614.1,439 614.7,439 615.3,439.7 615.9,438.9 616.5,438.8 617.1,438.4 617.7,439.2 618.3,438.9 618.7,439.7 618.7,453.8 618.3,453.8 617.7,454 617.1,453.9 616.5,453.6 615.9,453 615.3,454.1 614.7,453.5 614.1,454.8 613.5,454.2 612.9,454.2 612.3,453.3 611.7,454.1 611.1,453.7 610.5,453.2 609.9,453.7 609.3,454.4 608.7,453.6 608.1,453.8 607.5,454.1 606.9,453.7 606.3,454.1 605.7,453.6 605.1,454.6 604.5,453.6 603.9,453.1 603.3,454.3 602.7,452.7 602.1,453.4 601.5,453.6 600.9,453.9 600.3,454.1 599.7,453.8 599.1,454 598.5,453.4 597.9,454.6 597.3,454.3 596.7,454.2 596.1,454.5 595.5,456.1 594.9,454.2 594.3,454.3 593.7,455.5 593.1,455.3 592.5,455.8 591.9,455.6 591.3,455.8 590.7,457.2 590.1,456.2 589.5,456.5 588.9,456.9 588.3,457.5 587.7,457.8 587.1,457.5 586.5,458.6 585.9,457.8 585.3,458.4 584.7,458.6 584.1,458.7 583.5,458.1 582.9,458.3 582.3,458.2 581.7,458 581.1,458.3 580.5,458.6 579.9,458.1 579.3,458.3 578.7,458 578.1,458.3 577.5,457.9 576.9,458.6 576.3,457.8 575.7,457.7 575.1,458.6 574.5,456.9 573.9,457.2 573.3,456.9 572.7,457.2 572.1,455.9 571.5,455.4 570.9,454.5 570.3,453.3 569.7,453.4 569.1,452.6 568.5,452.2 567.9,452.9 567.3,452.9 566.7,453.7 566.1,453.6 565.5,454.9 564.9,456.7 564.3,458.1 563.7,457.7 563.1,458 562.5,458.3 561.9,457.2 561.3,457.5 560.7,457.7 560.1,457.5 559.5,457.4 558.9,457.3 558.3,457.2 557.7,457.3 557.1,457.2 556.5,456.1 555.9,456.2 555.3,455.5 554.7,455.3 554.1,455.6 553.5,455.4 552.9,455.6 552.3,455.5 551.7,455.2 551.1,455.8 550.5,455.7 549.9,455 549.3,454.6 548.7,454.6 548.1,454.2 547.5,455.4 546.9,454.4 546.3,454.8 545.7,455.6 545.1,454.5 544.5,454.1 543.9,454.6 543.3,454.8 542.7,453.4 542.1,454.4 541.5,454.2 540.9,454.1 540.3,454 539.7,453.9 539.1,454.5 538.5,453 537.9,454.2 537.3,453.8 536.7,453.5 536.1,452.9"/></defs>
<use href="#s32" fill="url(#grn)"/>
<use href="#s32" fill="url(#hatchg)"/>
<polyline points="536.1,437.7 536.7,438 537.3,437.5 537.9,437.8 538.5,437.7 539.1,438.3 539.7,437.9 540.3,438.4 540.9,438 541.5,438.5 542.1,438.5 542.7,438.6 543.3,438.7 543.9,438.5 544.5,438.5 545.1,437.8 545.7,439 546.3,438.4 546.9,438.5 547.5,438.3 548.1,439 548.7,438.3 549.3,438.8 549.9,439.1 550.5,439.3 551.1,439.1 551.7,438.9 552.3,438.2 552.9,439.2 553.5,439.1 554.1,439 554.7,439 555.3,438.9 555.9,438.9 556.5,439.8 557.1,440.1 557.7,439.2 558.3,440 558.9,439.7 559.5,440 560.1,439.8 560.7,440.1 561.3,440.1 561.9,440.1 562.5,439.2 563.1,440.1 563.7,439.8 564.3,439.4 564.9,440.1 565.5,439.3 566.1,440.4 566.7,441 567.3,440.4 567.9,441.1 568.5,440.9 569.1,441 569.7,440.3 570.3,441.1 570.9,440.9 571.5,441.2 572.1,441 572.7,441.4 573.3,441.1 573.9,441.3 574.5,441.6 575.1,441.2 575.7,441.6 576.3,441.3 576.9,441.4 577.5,441.1 578.1,441.6 578.7,441.7 579.3,441.2 579.9,441.5 580.5,441.3 581.1,440.7 581.7,441.2 582.3,441.5 582.9,440.8 583.5,440.3 584.1,441 584.7,440.6 585.3,441.5 585.9,440.7 586.5,440.7 587.1,440.2 587.7,440.2 588.3,439.6 588.9,439.1 589.5,439.1 590.1,438.5 590.7,439 591.3,437.9 591.9,438.3 592.5,438 593.1,437.7 593.7,438.8 594.3,437.4 594.9,438.7 595.5,437.6 596.1,438.1 596.7,438.9 597.3,437.2 597.9,437.4 598.5,438.4 599.1,437.9 599.7,437.6 600.3,437.8 600.9,437.4 601.5,437.8 602.1,438.3 602.7,437.5 603.3,437.7 603.9,438.2 604.5,438.7 605.1,437.9 605.7,438.4 606.3,438.3 606.9,438.5 607.5,438.8 608.1,438.8 608.7,438.4 609.3,438.3 609.9,438.7 610.5,439.1 611.1,439.5 611.7,438.8 612.3,439 612.9,439.3 613.5,439.3 614.1,439 614.7,439 615.3,439.7 615.9,438.9 616.5,438.8 617.1,438.4 617.7,439.2 618.3,438.9 618.7,439.7" fill="none" stroke="#111" stroke-width="1.15" stroke-linejoin="round" />
<polyline points="536.1,452.9 536.7,453.5 537.3,453.8 537.9,454.2 538.5,453 539.1,454.5 539.7,453.9 540.3,454 540.9,454.1 541.5,454.2 542.1,454.4 542.7,453.4 543.3,454.8 543.9,454.6 544.5,454.1 545.1,454.5 545.7,455.6 546.3,454.8 546.9,454.4 547.5,455.4 548.1,454.2 548.7,454.6 549.3,454.6 549.9,455 550.5,455.7 551.1,455.8 551.7,455.2 552.3,455.5 552.9,455.6 553.5,455.4 554.1,455.6 554.7,455.3 555.3,455.5 555.9,456.2 556.5,456.1 557.1,457.2 557.7,457.3 558.3,457.2 558.9,457.3 559.5,457.4 560.1,457.5 560.7,457.7 561.3,457.5 561.9,457.2 562.5,458.3 563.1,458 563.7,457.7 564.3,458.1 564.9,456.7 565.5,454.9 566.1,453.6 566.7,453.7 567.3,452.9 567.9,452.9 568.5,452.2 569.1,452.6 569.7,453.4 570.3,453.3 570.9,454.5 571.5,455.4 572.1,455.9 572.7,457.2 573.3,456.9 573.9,457.2 574.5,456.9 575.1,458.6 575.7,457.7 576.3,457.8 576.9,458.6 577.5,457.9 578.1,458.3 578.7,458 579.3,458.3 579.9,458.1 580.5,458.6 581.1,458.3 581.7,458 582.3,458.2 582.9,458.3 583.5,458.1 584.1,458.7 584.7,458.6 585.3,458.4 585.9,457.8 586.5,458.6 587.1,457.5 587.7,457.8 588.3,457.5 588.9,456.9 589.5,456.5 590.1,456.2 590.7,457.2 591.3,455.8 591.9,455.6 592.5,455.8 593.1,455.3 593.7,455.5 594.3,454.3 594.9,454.2 595.5,456.1 596.1,454.5 596.7,454.2 597.3,454.3 597.9,454.6 598.5,453.4 599.1,454 599.7,453.8 600.3,454.1 600.9,453.9 601.5,453.6 602.1,453.4 602.7,452.7 603.3,454.3 603.9,453.1 604.5,453.6 605.1,454.6 605.7,453.6 606.3,454.1 606.9,453.7 607.5,454.1 608.1,453.8 608.7,453.6 609.3,454.4 609.9,453.7 610.5,453.2 611.1,453.7 611.7,454.1 612.3,453.3 612.9,454.2 613.5,454.2 614.1,454.8 614.7,453.5 615.3,454.1 615.9,453 616.5,453.6 617.1,453.9 617.7,454 618.3,453.8 618.7,453.8" fill="none" stroke="#111" stroke-width="1.15" stroke-linejoin="round" />
<rect x="111.5" y="430.8" width="45.25" height="42.15" fill="rgb(88,70,52)" fill-opacity="0.8"/>
<rect x="277.2" y="430.8" width="5.9" height="42.15" fill="rgb(88,70,52)" fill-opacity="0.8"/>
<rect x="396.15" y="430.8" width="0.9" height="42.15" fill="rgb(88,70,52)" fill-opacity="0.5"/>
<rect x="438.4" y="430.8" width="2.3" height="42.15" fill="rgb(88,70,52)" fill-opacity="0.8"/>
<rect x="442.2" y="430.8" width="4.1" height="42.15" fill="rgb(88,70,52)" fill-opacity="0.8"/>
<rect x="498" y="430.8" width="33.6" height="42.15" fill="rgb(88,70,52)" fill-opacity="0.8"/>
<rect x="536.1" y="430.8" width="7" height="42.15" fill="rgb(88,70,52)" fill-opacity="0.8"/>
<rect x="544.5" y="430.8" width="1.55" height="42.15" fill="rgb(88,70,52)" fill-opacity="0.8"/>
<rect x="553.9" y="430.8" width="2.9" height="42.15" fill="rgb(88,70,52)" fill-opacity="0.8"/>
<rect x="565.9" y="430.8" width="4" height="42.15" fill="rgb(88,70,52)" fill-opacity="0.8"/>
<rect x="151" y="430.8" width="5" height="42.15" fill="#d42318" />
<rect x="317.7" y="430.8" width="8.4" height="42.15" fill="#d42318" />
<rect x="493.55" y="430.8" width="4.7" height="42.15" fill="#d42318" />
<rect x="531.25" y="430.8" width="4.85" height="42.15" fill="#d42318" />
<rect x="618.6" y="430.8" width="4.5" height="42.15" fill="#d42318" />
<line x1="111.15" y1="430.5" x2="111.15" y2="473.25" stroke="#111" stroke-width="1.5" />
<line x1="108" y1="472.65" x2="111.15" y2="472.65" stroke="#111" stroke-width="1.05" />
<line x1="108" y1="468.5" x2="111.15" y2="468.5" stroke="#111" stroke-width="1.05" />
<line x1="108" y1="464.34" x2="111.15" y2="464.34" stroke="#111" stroke-width="1.05" />
<line x1="108" y1="460.19" x2="111.15" y2="460.19" stroke="#111" stroke-width="1.05" />
<line x1="108" y1="456.03" x2="111.15" y2="456.03" stroke="#111" stroke-width="1.05" />
<line x1="108" y1="451.88" x2="111.15" y2="451.88" stroke="#111" stroke-width="1.05" />
<line x1="108" y1="447.72" x2="111.15" y2="447.72" stroke="#111" stroke-width="1.05" />
<line x1="108" y1="443.56" x2="111.15" y2="443.56" stroke="#111" stroke-width="1.05" />
<line x1="108" y1="439.41" x2="111.15" y2="439.41" stroke="#111" stroke-width="1.05" />
<line x1="108" y1="435.25" x2="111.15" y2="435.25" stroke="#111" stroke-width="1.05" />
<line x1="108" y1="431.1" x2="111.15" y2="431.1" stroke="#111" stroke-width="1.05" />
<line x1="104.9" y1="431.1" x2="111.15" y2="431.1" stroke="#111" stroke-width="1.2" />
<line x1="104.9" y1="451.88" x2="111.15" y2="451.88" stroke="#111" stroke-width="1.2" />
<line x1="104.9" y1="472.65" x2="111.15" y2="472.65" stroke="#111" stroke-width="1.2" />
<line x1="631.55" y1="430.5" x2="631.55" y2="473.25" stroke="#111" stroke-width="1.5" />
<line x1="628.2" y1="472.65" x2="634.3" y2="472.65" stroke="#111" stroke-width="1.0" />
<line x1="628.2" y1="468.5" x2="634.3" y2="468.5" stroke="#111" stroke-width="1.0" />
<line x1="628.2" y1="464.34" x2="634.3" y2="464.34" stroke="#111" stroke-width="1.0" />
<line x1="628.2" y1="460.19" x2="634.3" y2="460.19" stroke="#111" stroke-width="1.0" />
<line x1="628.2" y1="456.03" x2="634.3" y2="456.03" stroke="#111" stroke-width="1.0" />
<line x1="628.2" y1="451.88" x2="634.3" y2="451.88" stroke="#111" stroke-width="1.0" />
<line x1="628.2" y1="447.72" x2="634.3" y2="447.72" stroke="#111" stroke-width="1.0" />
<line x1="628.2" y1="443.56" x2="634.3" y2="443.56" stroke="#111" stroke-width="1.0" />
<line x1="628.2" y1="439.41" x2="634.3" y2="439.41" stroke="#111" stroke-width="1.0" />
<line x1="628.2" y1="435.25" x2="634.3" y2="435.25" stroke="#111" stroke-width="1.0" />
<line x1="628.2" y1="431.1" x2="634.3" y2="431.1" stroke="#111" stroke-width="1.0" />
<line x1="625.1" y1="431.1" x2="637" y2="431.1" stroke="#111" stroke-width="1.2" />
<line x1="625.1" y1="451.88" x2="637" y2="451.88" stroke="#111" stroke-width="1.2" />
<line x1="625.1" y1="472.65" x2="637" y2="472.65" stroke="#111" stroke-width="1.2" />
<text x="100.4" y="434.75" font-size="11.5" font-weight="normal" text-anchor="end" >100</text>
<text x="100.4" y="455.52" font-size="11.5" font-weight="normal" text-anchor="end" >50</text>
<text x="100.4" y="476.3" font-size="11.5" font-weight="normal" text-anchor="end" >0</text>
<line x1="110.3" y1="475.1" x2="631.8" y2="475.1" stroke="#111" stroke-width="1.2" />
<line x1="120.22" y1="475.1" x2="120.22" y2="478.1" stroke="#111" stroke-width="1.1" />
<line x1="134.41" y1="475.1" x2="134.41" y2="478.1" stroke="#111" stroke-width="1.1" />
<line x1="148.6" y1="475.1" x2="148.6" y2="481.3" stroke="#111" stroke-width="1.1" />
<line x1="162.79" y1="475.1" x2="162.79" y2="478.1" stroke="#111" stroke-width="1.1" />
<line x1="176.98" y1="475.1" x2="176.98" y2="478.1" stroke="#111" stroke-width="1.1" />
<line x1="191.17" y1="475.1" x2="191.17" y2="478.1" stroke="#111" stroke-width="1.1" />
<line x1="205.36" y1="475.1" x2="205.36" y2="481.3" stroke="#111" stroke-width="1.1" />
<line x1="219.55" y1="475.1" x2="219.55" y2="478.1" stroke="#111" stroke-width="1.1" />
<line x1="233.74" y1="475.1" x2="233.74" y2="478.1" stroke="#111" stroke-width="1.1" />
<line x1="247.93" y1="475.1" x2="247.93" y2="478.1" stroke="#111" stroke-width="1.1" />
<line x1="262.12" y1="475.1" x2="262.12" y2="481.3" stroke="#111" stroke-width="1.1" />
<line x1="276.31" y1="475.1" x2="276.31" y2="478.1" stroke="#111" stroke-width="1.1" />
<line x1="290.5" y1="475.1" x2="290.5" y2="478.1" stroke="#111" stroke-width="1.1" />
<line x1="304.69" y1="475.1" x2="304.69" y2="478.1" stroke="#111" stroke-width="1.1" />
<line x1="318.88" y1="475.1" x2="318.88" y2="481.3" stroke="#111" stroke-width="1.1" />
<line x1="333.07" y1="475.1" x2="333.07" y2="478.1" stroke="#111" stroke-width="1.1" />
<line x1="347.26" y1="475.1" x2="347.26" y2="478.1" stroke="#111" stroke-width="1.1" />
<line x1="361.45" y1="475.1" x2="361.45" y2="478.1" stroke="#111" stroke-width="1.1" />
<line x1="375.64" y1="475.1" x2="375.64" y2="481.3" stroke="#111" stroke-width="1.1" />
<line x1="389.83" y1="475.1" x2="389.83" y2="478.1" stroke="#111" stroke-width="1.1" />
<line x1="404.02" y1="475.1" x2="404.02" y2="478.1" stroke="#111" stroke-width="1.1" />
<line x1="418.21" y1="475.1" x2="418.21" y2="478.1" stroke="#111" stroke-width="1.1" />
<line x1="432.4" y1="475.1" x2="432.4" y2="481.3" stroke="#111" stroke-width="1.1" />
<line x1="446.59" y1="475.1" x2="446.59" y2="478.1" stroke="#111" stroke-width="1.1" />
<line x1="460.78" y1="475.1" x2="460.78" y2="478.1" stroke="#111" stroke-width="1.1" />
<line x1="474.97" y1="475.1" x2="474.97" y2="478.1" stroke="#111" stroke-width="1.1" />
<line x1="489.16" y1="475.1" x2="489.16" y2="481.3" stroke="#111" stroke-width="1.1" />
<line x1="503.35" y1="475.1" x2="503.35" y2="478.1" stroke="#111" stroke-width="1.1" />
<line x1="517.54" y1="475.1" x2="517.54" y2="478.1" stroke="#111" stroke-width="1.1" />
<line x1="531.73" y1="475.1" x2="531.73" y2="478.1" stroke="#111" stroke-width="1.1" />
<line x1="545.92" y1="475.1" x2="545.92" y2="481.3" stroke="#111" stroke-width="1.1" />
<line x1="560.11" y1="475.1" x2="560.11" y2="478.1" stroke="#111" stroke-width="1.1" />
<line x1="574.3" y1="475.1" x2="574.3" y2="478.1" stroke="#111" stroke-width="1.1" />
<line x1="588.49" y1="475.1" x2="588.49" y2="478.1" stroke="#111" stroke-width="1.1" />
<line x1="602.68" y1="475.1" x2="602.68" y2="481.3" stroke="#111" stroke-width="1.1" />
<line x1="616.87" y1="475.1" x2="616.87" y2="478.1" stroke="#111" stroke-width="1.1" />
<line x1="631.06" y1="475.1" x2="631.06" y2="478.1" stroke="#111" stroke-width="1.1" />
<text x="22.4" y="447.6" font-size="13" font-weight="bold" text-anchor="start" >BP<tspan font-size="9" dy="4.2">Estimate</tspan></text>
<text x="640.7" y="440.8" font-size="11.9" font-weight="normal" text-anchor="start" >(mmHg)</text>
<rect x="111.5" y="493.2" width="512.8" height="42.55" fill="#f9f9f6" />
<line x1="111.5" y1="493.7" x2="624.3" y2="493.7" stroke="#e2e2de" stroke-width="0.8" />
<line x1="111.5" y1="503.89" x2="624.3" y2="503.89" stroke="#cfcfcb" stroke-width="0.8" />
<line x1="111.5" y1="514.27" x2="624.3" y2="514.27" stroke="#cfcfcb" stroke-width="0.8" />
<line x1="111.5" y1="524.66" x2="624.3" y2="524.66" stroke="#cfcfcb" stroke-width="0.8" />
<defs><polygon id="s33" points="112,535 112,510.3 112.5,510.2 113,510.9 113.5,510.9 114,510.7 114.5,510.8 115,510.8 115.5,506 116,507.3 116.5,507.4 117,506.2 117.5,508.2 118,507.3 118.5,505.6 119,505.5 119.5,506.6 120,504.4 120.5,505.5 121,508.3 121.5,508.7 122,511.1 122.5,509.5 123,510 123.5,508.1 124,507.4 124.5,508.7 125,504.8 125.5,509.2 126,509.9 126.5,508.8 127,508.5 127.5,510.5 128,509 128.5,510.6 129,512.5 129.5,510.5 130,511 130.5,510.5 131,510.3 131.5,510.4 132,510.6 132.5,512.5 133,509 133.5,511.4 134,513.1 134.5,511.4 135,512.9 135.5,512.5 136,514.5 136.5,515.5 137,516.8 137.5,515.8 138,514.5 138.5,515.9 139,516.4 139.5,517.7 140,512.6 140.5,516.3 141,513.2 141.5,516.9 142,516.5 142.5,516.6 143,517.2 143.5,516.6 144,515.1 144.5,516.6 145,517.8 145.5,516 146,516.2 146.5,514.5 147,518 147.5,515.6 148,515.3 148.5,515.8 149,515.2 149.5,516.1 150,518.4 150.5,517.4 151,518.1 151.1,518.2 151.1,535"/></defs>
<use href="#s33" fill="url(#tan)"/>
<use href="#s33" fill="url(#hatch)"/>
<polyline points="112,510.3 112.5,510.2 113,510.9 113.5,510.9 114,510.7 114.5,510.8 115,510.8 115.5,506 116,507.3 116.5,507.4 117,506.2 117.5,508.2 118,507.3 118.5,505.6 119,505.5 119.5,506.6 120,504.4 120.5,505.5 121,508.3 121.5,508.7 122,511.1 122.5,509.5 123,510 123.5,508.1 124,507.4 124.5,508.7 125,504.8 125.5,509.2 126,509.9 126.5,508.8 127,508.5 127.5,510.5 128,509 128.5,510.6 129,512.5 129.5,510.5 130,511 130.5,510.5 131,510.3 131.5,510.4 132,510.6 132.5,512.5 133,509 133.5,511.4 134,513.1 134.5,511.4 135,512.9 135.5,512.5 136,514.5 136.5,515.5 137,516.8 137.5,515.8 138,514.5 138.5,515.9 139,516.4 139.5,517.7 140,512.6 140.5,516.3 141,513.2 141.5,516.9 142,516.5 142.5,516.6 143,517.2 143.5,516.6 144,515.1 144.5,516.6 145,517.8 145.5,516 146,516.2 146.5,514.5 147,518 147.5,515.6 148,515.3 148.5,515.8 149,515.2 149.5,516.1 150,518.4 150.5,517.4 151,518.1 151.1,518.2" fill="none" stroke="#111" stroke-width="1.05" stroke-linejoin="round" />
<defs><polygon id="s34" points="156.6,535 156.6,516.2 157.1,517.5 157.6,518.6 158.1,519.6 158.6,518 159.1,518.3 159.6,519.4 160.1,519.3 160.6,519.2 161.1,520.1 161.6,519.8 162.1,519.2 162.6,520.3 163.1,520.5 163.6,520.8 164.1,521 164.6,520.7 165.1,520.6 165.6,520.5 166.1,520.2 166.6,520.8 167.1,521.4 167.6,521.3 168.1,522 168.6,521.2 169.1,520.5 169.6,521.5 170.1,521.6 170.6,520.8 171.1,520.6 171.6,521.3 172.1,521.5 172.6,520.8 173.1,521.7 173.6,522.2 174.1,521.4 174.6,520.8 175.1,521.3 175.6,521.1 176.1,521 176.6,520.3 177.1,521.9 177.6,520.9 178.1,521.2 178.6,520.8 179.1,521.4 179.6,520.7 180.1,521.3 180.6,521.2 181.1,521.7 181.6,520.9 182.1,521.1 182.6,521.3 183.1,522.4 183.6,523 184.1,521.8 184.6,520.8 185.1,521.1 185.6,521.1 186.1,520.7 186.6,520.6 187.1,520.4 187.6,519.9 188.1,519.9 188.6,519 189.1,519.5 189.6,519.2 190.1,519.3 190.6,519.7 191.1,519.4 191.6,519.3 192.1,519.5 192.6,517.4 193.1,518.9 193.6,518.5 194.1,518.5 194.6,517.8 195.1,518.9 195.6,519.2 196.1,519.2 196.6,518.5 197.1,519 197.6,519.3 198.1,519.9 198.6,519.7 199.1,519.3 199.6,519.4 200.1,519.5 200.6,519.7 201.1,519.5 201.6,520.2 202.1,519.7 202.6,519.8 203.1,520.4 203.6,520.2 204.1,520.4 204.6,519.9 205.1,521.1 205.6,520.9 206.1,520.9 206.6,521.1 207.1,521 207.6,520.7 208.1,521.7 208.6,520.8 209.1,521.3 209.6,521.6 210.1,520.7 210.6,521 211.1,520.6 211.6,521.4 212.1,520.8 212.6,520.5 213.1,521.5 213.6,521.3 214.1,520.6 214.6,521.4 215.1,521.1 215.6,522 216.1,521.6 216.6,520.8 217.1,520.9 217.6,520.7 218.1,521.1 218.6,521 219.1,521.3 219.6,521 220.1,520.5 220.6,520.7 221.1,521.6 221.6,521.5 222.1,521 222.6,521 223.1,521 223.6,521.1 224.1,520.4 224.6,521.4 225.1,520.8 225.6,521.1 226.1,520.1 226.6,521.2 227.1,521.6 227.6,520.2 228.1,521.7 228.6,521.3 229.1,520.8 229.6,520.5 230.1,521.5 230.6,521.2 231.1,521.3 231.6,521 232.1,520.8 232.6,521.5 233.1,520.8 233.6,521.5 234.1,520.5 234.6,520.8 235.1,520.6 235.6,521.6 236.1,520.5 236.6,520.7 237.1,521.4 237.6,521.2 238.1,522 238.6,521.9 239.1,521.4 239.6,521.4 240.1,520.5 240.6,520.8 241.1,521.1 241.6,521.1 242.1,520.7 242.6,521.1 243.1,521.6 243.6,522.8 244.1,522.6 244.6,521.9 245.1,521.5 245.6,521.4 246.1,520.6 246.6,520.5 247.1,519.5 247.6,520.4 248.1,520.3 248.6,519.6 249.1,519.5 249.6,519.4 250.1,520.4 250.6,519.3 251.1,518.5 251.6,518.6 252.1,519.7 252.6,519.9 253.1,519.7 253.6,519.7 254.1,519.4 254.6,518.4 255.1,518.9 255.6,518.3 256.1,519.1 256.6,518.5 257.1,519.4 257.6,519.2 258.1,518.2 258.6,519.8 259.1,519.8 259.6,518.6 260.1,519.4 260.6,519.8 261.1,519.2 261.6,519.9 262.1,519.5 262.6,520 263.1,519.7 263.6,519.8 264.1,520.3 264.6,520.6 265.1,520.5 265.6,520.5 266.1,520.5 266.6,520.7 267.1,520.6 267.6,520.9 268.1,520.9 268.6,520.8 269.1,520.8 269.6,520.9 270.1,521.4 270.6,521.3 271.1,520.6 271.6,521 272.1,520.7 272.6,520.8 273.1,520.7 273.6,520.6 274.1,520.3 274.6,519.8 275.1,520.9 275.6,521.2 276.1,520.4 276.6,521 277.1,520.6 277.2,520.9 277.2,535"/></defs>
<use href="#s34" fill="url(#tan)"/>
<use href="#s34" fill="url(#hatch)"/>
<polyline points="156.6,516.2 157.1,517.5 157.6,518.6 158.1,519.6 158.6,518 159.1,518.3 159.6,519.4 160.1,519.3 160.6,519.2 161.1,520.1 161.6,519.8 162.1,519.2 162.6,520.3 163.1,520.5 163.6,520.8 164.1,521 164.6,520.7 165.1,520.6 165.6,520.5 166.1,520.2 166.6,520.8 167.1,521.4 167.6,521.3 168.1,522 168.6,521.2 169.1,520.5 169.6,521.5 170.1,521.6 170.6,520.8 171.1,520.6 171.6,521.3 172.1,521.5 172.6,520.8 173.1,521.7 173.6,522.2 174.1,521.4 174.6,520.8 175.1,521.3 175.6,521.1 176.1,521 176.6,520.3 177.1,521.9 177.6,520.9 178.1,521.2 178.6,520.8 179.1,521.4 179.6,520.7 180.1,521.3 180.6,521.2 181.1,521.7 181.6,520.9 182.1,521.1 182.6,521.3 183.1,522.4 183.6,523 184.1,521.8 184.6,520.8 185.1,521.1 185.6,521.1 186.1,520.7 186.6,520.6 187.1,520.4 187.6,519.9 188.1,519.9 188.6,519 189.1,519.5 189.6,519.2 190.1,519.3 190.6,519.7 191.1,519.4 191.6,519.3 192.1,519.5 192.6,517.4 193.1,518.9 193.6,518.5 194.1,518.5 194.6,517.8 195.1,518.9 195.6,519.2 196.1,519.2 196.6,518.5 197.1,519 197.6,519.3 198.1,519.9 198.6,519.7 199.1,519.3 199.6,519.4 200.1,519.5 200.6,519.7 201.1,519.5 201.6,520.2 202.1,519.7 202.6,519.8 203.1,520.4 203.6,520.2 204.1,520.4 204.6,519.9 205.1,521.1 205.6,520.9 206.1,520.9 206.6,521.1 207.1,521 207.6,520.7 208.1,521.7 208.6,520.8 209.1,521.3 209.6,521.6 210.1,520.7 210.6,521 211.1,520.6 211.6,521.4 212.1,520.8 212.6,520.5 213.1,521.5 213.6,521.3 214.1,520.6 214.6,521.4 215.1,521.1 215.6,522 216.1,521.6 216.6,520.8 217.1,520.9 217.6,520.7 218.1,521.1 218.6,521 219.1,521.3 219.6,521 220.1,520.5 220.6,520.7 221.1,521.6 221.6,521.5 222.1,521 222.6,521 223.1,521 223.6,521.1 224.1,520.4 224.6,521.4 225.1,520.8 225.6,521.1 226.1,520.1 226.6,521.2 227.1,521.6 227.6,520.2 228.1,521.7 228.6,521.3 229.1,520.8 229.6,520.5 230.1,521.5 230.6,521.2 231.1,521.3 231.6,521 232.1,520.8 232.6,521.5 233.1,520.8 233.6,521.5 234.1,520.5 234.6,520.8 235.1,520.6 235.6,521.6 236.1,520.5 236.6,520.7 237.1,521.4 237.6,521.2 238.1,522 238.6,521.9 239.1,521.4 239.6,521.4 240.1,520.5 240.6,520.8 241.1,521.1 241.6,521.1 242.1,520.7 242.6,521.1 243.1,521.6 243.6,522.8 244.1,522.6 244.6,521.9 245.1,521.5 245.6,521.4 246.1,520.6 246.6,520.5 247.1,519.5 247.6,520.4 248.1,520.3 248.6,519.6 249.1,519.5 249.6,519.4 250.1,520.4 250.6,519.3 251.1,518.5 251.6,518.6 252.1,519.7 252.6,519.9 253.1,519.7 253.6,519.7 254.1,519.4 254.6,518.4 255.1,518.9 255.6,518.3 256.1,519.1 256.6,518.5 257.1,519.4 257.6,519.2 258.1,518.2 258.6,519.8 259.1,519.8 259.6,518.6 260.1,519.4 260.6,519.8 261.1,519.2 261.6,519.9 262.1,519.5 262.6,520 263.1,519.7 263.6,519.8 264.1,520.3 264.6,520.6 265.1,520.5 265.6,520.5 266.1,520.5 266.6,520.7 267.1,520.6 267.6,520.9 268.1,520.9 268.6,520.8 269.1,520.8 269.6,520.9 270.1,521.4 270.6,521.3 271.1,520.6 271.6,521 272.1,520.7 272.6,520.8 273.1,520.7 273.6,520.6 274.1,520.3 274.6,519.8 275.1,520.9 275.6,521.2 276.1,520.4 276.6,521 277.1,520.6 277.2,520.9" fill="none" stroke="#111" stroke-width="1.05" stroke-linejoin="round" />
<defs><polygon id="s35" points="277.2,535 277.2,519.7 277.7,517.9 278.2,515.6 278.7,514 279.2,514 279.7,513.7 280.2,512.9 280.7,513.4 281.2,513.7 281.7,513.6 282.2,515.5 282.7,516.1 283,515.7 283,535"/></defs>
<use href="#s35" fill="url(#tan)"/>
<use href="#s35" fill="url(#hatch)"/>
<polyline points="277.2,519.7 277.7,517.9 278.2,515.6 278.7,514 279.2,514 279.7,513.7 280.2,512.9 280.7,513.4 281.2,513.7 281.7,513.6 282.2,515.5 282.7,516.1 283,515.7" fill="none" stroke="#111" stroke-width="1.05" stroke-linejoin="round" />
<defs><polygon id="s36" points="283,535 283,516.9 283.5,516.6 284,516.8 284.5,518.1 285,516.6 285.5,517.7 286,519.5 286.5,519.7 287,520 287.5,521.7 288,521.7 288.5,521.3 289,522 289.5,522.9 290,523.1 290.5,521 291,521.9 291.5,521.3 292,520.4 292.5,520.9 293,520.1 293.5,520.7 294,521.7 294.5,521.2 295,521.3 295.5,521.2 296,521.1 296.5,521.4 297,520.3 297.5,520.7 298,521.3 298.5,520.6 299,520.7 299.5,521.5 300,521.7 300.5,520.6 301,520.5 301.5,521.2 302,521 302.5,520.6 303,521.2 303.5,521.2 304,521 304.5,522.4 305,521.6 305.5,521.3 306,521.4 306.5,522.4 307,521.5 307.5,520.6 308,521.1 308.5,521 309,520.6 309.5,521 310,521 310.5,520.9 311,520.7 311.5,521.3 312,520.1 312.5,521.3 313,520.9 313.5,521.1 314,519.8 314.5,521.7 315,520.1 315.5,520.5 316,521.2 316.5,520.7 317,520.8 317.5,519.9 317.6,520.8 317.6,535"/></defs>
<use href="#s36" fill="url(#tan)"/>
<use href="#s36" fill="url(#hatch)"/>
<polyline points="283,516.9 283.5,516.6 284,516.8 284.5,518.1 285,516.6 285.5,517.7 286,519.5 286.5,519.7 287,520 287.5,521.7 288,521.7 288.5,521.3 289,522 289.5,522.9 290,523.1 290.5,521 291,521.9 291.5,521.3 292,520.4 292.5,520.9 293,520.1 293.5,520.7 294,521.7 294.5,521.2 295,521.3 295.5,521.2 296,521.1 296.5,521.4 297,520.3 297.5,520.7 298,521.3 298.5,520.6 299,520.7 299.5,521.5 300,521.7 300.5,520.6 301,520.5 301.5,521.2 302,521 302.5,520.6 303,521.2 303.5,521.2 304,521 304.5,522.4 305,521.6 305.5,521.3 306,521.4 306.5,522.4 307,521.5 307.5,520.6 308,521.1 308.5,521 309,520.6 309.5,521 310,521 310.5,520.9 311,520.7 311.5,521.3 312,520.1 312.5,521.3 313,520.9 313.5,521.1 314,519.8 314.5,521.7 315,520.1 315.5,520.5 316,521.2 316.5,520.7 317,520.8 317.5,519.9 317.6,520.8" fill="none" stroke="#111" stroke-width="1.05" stroke-linejoin="round" />
<defs><polygon id="s37" points="326.2,535 326.2,519.3 326.7,519.4 327.2,518.8 327.7,519 328.2,519 328.7,518.3 329.2,518.1 329.7,519.4 330.2,517.9 330.7,518.8 331.2,518.1 331.7,518.6 332.2,517.5 332.7,517.9 333.2,517.8 333.7,517.5 334.2,518.4 334.7,518.7 335.2,518.2 335.7,517.4 336.2,517.9 336.7,517.5 337.2,516.9 337.7,517.4 338.2,517.5 338.7,517.1 339.2,518.2 339.7,517.7 340.2,517.9 340.7,517.1 341.2,517.3 341.7,518 342.2,516.8 342.7,517.7 343.2,517.5 343.7,517.2 344.2,517.5 344.7,516.9 345.2,517.5 345.7,516.8 346.2,516.9 346.7,518.4 347.2,517.5 347.7,517 348.2,518.7 348.7,518 349.2,516.9 349.7,518.8 350.2,519.4 350.7,519.3 351.2,520.2 351.7,519.5 352.2,519.9 352.7,519.2 353.2,519.9 353.7,520.6 354.2,520.2 354.7,520.1 355.2,519.4 355.7,520.1 356.2,519.8 356.7,520.6 357.2,520 357.7,520.5 358.2,519.9 358.7,521.1 359.2,519.9 359.7,520.4 360.2,521.4 360.7,520.4 361.2,520 361.7,520.6 362.2,520.7 362.7,520.7 363.2,519.6 363.7,520.4 364.2,519.5 364.7,521.1 365.2,520.4 365.7,520.2 366.2,520.6 366.7,520.6 367.2,519.9 367.7,521 368.2,520.3 368.7,519.7 369.2,520.9 369.7,521 370.2,520.9 370.7,520.6 371.2,520 371.7,520.8 372.2,521.1 372.7,520.7 373.2,521 373.7,520.1 374.2,520.8 374.7,520.8 375.2,519.8 375.7,519.8 376.2,520.1 376.7,520.4 377.2,520.6 377.7,520.3 378.2,520.4 378.7,520.4 379.2,520.1 379.7,519.9 380.2,519.5 380.7,518.8 381.2,518.8 381.7,518.4 382.2,519 382.7,518.4 383.2,519.4 383.7,518.6 384.2,518.7 384.7,518.2 385.2,518.4 385.7,518.7 386.2,518.6 386.7,518.3 387.2,518 387.7,518.6 388.2,518.7 388.7,518.8 389.2,519.2 389.7,518.4 390.2,517.6 390.7,518.5 391.2,517.6 391.7,517.9 392.2,519.1 392.7,518.8 393.2,518.2 393.7,518.2 394.2,518.5 394.7,517.7 395.2,517.9 395.7,516.7 396.2,516.5 396.7,513.7 397.2,513.8 397.7,515.9 398.2,517.7 398.7,518.3 399.2,519.4 399.7,519 400.2,519.5 400.7,520.4 401.2,520.6 401.7,520.6 402.2,521.1 402.7,520.8 403.2,519.4 403.7,520.3 404.2,519.7 404.7,520.3 405.2,520.7 405.7,520 406.2,520 406.7,520.6 407.2,520.4 407.7,521.2 408.2,520.7 408.7,520.7 409.2,521.2 409.7,520.3 410.2,520.5 410.7,520.2 411.2,520.7 411.7,521 412.2,521.1 412.7,520.6 413.2,520.3 413.7,520.3 414.2,520 414.7,520.7 415.2,521.2 415.7,519.7 416.2,519.8 416.7,521.2 417.2,520 417.7,520.8 418.2,520.1 418.7,521 419.2,521 419.7,520.7 420.2,521 420.7,520.7 421.2,520.9 421.7,521.4 422.2,521.1 422.7,520.4 423.2,520.4 423.7,520.6 424.2,520.6 424.7,520.8 425.2,520.5 425.7,521 426.2,520.8 426.7,520.9 427.2,520.8 427.7,521 428.2,520.3 428.7,521.4 429.2,520.9 429.7,521 430.2,521 430.7,521.2 431.2,521.1 431.7,520.9 432.2,520.7 432.7,519.6 433.2,519.4 433.7,519.4 434.2,519.6 434.7,520.3 435.2,517.9 435.7,518.3 436.2,518.2 436.7,517 437.2,516.1 437.7,513.6 438.2,512.6 438.7,512.8 439.2,511.8 439.7,512.7 440.2,511.4 440.7,511 441.2,511.1 441.7,511.1 442.2,511.7 442.7,511.7 443.2,512.5 443.7,512.7 444.2,513.5 444.7,513.4 445.2,514.5 445.7,516.8 446.2,517.8 446.7,518.4 447.2,518.8 447.7,518.5 448.2,520.1 448.7,518.5 449.2,520.8 449.7,520.6 450.2,520.4 450.7,519.6 451.2,519.6 451.7,520.3 452.2,520.3 452.7,519.8 453.2,519.6 453.7,520.8 454.2,520.5 454.7,520 455.2,519.8 455.7,520.1 456.2,520 456.7,520.4 457.2,519.5 457.7,519.9 458.2,519.6 458.7,520.5 459.2,520.7 459.7,519.9 460.2,520.2 460.7,520.5 461.2,519.8 461.7,519.6 462.2,520.4 462.7,520.1 463.2,519.9 463.7,520.5 464.2,520 464.7,519.2 465.2,520.5 465.7,520.7 466.2,521.1 466.7,519.9 467.2,519.9 467.7,520.1 468.2,520 468.7,519.4 469.2,520 469.7,519.8 470.2,520.5 470.7,520.9 471.2,519.5 471.7,519.6 472.2,519.6 472.7,519.7 473.2,519.7 473.7,520 474.2,520.2 474.7,518.9 475.2,518.6 475.7,518.2 476.2,519.3 476.7,519.2 477.2,517.4 477.7,516.9 478.2,517.5 478.7,518 479.2,518.2 479.7,518.1 480.2,518.7 480.7,518.8 481.2,518.6 481.7,519.8 482.2,519.3 482.7,519.4 483.2,519.1 483.7,518.2 484.2,519 484.7,519.5 485.2,518.3 485.7,519.6 486.2,520.1 486.7,519.2 487.2,518.5 487.7,518.6 488.2,518.9 488.7,518.4 489.2,518.5 489.7,519 490.2,519 490.7,519.5 491.2,518.6 491.7,520.1 492.2,519.7 492.7,519.7 493.2,518.9 493.7,520.1 493.7,535"/></defs>
<use href="#s37" fill="url(#tan)"/>
<use href="#s37" fill="url(#hatch)"/>
<polyline points="326.2,519.3 326.7,519.4 327.2,518.8 327.7,519 328.2,519 328.7,518.3 329.2,518.1 329.7,519.4 330.2,517.9 330.7,518.8 331.2,518.1 331.7,518.6 332.2,517.5 332.7,517.9 333.2,517.8 333.7,517.5 334.2,518.4 334.7,518.7 335.2,518.2 335.7,517.4 336.2,517.9 336.7,517.5 337.2,516.9 337.7,517.4 338.2,517.5 338.7,517.1 339.2,518.2 339.7,517.7 340.2,517.9 340.7,517.1 341.2,517.3 341.7,518 342.2,516.8 342.7,517.7 343.2,517.5 343.7,517.2 344.2,517.5 344.7,516.9 345.2,517.5 345.7,516.8 346.2,516.9 346.7,518.4 347.2,517.5 347.7,517 348.2,518.7 348.7,518 349.2,516.9 349.7,518.8 350.2,519.4 350.7,519.3 351.2,520.2 351.7,519.5 352.2,519.9 352.7,519.2 353.2,519.9 353.7,520.6 354.2,520.2 354.7,520.1 355.2,519.4 355.7,520.1 356.2,519.8 356.7,520.6 357.2,520 357.7,520.5 358.2,519.9 358.7,521.1 359.2,519.9 359.7,520.4 360.2,521.4 360.7,520.4 361.2,520 361.7,520.6 362.2,520.7 362.7,520.7 363.2,519.6 363.7,520.4 364.2,519.5 364.7,521.1 365.2,520.4 365.7,520.2 366.2,520.6 366.7,520.6 367.2,519.9 367.7,521 368.2,520.3 368.7,519.7 369.2,520.9 369.7,521 370.2,520.9 370.7,520.6 371.2,520 371.7,520.8 372.2,521.1 372.7,520.7 373.2,521 373.7,520.1 374.2,520.8 374.7,520.8 375.2,519.8 375.7,519.8 376.2,520.1 376.7,520.4 377.2,520.6 377.7,520.3 378.2,520.4 378.7,520.4 379.2,520.1 379.7,519.9 380.2,519.5 380.7,518.8 381.2,518.8 381.7,518.4 382.2,519 382.7,518.4 383.2,519.4 383.7,518.6 384.2,518.7 384.7,518.2 385.2,518.4 385.7,518.7 386.2,518.6 386.7,518.3 387.2,518 387.7,518.6 388.2,518.7 388.7,518.8 389.2,519.2 389.7,518.4 390.2,517.6 390.7,518.5 391.2,517.6 391.7,517.9 392.2,519.1 392.7,518.8 393.2,518.2 393.7,518.2 394.2,518.5 394.7,517.7 395.2,517.9 395.7,516.7 396.2,516.5 396.7,513.7 397.2,513.8 397.7,515.9 398.2,517.7 398.7,518.3 399.2,519.4 399.7,519 400.2,519.5 400.7,520.4 401.2,520.6 401.7,520.6 402.2,521.1 402.7,520.8 403.2,519.4 403.7,520.3 404.2,519.7 404.7,520.3 405.2,520.7 405.7,520 406.2,520 406.7,520.6 407.2,520.4 407.7,521.2 408.2,520.7 408.7,520.7 409.2,521.2 409.7,520.3 410.2,520.5 410.7,520.2 411.2,520.7 411.7,521 412.2,521.1 412.7,520.6 413.2,520.3 413.7,520.3 414.2,520 414.7,520.7 415.2,521.2 415.7,519.7 416.2,519.8 416.7,521.2 417.2,520 417.7,520.8 418.2,520.1 418.7,521 419.2,521 419.7,520.7 420.2,521 420.7,520.7 421.2,520.9 421.7,521.4 422.2,521.1 422.7,520.4 423.2,520.4 423.7,520.6 424.2,520.6 424.7,520.8 425.2,520.5 425.7,521 426.2,520.8 426.7,520.9 427.2,520.8 427.7,521 428.2,520.3 428.7,521.4 429.2,520.9 429.7,521 430.2,521 430.7,521.2 431.2,521.1 431.7,520.9 432.2,520.7 432.7,519.6 433.2,519.4 433.7,519.4 434.2,519.6 434.7,520.3 435.2,517.9 435.7,518.3 436.2,518.2 436.7,517 437.2,516.1 437.7,513.6 438.2,512.6 438.7,512.8 439.2,511.8 439.7,512.7 440.2,511.4 440.7,511 441.2,511.1 441.7,511.1 442.2,511.7 442.7,511.7 443.2,512.5 443.7,512.7 444.2,513.5 444.7,513.4 445.2,514.5 445.7,516.8 446.2,517.8 446.7,518.4 447.2,518.8 447.7,518.5 448.2,520.1 448.7,518.5 449.2,520.8 449.7,520.6 450.2,520.4 450.7,519.6 451.2,519.6 451.7,520.3 452.2,520.3 452.7,519.8 453.2,519.6 453.7,520.8 454.2,520.5 454.7,520 455.2,519.8 455.7,520.1 456.2,520 456.7,520.4 457.2,519.5 457.7,519.9 458.2,519.6 458.7,520.5 459.2,520.7 459.7,519.9 460.2,520.2 460.7,520.5 461.2,519.8 461.7,519.6 462.2,520.4 462.7,520.1 463.2,519.9 463.7,520.5 464.2,520 464.7,519.2 465.2,520.5 465.7,520.7 466.2,521.1 466.7,519.9 467.2,519.9 467.7,520.1 468.2,520 468.7,519.4 469.2,520 469.7,519.8 470.2,520.5 470.7,520.9 471.2,519.5 471.7,519.6 472.2,519.6 472.7,519.7 473.2,519.7 473.7,520 474.2,520.2 474.7,518.9 475.2,518.6 475.7,518.2 476.2,519.3 476.7,519.2 477.2,517.4 477.7,516.9 478.2,517.5 478.7,518 479.2,518.2 479.7,518.1 480.2,518.7 480.7,518.8 481.2,518.6 481.7,519.8 482.2,519.3 482.7,519.4 483.2,519.1 483.7,518.2 484.2,519 484.7,519.5 485.2,518.3 485.7,519.6 486.2,520.1 486.7,519.2 487.2,518.5 487.7,518.6 488.2,518.9 488.7,518.4 489.2,518.5 489.7,519 490.2,519 490.7,519.5 491.2,518.6 491.7,520.1 492.2,519.7 492.7,519.7 493.2,518.9 493.7,520.1" fill="none" stroke="#111" stroke-width="1.05" stroke-linejoin="round" />
<defs><polygon id="s38" points="498,535 498,511.8 498.5,511.8 499,509.1 499.5,506.9 500,506.9 500.5,508.5 501,510.3 501.5,509.5 502,509.5 502.5,511.7 503,511.4 503.5,511.7 504,514.1 504.5,511.5 505,513.2 505.5,511.8 506,513.3 506.5,514.2 507,514.8 507.5,512.6 508,514.7 508.5,514.7 509,514 509.5,516.5 510,514.3 510.5,513.5 511,514.8 511.5,512.8 512,516.1 512.5,515.6 513,514.3 513.5,515.3 514,515.2 514.5,516.5 515,514.2 515.5,513.5 516,512.9 516.5,514.5 517,513.3 517.5,514.6 518,515.2 518.5,514.4 519,514 519.5,516 520,514.7 520.5,515.1 521,515.8 521.5,513.7 522,514.1 522.5,517.3 523,514.8 523.5,514 524,514.8 524.5,514.5 525,513.9 525.5,514.7 526,515 526.5,515.1 527,515.6 527.5,513.5 528,513.7 528.5,515.9 529,514.7 529.5,516.3 530,515.5 530.5,513.9 531,515.7 531.5,514.3 531.6,515.5 531.6,535"/></defs>
<use href="#s38" fill="url(#tan)"/>
<use href="#s38" fill="url(#hatch)"/>
<polyline points="498,511.8 498.5,511.8 499,509.1 499.5,506.9 500,506.9 500.5,508.5 501,510.3 501.5,509.5 502,509.5 502.5,511.7 503,511.4 503.5,511.7 504,514.1 504.5,511.5 505,513.2 505.5,511.8 506,513.3 506.5,514.2 507,514.8 507.5,512.6 508,514.7 508.5,514.7 509,514 509.5,516.5 510,514.3 510.5,513.5 511,514.8 511.5,512.8 512,516.1 512.5,515.6 513,514.3 513.5,515.3 514,515.2 514.5,516.5 515,514.2 515.5,513.5 516,512.9 516.5,514.5 517,513.3 517.5,514.6 518,515.2 518.5,514.4 519,514 519.5,516 520,514.7 520.5,515.1 521,515.8 521.5,513.7 522,514.1 522.5,517.3 523,514.8 523.5,514 524,514.8 524.5,514.5 525,513.9 525.5,514.7 526,515 526.5,515.1 527,515.6 527.5,513.5 528,513.7 528.5,515.9 529,514.7 529.5,516.3 530,515.5 530.5,513.9 531,515.7 531.5,514.3 531.6,515.5" fill="none" stroke="#111" stroke-width="1.05" stroke-linejoin="round" />
<defs><polygon id="s39" points="536.1,535 536.1,516.6 536.6,517.4 537.1,515.6 537.6,516.3 538.1,516 538.6,516.5 539.1,513.7 539.6,515.6 540.1,516.2 540.6,516.4 541.1,514.7 541.6,515.2 542.1,516.4 542.6,516.3 543.1,516.1 543.6,516.1 544.1,516.6 544.6,517.5 545.1,517.8 545.6,516.1 546.1,515.7 546.6,515.7 547.1,517.2 547.6,516.5 548.1,516.5 548.6,516.6 549.1,516.5 549.6,516 550.1,515.2 550.6,515.5 551.1,516 551.6,515.6 552.1,514.4 552.6,513.8 553.1,514.5 553.6,512.6 554.1,512.4 554.6,511.3 555.1,510.3 555.6,510.2 556.1,511.8 556.6,512.6 557.1,514.9 557.6,514.2 558.1,515.1 558.6,516.3 559.1,516.1 559.6,516.9 560.1,517.5 560.6,515.9 561.1,517.2 561.6,516.5 562.1,518 562.6,516.6 563.1,516.8 563.6,517.4 564.1,515.7 564.6,515.8 565.1,515.7 565.6,514.8 566.1,515.4 566.6,514.6 567.1,514.3 567.6,513.2 568.1,512.8 568.6,513.6 569.1,514.4 569.6,514.4 570.1,516.6 570.6,517.7 571.1,517.7 571.6,517.9 572.1,518.8 572.6,519.5 573.1,520.1 573.6,521.2 574.1,519.8 574.6,520.5 575.1,520.7 575.6,520.3 576.1,520.2 576.6,519.8 577.1,519.5 577.6,519.5 578.1,520.6 578.6,520 579.1,520.7 579.6,520.7 580.1,521 580.6,520.6 581.1,520.7 581.6,521 582.1,519.9 582.6,520.5 583.1,519.6 583.6,519.5 584.1,520.1 584.6,519.8 585.1,520.9 585.6,521.1 586.1,520.5 586.6,520.6 587.1,520.6 587.6,520.6 588.1,520.8 588.6,520.9 589.1,520.5 589.6,520.4 590.1,520.5 590.6,521.2 591.1,520.6 591.6,521.5 592.1,520.4 592.6,521 593.1,519.5 593.6,519.5 594.1,519.9 594.6,519.7 595.1,519.1 595.6,520.1 596.1,518.9 596.6,519 597.1,518.5 597.6,520.2 598.1,520.3 598.6,519.5 599.1,517.9 599.6,519 600.1,518.5 600.6,519 601.1,519.3 601.6,518.3 602.1,518.9 602.6,519.2 603.1,518.8 603.6,518.6 604.1,518.2 604.6,518.4 605.1,518 605.6,519.3 606.1,518.8 606.6,518 607.1,518.7 607.6,518 608.1,516.9 608.6,519.4 609.1,519.3 609.6,517.9 610.1,518.3 610.6,518.8 611.1,518.5 611.6,518.2 612.1,518.4 612.6,518.5 613.1,518.3 613.6,518.8 614.1,518.5 614.6,518.2 615.1,518.6 615.6,516.9 616.1,517.7 616.6,516.9 617.1,518.7 617.6,519 618.1,519.1 618.6,519.1 618.7,519.7 618.7,535"/></defs>
<use href="#s39" fill="url(#tan)"/>
<use href="#s39" fill="url(#hatch)"/>
<polyline points="536.1,516.6 536.6,517.4 537.1,515.6 537.6,516.3 538.1,516 538.6,516.5 539.1,513.7 539.6,515.6 540.1,516.2 540.6,516.4 541.1,514.7 541.6,515.2 542.1,516.4 542.6,516.3 543.1,516.1 543.6,516.1 544.1,516.6 544.6,517.5 545.1,517.8 545.6,516.1 546.1,515.7 546.6,515.7 547.1,517.2 547.6,516.5 548.1,516.5 548.6,516.6 549.1,516.5 549.6,516 550.1,515.2 550.6,515.5 551.1,516 551.6,515.6 552.1,514.4 552.6,513.8 553.1,514.5 553.6,512.6 554.1,512.4 554.6,511.3 555.1,510.3 555.6,510.2 556.1,511.8 556.6,512.6 557.1,514.9 557.6,514.2 558.1,515.1 558.6,516.3 559.1,516.1 559.6,516.9 560.1,517.5 560.6,515.9 561.1,517.2 561.6,516.5 562.1,518 562.6,516.6 563.1,516.8 563.6,517.4 564.1,515.7 564.6,515.8 565.1,515.7 565.6,514.8 566.1,515.4 566.6,514.6 567.1,514.3 567.6,513.2 568.1,512.8 568.6,513.6 569.1,514.4 569.6,514.4 570.1,516.6 570.6,517.7 571.1,517.7 571.6,517.9 572.1,518.8 572.6,519.5 573.1,520.1 573.6,521.2 574.1,519.8 574.6,520.5 575.1,520.7 575.6,520.3 576.1,520.2 576.6,519.8 577.1,519.5 577.6,519.5 578.1,520.6 578.6,520 579.1,520.7 579.6,520.7 580.1,521 580.6,520.6 581.1,520.7 581.6,521 582.1,519.9 582.6,520.5 583.1,519.6 583.6,519.5 584.1,520.1 584.6,519.8 585.1,520.9 585.6,521.1 586.1,520.5 586.6,520.6 587.1,520.6 587.6,520.6 588.1,520.8 588.6,520.9 589.1,520.5 589.6,520.4 590.1,520.5 590.6,521.2 591.1,520.6 591.6,521.5 592.1,520.4 592.6,521 593.1,519.5 593.6,519.5 594.1,519.9 594.6,519.7 595.1,519.1 595.6,520.1 596.1,518.9 596.6,519 597.1,518.5 597.6,520.2 598.1,520.3 598.6,519.5 599.1,517.9 599.6,519 600.1,518.5 600.6,519 601.1,519.3 601.6,518.3 602.1,518.9 602.6,519.2 603.1,518.8 603.6,518.6 604.1,518.2 604.6,518.4 605.1,518 605.6,519.3 606.1,518.8 606.6,518 607.1,518.7 607.6,518 608.1,516.9 608.6,519.4 609.1,519.3 609.6,517.9 610.1,518.3 610.6,518.8 611.1,518.5 611.6,518.2 612.1,518.4 612.6,518.5 613.1,518.3 613.6,518.8 614.1,518.5 614.6,518.2 615.1,518.6 615.6,516.9 616.1,517.7 616.6,516.9 617.1,518.7 617.6,519 618.1,519.1 618.6,519.1 618.7,519.7" fill="none" stroke="#111" stroke-width="1.05" stroke-linejoin="round" />
<rect x="111.5" y="493.2" width="45.25" height="42.15" fill="rgb(88,70,52)" fill-opacity="0.8"/>
<rect x="277.2" y="493.2" width="5.9" height="42.15" fill="rgb(88,70,52)" fill-opacity="0.8"/>
<rect x="396.15" y="493.2" width="0.9" height="42.15" fill="rgb(88,70,52)" fill-opacity="0.5"/>
<rect x="438.4" y="493.2" width="2.3" height="42.15" fill="rgb(88,70,52)" fill-opacity="0.8"/>
<rect x="442.2" y="493.2" width="4.1" height="42.15" fill="rgb(88,70,52)" fill-opacity="0.8"/>
<rect x="498" y="493.2" width="33.6" height="42.15" fill="rgb(88,70,52)" fill-opacity="0.8"/>
<rect x="536.1" y="493.2" width="7" height="42.15" fill="rgb(88,70,52)" fill-opacity="0.8"/>
<rect x="544.5" y="493.2" width="1.55" height="42.15" fill="rgb(88,70,52)" fill-opacity="0.8"/>
<rect x="553.9" y="493.2" width="2.9" height="42.15" fill="rgb(88,70,52)" fill-opacity="0.8"/>
<rect x="565.9" y="493.2" width="4" height="42.15" fill="rgb(88,70,52)" fill-opacity="0.8"/>
<rect x="151" y="493.2" width="5" height="42.15" fill="#d42318" />
<rect x="317.7" y="493.2" width="8.4" height="42.15" fill="#d42318" />
<rect x="493.55" y="493.2" width="4.7" height="42.15" fill="#d42318" />
<rect x="531.25" y="493.2" width="4.85" height="42.15" fill="#d42318" />
<rect x="618.6" y="493.2" width="4.5" height="42.15" fill="#d42318" />
<line x1="111.15" y1="492.9" x2="111.15" y2="535.65" stroke="#111" stroke-width="1.5" />
<line x1="108" y1="535.05" x2="111.15" y2="535.05" stroke="#111" stroke-width="1.05" />
<line x1="108" y1="529.86" x2="111.15" y2="529.86" stroke="#111" stroke-width="1.05" />
<line x1="108" y1="524.66" x2="111.15" y2="524.66" stroke="#111" stroke-width="1.05" />
<line x1="108" y1="519.47" x2="111.15" y2="519.47" stroke="#111" stroke-width="1.05" />
<line x1="108" y1="514.27" x2="111.15" y2="514.27" stroke="#111" stroke-width="1.05" />
<line x1="108" y1="509.08" x2="111.15" y2="509.08" stroke="#111" stroke-width="1.05" />
<line x1="108" y1="503.89" x2="111.15" y2="503.89" stroke="#111" stroke-width="1.05" />
<line x1="108" y1="498.69" x2="111.15" y2="498.69" stroke="#111" stroke-width="1.05" />
<line x1="108" y1="493.5" x2="111.15" y2="493.5" stroke="#111" stroke-width="1.05" />
<line x1="104.9" y1="493.5" x2="111.15" y2="493.5" stroke="#111" stroke-width="1.2" />
<line x1="104.9" y1="503.89" x2="111.15" y2="503.89" stroke="#111" stroke-width="1.2" />
<line x1="104.9" y1="514.27" x2="111.15" y2="514.27" stroke="#111" stroke-width="1.2" />
<line x1="104.9" y1="524.66" x2="111.15" y2="524.66" stroke="#111" stroke-width="1.2" />
<line x1="104.9" y1="535.05" x2="111.15" y2="535.05" stroke="#111" stroke-width="1.2" />
<line x1="631.55" y1="492.9" x2="631.55" y2="535.65" stroke="#111" stroke-width="1.5" />
<line x1="628.2" y1="535.05" x2="634.3" y2="535.05" stroke="#111" stroke-width="1.0" />
<line x1="628.2" y1="529.86" x2="634.3" y2="529.86" stroke="#111" stroke-width="1.0" />
<line x1="628.2" y1="524.66" x2="634.3" y2="524.66" stroke="#111" stroke-width="1.0" />
<line x1="628.2" y1="519.47" x2="634.3" y2="519.47" stroke="#111" stroke-width="1.0" />
<line x1="628.2" y1="514.27" x2="634.3" y2="514.27" stroke="#111" stroke-width="1.0" />
<line x1="628.2" y1="509.08" x2="634.3" y2="509.08" stroke="#111" stroke-width="1.0" />
<line x1="628.2" y1="503.89" x2="634.3" y2="503.89" stroke="#111" stroke-width="1.0" />
<line x1="628.2" y1="498.69" x2="634.3" y2="498.69" stroke="#111" stroke-width="1.0" />
<line x1="628.2" y1="493.5" x2="634.3" y2="493.5" stroke="#111" stroke-width="1.0" />
<line x1="625.1" y1="493.5" x2="637" y2="493.5" stroke="#111" stroke-width="1.2" />
<line x1="625.1" y1="503.89" x2="637" y2="503.89" stroke="#111" stroke-width="1.2" />
<line x1="625.1" y1="514.27" x2="637" y2="514.27" stroke="#111" stroke-width="1.2" />
<line x1="625.1" y1="524.66" x2="637" y2="524.66" stroke="#111" stroke-width="1.2" />
<line x1="625.1" y1="535.05" x2="637" y2="535.05" stroke="#111" stroke-width="1.2" />
<text x="100.4" y="497.15" font-size="11.5" font-weight="normal" text-anchor="end" >250</text>
<text x="100.4" y="507.54" font-size="11.5" font-weight="normal" text-anchor="end" >200</text>
<text x="100.4" y="517.92" font-size="11.5" font-weight="normal" text-anchor="end" >150</text>
<text x="100.4" y="528.31" font-size="11.5" font-weight="normal" text-anchor="end" >100</text>
<text x="100.4" y="538.7" font-size="11.5" font-weight="normal" text-anchor="end" >50</text>
<line x1="110.3" y1="537.5" x2="631.8" y2="537.5" stroke="#111" stroke-width="1.2" />
<line x1="120.22" y1="537.5" x2="120.22" y2="540.5" stroke="#111" stroke-width="1.1" />
<line x1="134.41" y1="537.5" x2="134.41" y2="540.5" stroke="#111" stroke-width="1.1" />
<line x1="148.6" y1="537.5" x2="148.6" y2="543.7" stroke="#111" stroke-width="1.1" />
<line x1="162.79" y1="537.5" x2="162.79" y2="540.5" stroke="#111" stroke-width="1.1" />
<line x1="176.98" y1="537.5" x2="176.98" y2="540.5" stroke="#111" stroke-width="1.1" />
<line x1="191.17" y1="537.5" x2="191.17" y2="540.5" stroke="#111" stroke-width="1.1" />
<line x1="205.36" y1="537.5" x2="205.36" y2="543.7" stroke="#111" stroke-width="1.1" />
<line x1="219.55" y1="537.5" x2="219.55" y2="540.5" stroke="#111" stroke-width="1.1" />
<line x1="233.74" y1="537.5" x2="233.74" y2="540.5" stroke="#111" stroke-width="1.1" />
<line x1="247.93" y1="537.5" x2="247.93" y2="540.5" stroke="#111" stroke-width="1.1" />
<line x1="262.12" y1="537.5" x2="262.12" y2="543.7" stroke="#111" stroke-width="1.1" />
<line x1="276.31" y1="537.5" x2="276.31" y2="540.5" stroke="#111" stroke-width="1.1" />
<line x1="290.5" y1="537.5" x2="290.5" y2="540.5" stroke="#111" stroke-width="1.1" />
<line x1="304.69" y1="537.5" x2="304.69" y2="540.5" stroke="#111" stroke-width="1.1" />
<line x1="318.88" y1="537.5" x2="318.88" y2="543.7" stroke="#111" stroke-width="1.1" />
<line x1="333.07" y1="537.5" x2="333.07" y2="540.5" stroke="#111" stroke-width="1.1" />
<line x1="347.26" y1="537.5" x2="347.26" y2="540.5" stroke="#111" stroke-width="1.1" />
<line x1="361.45" y1="537.5" x2="361.45" y2="540.5" stroke="#111" stroke-width="1.1" />
<line x1="375.64" y1="537.5" x2="375.64" y2="543.7" stroke="#111" stroke-width="1.1" />
<line x1="389.83" y1="537.5" x2="389.83" y2="540.5" stroke="#111" stroke-width="1.1" />
<line x1="404.02" y1="537.5" x2="404.02" y2="540.5" stroke="#111" stroke-width="1.1" />
<line x1="418.21" y1="537.5" x2="418.21" y2="540.5" stroke="#111" stroke-width="1.1" />
<line x1="432.4" y1="537.5" x2="432.4" y2="543.7" stroke="#111" stroke-width="1.1" />
<line x1="446.59" y1="537.5" x2="446.59" y2="540.5" stroke="#111" stroke-width="1.1" />
<line x1="460.78" y1="537.5" x2="460.78" y2="540.5" stroke="#111" stroke-width="1.1" />
<line x1="474.97" y1="537.5" x2="474.97" y2="540.5" stroke="#111" stroke-width="1.1" />
<line x1="489.16" y1="537.5" x2="489.16" y2="543.7" stroke="#111" stroke-width="1.1" />
<line x1="503.35" y1="537.5" x2="503.35" y2="540.5" stroke="#111" stroke-width="1.1" />
<line x1="517.54" y1="537.5" x2="517.54" y2="540.5" stroke="#111" stroke-width="1.1" />
<line x1="531.73" y1="537.5" x2="531.73" y2="540.5" stroke="#111" stroke-width="1.1" />
<line x1="545.92" y1="537.5" x2="545.92" y2="543.7" stroke="#111" stroke-width="1.1" />
<line x1="560.11" y1="537.5" x2="560.11" y2="540.5" stroke="#111" stroke-width="1.1" />
<line x1="574.3" y1="537.5" x2="574.3" y2="540.5" stroke="#111" stroke-width="1.1" />
<line x1="588.49" y1="537.5" x2="588.49" y2="540.5" stroke="#111" stroke-width="1.1" />
<line x1="602.68" y1="537.5" x2="602.68" y2="543.7" stroke="#111" stroke-width="1.1" />
<line x1="616.87" y1="537.5" x2="616.87" y2="540.5" stroke="#111" stroke-width="1.1" />
<line x1="631.06" y1="537.5" x2="631.06" y2="540.5" stroke="#111" stroke-width="1.1" />
<text x="36" y="505.5" font-size="13" font-weight="bold" text-anchor="start" >Heart</text>
<text x="36" y="522.3" font-size="13" font-weight="bold" text-anchor="start" >Rate</text>
<text x="641.8" y="502.8" font-size="12" font-weight="normal" text-anchor="start" >(Min<tspan font-size="8.6" dy="-4.8">-1</tspan><tspan dy="4.8">)</tspan></text>
<rect x="111.5" y="555.5" width="519.5" height="42.55" fill="#f9f9f6" />
<defs><polygon id="s40" points="111.8,597.3 111.8,591.2 112.6,591.2 112.6,579.4 119.6,579.4 119.6,591.2 123.9,591.2 123.9,579.4 128.4,579.4 128.4,591.2 129.3,591.2 129.3,579.4 133.2,579.4 133.2,555.8 134.2,555.8 134.2,591.2 135.6,591.2 135.6,555.8 146.1,555.8 146.1,579.4 146.6,579.4 146.6,555.8 147.3,555.8 147.3,591.2 147.9,591.2 147.9,555.8 150,555.8 150,591.2 150.5,591.2 150.5,555.8 151.1,555.8 151.1,555.8 151.1,597.3"/></defs>
<use href="#s40" fill="url(#tan)"/>
<use href="#s40" fill="url(#hatch)"/>
<polyline points="111.8,591.2 112.6,591.2 112.6,579.4 119.6,579.4 119.6,591.2 123.9,591.2 123.9,579.4 128.4,579.4 128.4,591.2 129.3,591.2 129.3,579.4 133.2,579.4 133.2,555.8 134.2,555.8 134.2,591.2 135.6,591.2 135.6,555.8 146.1,555.8 146.1,579.4 146.6,579.4 146.6,555.8 147.3,555.8 147.3,591.2 147.9,591.2 147.9,555.8 150,555.8 150,591.2 150.5,591.2 150.5,555.8 151.1,555.8 151.1,555.8" fill="none" stroke="#111" stroke-width="0.75" stroke-linejoin="round" />
<defs><polygon id="s41" points="156.6,597.3 156.6,591.2 277.8,591.2 277.8,579.4 278.6,579.4 278.6,591.2 317.6,591.2 317.6,591.2 317.6,597.3"/></defs>
<use href="#s41" fill="url(#tan)"/>
<use href="#s41" fill="url(#hatch)"/>
<polyline points="156.6,591.2 277.8,591.2 277.8,579.4 278.6,579.4 278.6,591.2 317.6,591.2 317.6,591.2" fill="none" stroke="#111" stroke-width="0.75" stroke-linejoin="round" />
<defs><polygon id="s42" points="326.2,597.3 326.2,579.4 493.7,579.4 493.7,579.4 493.7,597.3"/></defs>
<use href="#s42" fill="url(#tan)"/>
<use href="#s42" fill="url(#hatch)"/>
<polyline points="326.2,579.4 493.7,579.4 493.7,579.4" fill="none" stroke="#111" stroke-width="0.75" stroke-linejoin="round" />
<defs><polygon id="s43" points="498,597.3 498,591.2 501.4,591.2 501.4,579.4 506.4,579.4 506.4,591.2 510,591.2 510,579.4 510.6,579.4 510.6,591.2 511.9,591.2 511.9,579.4 524.4,579.4 524.4,591.2 531.6,591.2 531.6,591.2 531.6,597.3"/></defs>
<use href="#s43" fill="url(#tan)"/>
<use href="#s43" fill="url(#hatch)"/>
<polyline points="498,591.2 501.4,591.2 501.4,579.4 506.4,579.4 506.4,591.2 510,591.2 510,579.4 510.6,579.4 510.6,591.2 511.9,591.2 511.9,579.4 524.4,579.4 524.4,591.2 531.6,591.2 531.6,591.2" fill="none" stroke="#111" stroke-width="0.75" stroke-linejoin="round" />
<defs><polygon id="s44" points="536.1,597.3 536.1,591.2 618.7,591.2 618.7,591.2 618.7,597.3"/></defs>
<use href="#s44" fill="url(#tan)"/>
<use href="#s44" fill="url(#hatch)"/>
<polyline points="536.1,591.2 618.7,591.2 618.7,591.2" fill="none" stroke="#111" stroke-width="0.75" stroke-linejoin="round" />
<rect x="111.5" y="555.5" width="45.25" height="42.15" fill="rgb(88,70,52)" fill-opacity="0.8"/>
<rect x="277.2" y="555.5" width="5.9" height="42.15" fill="rgb(88,70,52)" fill-opacity="0.8"/>
<rect x="396.15" y="555.5" width="0.9" height="42.15" fill="rgb(88,70,52)" fill-opacity="0.5"/>
<rect x="438.4" y="555.5" width="2.3" height="42.15" fill="rgb(88,70,52)" fill-opacity="0.8"/>
<rect x="442.2" y="555.5" width="4.1" height="42.15" fill="rgb(88,70,52)" fill-opacity="0.8"/>
<rect x="498" y="555.5" width="33.6" height="42.15" fill="rgb(88,70,52)" fill-opacity="0.8"/>
<rect x="536.1" y="555.5" width="7" height="42.15" fill="rgb(88,70,52)" fill-opacity="0.8"/>
<rect x="544.5" y="555.5" width="1.55" height="42.15" fill="rgb(88,70,52)" fill-opacity="0.8"/>
<rect x="553.9" y="555.5" width="2.9" height="42.15" fill="rgb(88,70,52)" fill-opacity="0.8"/>
<rect x="565.9" y="555.5" width="4" height="42.15" fill="rgb(88,70,52)" fill-opacity="0.8"/>
<rect x="151" y="555.5" width="5" height="42.15" fill="#d42318" />
<rect x="317.7" y="555.5" width="8.4" height="42.15" fill="#d42318" />
<rect x="493.55" y="555.5" width="4.7" height="42.15" fill="#d42318" />
<rect x="531.25" y="555.5" width="4.85" height="42.15" fill="#d42318" />
<rect x="618.6" y="555.5" width="4.5" height="42.15" fill="#d42318" />
<line x1="111.15" y1="555.2" x2="111.15" y2="597.95" stroke="#111" stroke-width="1.5" />
<line x1="104.9" y1="555.8" x2="111.15" y2="555.8" stroke="#111" stroke-width="1.2" />
<line x1="104.9" y1="567.6" x2="111.15" y2="567.6" stroke="#111" stroke-width="1.2" />
<line x1="104.9" y1="579.4" x2="111.15" y2="579.4" stroke="#111" stroke-width="1.2" />
<line x1="104.9" y1="591.2" x2="111.15" y2="591.2" stroke="#111" stroke-width="1.2" />
<text x="99.8" y="559.6" font-size="13" font-weight="normal" text-anchor="end" >UpSide</text>
<text x="99.8" y="571.4" font-size="13" font-weight="normal" text-anchor="end" >Prone</text>
<text x="99.8" y="583.2" font-size="13" font-weight="normal" text-anchor="end" >Side</text>
<text x="99.8" y="595" font-size="13" font-weight="normal" text-anchor="end" >Supine</text>
<text x="0.2" y="554.4" font-size="13" font-weight="bold" text-anchor="start" >Position</text>
<line x1="110.3" y1="600.8" x2="631.8" y2="600.8" stroke="#111" stroke-width="1.2" />
<line x1="120.22" y1="600.8" x2="120.22" y2="603.8" stroke="#111" stroke-width="1.1" />
<line x1="134.41" y1="600.8" x2="134.41" y2="603.8" stroke="#111" stroke-width="1.1" />
<line x1="148.6" y1="600.8" x2="148.6" y2="607" stroke="#111" stroke-width="1.1" />
<line x1="162.79" y1="600.8" x2="162.79" y2="603.8" stroke="#111" stroke-width="1.1" />
<line x1="176.98" y1="600.8" x2="176.98" y2="603.8" stroke="#111" stroke-width="1.1" />
<line x1="191.17" y1="600.8" x2="191.17" y2="603.8" stroke="#111" stroke-width="1.1" />
<line x1="205.36" y1="600.8" x2="205.36" y2="607" stroke="#111" stroke-width="1.1" />
<line x1="219.55" y1="600.8" x2="219.55" y2="603.8" stroke="#111" stroke-width="1.1" />
<line x1="233.74" y1="600.8" x2="233.74" y2="603.8" stroke="#111" stroke-width="1.1" />
<line x1="247.93" y1="600.8" x2="247.93" y2="603.8" stroke="#111" stroke-width="1.1" />
<line x1="262.12" y1="600.8" x2="262.12" y2="607" stroke="#111" stroke-width="1.1" />
<line x1="276.31" y1="600.8" x2="276.31" y2="603.8" stroke="#111" stroke-width="1.1" />
<line x1="290.5" y1="600.8" x2="290.5" y2="603.8" stroke="#111" stroke-width="1.1" />
<line x1="304.69" y1="600.8" x2="304.69" y2="603.8" stroke="#111" stroke-width="1.1" />
<line x1="318.88" y1="600.8" x2="318.88" y2="607" stroke="#111" stroke-width="1.1" />
<line x1="333.07" y1="600.8" x2="333.07" y2="603.8" stroke="#111" stroke-width="1.1" />
<line x1="347.26" y1="600.8" x2="347.26" y2="603.8" stroke="#111" stroke-width="1.1" />
<line x1="361.45" y1="600.8" x2="361.45" y2="603.8" stroke="#111" stroke-width="1.1" />
<line x1="375.64" y1="600.8" x2="375.64" y2="607" stroke="#111" stroke-width="1.1" />
<line x1="389.83" y1="600.8" x2="389.83" y2="603.8" stroke="#111" stroke-width="1.1" />
<line x1="404.02" y1="600.8" x2="404.02" y2="603.8" stroke="#111" stroke-width="1.1" />
<line x1="418.21" y1="600.8" x2="418.21" y2="603.8" stroke="#111" stroke-width="1.1" />
<line x1="432.4" y1="600.8" x2="432.4" y2="607" stroke="#111" stroke-width="1.1" />
<line x1="446.59" y1="600.8" x2="446.59" y2="603.8" stroke="#111" stroke-width="1.1" />
<line x1="460.78" y1="600.8" x2="460.78" y2="603.8" stroke="#111" stroke-width="1.1" />
<line x1="474.97" y1="600.8" x2="474.97" y2="603.8" stroke="#111" stroke-width="1.1" />
<line x1="489.16" y1="600.8" x2="489.16" y2="607" stroke="#111" stroke-width="1.1" />
<line x1="503.35" y1="600.8" x2="503.35" y2="603.8" stroke="#111" stroke-width="1.1" />
<line x1="517.54" y1="600.8" x2="517.54" y2="603.8" stroke="#111" stroke-width="1.1" />
<line x1="531.73" y1="600.8" x2="531.73" y2="603.8" stroke="#111" stroke-width="1.1" />
<line x1="545.92" y1="600.8" x2="545.92" y2="607" stroke="#111" stroke-width="1.1" />
<line x1="560.11" y1="600.8" x2="560.11" y2="603.8" stroke="#111" stroke-width="1.1" />
<line x1="574.3" y1="600.8" x2="574.3" y2="603.8" stroke="#111" stroke-width="1.1" />
<line x1="588.49" y1="600.8" x2="588.49" y2="603.8" stroke="#111" stroke-width="1.1" />
<line x1="602.68" y1="600.8" x2="602.68" y2="607" stroke="#111" stroke-width="1.1" />
<line x1="616.87" y1="600.8" x2="616.87" y2="603.8" stroke="#111" stroke-width="1.1" />
<line x1="631.06" y1="600.8" x2="631.06" y2="603.8" stroke="#111" stroke-width="1.1" />
<text x="148.9" y="621.4" font-size="13" font-weight="normal" text-anchor="middle" >0:22:00</text>
<text x="205.66" y="621.4" font-size="13" font-weight="normal" text-anchor="middle" >0:23:00</text>
<text x="262.42" y="621.4" font-size="13" font-weight="normal" text-anchor="middle" >1:00:00</text>
<text x="319.18" y="621.4" font-size="13" font-weight="normal" text-anchor="middle" >1:01:00</text>
<text x="375.94" y="621.4" font-size="13" font-weight="normal" text-anchor="middle" >1:02:00</text>
<text x="432.7" y="621.4" font-size="13" font-weight="normal" text-anchor="middle" >1:03:00</text>
<text x="489.46" y="621.4" font-size="13" font-weight="normal" text-anchor="middle" >1:04:00</text>
<text x="546.22" y="621.4" font-size="13" font-weight="normal" text-anchor="middle" >1:05:00</text>
<text x="602.98" y="621.4" font-size="13" font-weight="normal" text-anchor="middle" >1:06:00</text>
<text x="549.3" y="639.8" font-size="13.45" font-weight="normal" text-anchor="start" >Time (d:hh:mm)</text>
</svg>
</body></html>
